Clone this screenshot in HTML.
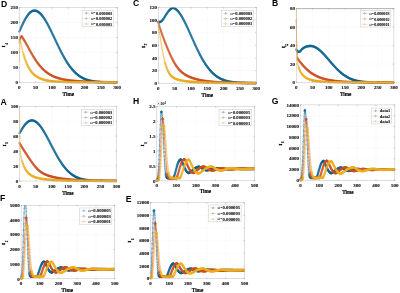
<!DOCTYPE html>
<html><head><meta charset="utf-8"><style>
html,body{margin:0;padding:0;background:#fff;width:400px;height:293px;overflow:hidden}
svg{display:block;filter:blur(0.55px)}
.tk text{font-family:"Liberation Serif",serif;font-weight:bold;font-size:5px;fill:#111;stroke:#111;stroke-width:0.12px}
.tm{font-family:"Liberation Serif",serif;font-weight:bold;font-size:5.2px;fill:#000;stroke:#000;stroke-width:0.15px}
.lt{font-family:"Liberation Sans",sans-serif;font-weight:bold;font-size:8.6px;fill:#000}
.yl{font-family:"Liberation Serif",serif;font-weight:bold;font-size:4.4px;fill:#000;stroke:#000;stroke-width:0.3px}
.sb{font-family:"Liberation Serif",serif;font-weight:bold;font-size:3.2px;fill:#000;stroke:#000;stroke-width:0.15px}
.sb2{font-family:"Liberation Serif",serif;font-weight:bold;font-size:4.6px;fill:#111}
.lg{font-family:"Liberation Serif",serif;font-weight:bold;font-size:4.9px;fill:#000;stroke:#000;stroke-width:0.06px}
.lw{font-family:"Liberation Serif",serif;font-weight:bold;font-size:4.6px;fill:#333}
</style></head><body>
<svg width="400" height="293" viewBox="0 0 400 293">
<defs><marker id="m0" markerUnits="userSpaceOnUse" markerWidth="2.56" markerHeight="2.56" refX="1.28" refY="1.28" overflow="visible"><circle cx="1.28" cy="1.28" r="0.8" fill="none" stroke="#0a6290" stroke-width="0.46"/></marker><marker id="n0" markerUnits="userSpaceOnUse" markerWidth="2.56" markerHeight="2.56" refX="1.28" refY="1.28" overflow="visible"><circle cx="1.28" cy="1.28" r="0.78" fill="none" stroke="#0a6290" stroke-width="0.45"/></marker><marker id="s0" markerUnits="userSpaceOnUse" markerWidth="2.56" markerHeight="2.56" refX="1.28" refY="1.28" overflow="visible"><circle cx="1.28" cy="1.28" r="0.7" fill="none" stroke="#0a6290" stroke-opacity="0.6" stroke-width="0.38"/></marker><marker id="m1" markerUnits="userSpaceOnUse" markerWidth="2.56" markerHeight="2.56" refX="1.28" refY="1.28" overflow="visible"><circle cx="1.28" cy="1.28" r="0.8" fill="none" stroke="#cc4f22" stroke-width="0.46"/></marker><marker id="n1" markerUnits="userSpaceOnUse" markerWidth="2.56" markerHeight="2.56" refX="1.28" refY="1.28" overflow="visible"><circle cx="1.28" cy="1.28" r="0.78" fill="none" stroke="#cc4f22" stroke-width="0.45"/></marker><marker id="s1" markerUnits="userSpaceOnUse" markerWidth="2.56" markerHeight="2.56" refX="1.28" refY="1.28" overflow="visible"><circle cx="1.28" cy="1.28" r="0.7" fill="none" stroke="#cc4f22" stroke-opacity="0.6" stroke-width="0.38"/></marker><marker id="m2" markerUnits="userSpaceOnUse" markerWidth="2.56" markerHeight="2.56" refX="1.28" refY="1.28" overflow="visible"><circle cx="1.28" cy="1.28" r="0.8" fill="none" stroke="#ebae20" stroke-width="0.46"/></marker><marker id="n2" markerUnits="userSpaceOnUse" markerWidth="2.56" markerHeight="2.56" refX="1.28" refY="1.28" overflow="visible"><circle cx="1.28" cy="1.28" r="0.78" fill="none" stroke="#ebae20" stroke-width="0.45"/></marker><marker id="s2" markerUnits="userSpaceOnUse" markerWidth="2.56" markerHeight="2.56" refX="1.28" refY="1.28" overflow="visible"><circle cx="1.28" cy="1.28" r="0.7" fill="none" stroke="#ebae20" stroke-opacity="0.6" stroke-width="0.38"/></marker><clipPath id="cD"><rect x="17.8" y="7.4" width="99.7" height="76.3"/></clipPath><clipPath id="cC"><rect x="156.8" y="7.3" width="99.8" height="77.1"/></clipPath><clipPath id="cB"><rect x="294.8" y="8.4" width="99.4" height="75.4"/></clipPath><clipPath id="cA"><rect x="18" y="106" width="98.9" height="76.2"/></clipPath><clipPath id="cH"><rect x="155.3" y="106.3" width="99.6" height="75.7"/></clipPath><clipPath id="cG"><rect x="298.9" y="104.7" width="96.2" height="76.8"/></clipPath><clipPath id="cF"><rect x="19.6" y="205.1" width="95.4" height="74.9"/></clipPath><clipPath id="cE"><rect x="149" y="202.5" width="95.7" height="77.3"/></clipPath></defs>
<rect width="400" height="293" fill="#fff"/>
<path d="M35.62 7.6V82.5M51.93 7.6V82.5M68.25 7.6V82.5M84.57 7.6V82.5M100.88 7.6V82.5M19.3 67.52H117.2M19.3 52.54H117.2M19.3 37.56H117.2M19.3 22.58H117.2" stroke="#f6f6f6" stroke-width="0.5" fill="none"/>
<g clip-path="url(#cD)">
<polyline points="19.3,31.7 19.6,31 20,30.2 20.3,29.4 20.6,28.7 20.9,28 21.3,27.2 21.6,26.5 21.9,25.8 22.2,25.1 22.6,24.4 22.9,23.7 23.2,23 23.5,22.4 23.9,21.7 24.2,21.1 24.5,20.5 24.8,19.9 25.2,19.3 25.5,18.7 25.8,18.2 26.2,17.6 26.5,17.1 26.8,16.6 27.1,16.1 27.5,15.6 27.8,15.2 28.1,14.7 28.4,14.3 28.8,13.9 29.1,13.6 29.4,13.2 29.7,12.9 30.1,12.6 30.4,12.3 30.7,12 31,11.8 31.4,11.5 31.7,11.3 32,11.2 32.4,11 32.7,10.9 33,10.8 33.3,10.7 33.7,10.6 34,10.6 34.3,10.6 34.6,10.6 35,10.6 35.3,10.7 35.6,10.7 35.9,10.8 36.3,10.9 36.6,11 36.9,11.2 37.2,11.3 37.6,11.5 37.9,11.7 38.2,11.9 38.6,12.1 38.9,12.4 39.2,12.6 39.5,12.9 39.9,13.2 40.2,13.5 40.5,13.8 40.8,14.1 41.2,14.5 41.5,14.9 41.8,15.2 42.1,15.6 42.5,16.1 42.8,16.5 43.1,16.9 43.4,17.4 43.8,17.8 44.1,18.3 44.4,18.8 44.8,19.3 45.1,19.8 45.4,20.4 45.7,20.9 46.1,21.4 46.4,22 46.7,22.6 47,23.2 47.4,23.7 47.7,24.3 48,25 48.3,25.6 48.7,26.2 49,26.8 49.3,27.5 49.6,28.1 50,28.7 50.3,29.4 50.6,30.1 51,30.7 51.3,31.4 51.6,32.1 51.9,32.7 52.3,33.4 52.6,34.1 52.9,34.8 53.2,35.5 53.6,36.2 53.9,36.9 54.2,37.5 54.5,38.2 54.9,38.9 55.2,39.6 55.5,40.3 55.8,41 56.2,41.7 56.5,42.4 56.8,43.1 57.2,43.8 57.5,44.4 57.8,45.1 58.1,45.8 58.5,46.5 58.8,47.2 59.1,47.8 59.4,48.5 59.8,49.1 60.1,49.8 60.4,50.4 60.7,51.1 61.1,51.7 61.4,52.4 61.7,53 62,53.6 62.4,54.2 62.7,54.8 63,55.5 63.4,56 63.7,56.6 64,57.2 64.3,57.8 64.7,58.4 65,58.9 65.3,59.5 65.6,60 66,60.6 66.3,61.1 66.6,61.6 66.9,62.2 67.3,62.7 67.6,63.2 67.9,63.7 68.2,64.1 68.6,64.6 68.9,65.1 69.2,65.6 69.6,66 69.9,66.5 70.2,66.9 70.5,67.3 70.9,67.7 71.2,68.2 71.5,68.6 71.8,69 72.2,69.3 72.5,69.7 72.8,70.1 73.1,70.5 73.5,70.8 73.8,71.2 74.1,71.5 74.5,71.9 74.8,72.2 75.1,72.5 75.4,72.8 75.8,73.1 76.1,73.4 76.4,73.7 76.7,74 77.1,74.3 77.4,74.5 77.7,74.8 78,75 78.4,75.3 78.7,75.5 79,75.8 79.3,76 79.7,76.2 80,76.4 80.3,76.7 80.7,76.9 81,77.1 81.3,77.3 81.6,77.4 82,77.6 82.3,77.8 82.6,78 82.9,78.1 83.3,78.3 83.6,78.5 83.9,78.6 84.2,78.8 84.6,78.9 84.9,79 85.2,79.2 85.5,79.3 85.9,79.4 86.2,79.5 86.5,79.7 86.9,79.8 87.2,79.9 87.5,80 87.8,80.1 88.2,80.2 88.5,80.3 88.8,80.4 89.1,80.5 89.5,80.5 89.8,80.6 90.1,80.7 90.4,80.8 90.8,80.9 91.1,80.9 91.4,81 91.7,81.1 92.1,81.1 92.4,81.2 92.7,81.2 93.1,81.3 93.4,81.4 93.7,81.4 94,81.5 94.4,81.5 94.7,81.5 95,81.6 95.3,81.6 95.7,81.7 96,81.7 96.3,81.7 96.6,81.8 97,81.8 97.3,81.8 97.6,81.9 97.9,81.9 98.3,81.9 98.6,82 98.9,82 99.3,82 99.6,82 99.9,82.1 100.2,82.1 100.6,82.1 100.9,82.1 101.2,82.1 101.5,82.2 101.9,82.2 102.2,82.2 102.5,82.2 102.8,82.2 103.2,82.2 103.5,82.3 103.8,82.3 104.1,82.3 104.5,82.3 104.8,82.3 105.1,82.3 105.5,82.3 105.8,82.3 106.1,82.3 106.4,82.3 106.8,82.4 107.1,82.4 107.4,82.4 107.7,82.4 108.1,82.4 108.4,82.4 108.7,82.4 109,82.4 109.4,82.4 109.7,82.4 110,82.4 110.3,82.4 110.7,82.4 111,82.4 111.3,82.4 111.7,82.4 112,82.4 112.3,82.4 112.6,82.5 113,82.5 113.3,82.5 113.6,82.5 113.9,82.5 114.3,82.5 114.6,82.5 114.9,82.5 115.2,82.5 115.6,82.5 115.9,82.5 116.2,82.5 116.5,82.5 116.9,82.5 117.2,82.5" fill="none" stroke="#0a6290" stroke-width="0.5" marker-start="url(#m0)" marker-mid="url(#m0)" marker-end="url(#m0)"/>
<polyline points="19.3,42.3 19.6,40.7 20,39.4" fill="none" stroke="#cc4f22" stroke-width="0.5" marker-start="url(#s1)" marker-mid="url(#s1)" marker-end="url(#s1)"/>
<polyline points="20,39.4 20.3,38.3 20.6,37.4 20.9,36.8 21.3,36.3 21.6,36.1 21.9,36.5 22.2,37.1 22.6,37.6 22.9,38.2 23.2,38.7 23.5,39.3 23.9,39.8 24.2,40.3 24.5,40.8 24.8,41.4 25.2,41.9 25.5,42.5 25.8,43 26.2,43.6 26.5,44.2 26.8,44.7 27.1,45.3 27.5,45.9 27.8,46.5 28.1,47.1 28.4,47.8 28.8,48.4 29.1,49 29.4,49.6 29.7,50.2 30.1,50.8 30.4,51.4 30.7,52 31,52.6 31.4,53.2 31.7,53.7 32,54.3 32.4,54.9 32.7,55.4 33,56 33.3,56.5 33.7,57.1 34,57.6 34.3,58.1 34.6,58.6 35,59.1 35.3,59.6 35.6,60.1 35.9,60.6 36.3,61.1 36.6,61.5 36.9,62 37.2,62.5 37.6,62.9 37.9,63.3 38.2,63.8 38.6,64.2 38.9,64.6 39.2,65 39.5,65.4 39.9,65.8 40.2,66.2 40.5,66.6 40.8,66.9 41.2,67.3 41.5,67.7 41.8,68 42.1,68.3 42.5,68.7 42.8,69 43.1,69.3 43.4,69.6 43.8,69.9 44.1,70.2 44.4,70.5 44.8,70.8 45.1,71.1 45.4,71.4 45.7,71.6 46.1,71.9 46.4,72.1 46.7,72.4 47,72.6 47.4,72.9 47.7,73.1 48,73.3 48.3,73.6 48.7,73.8 49,74 49.3,74.2 49.6,74.4 50,74.6 50.3,74.8 50.6,74.9 51,75.1 51.3,75.3 51.6,75.5 51.9,75.6 52.3,75.8 52.6,76 52.9,76.1 53.2,76.3 53.6,76.4 53.9,76.6 54.2,76.7 54.5,76.8 54.9,77 55.2,77.1 55.5,77.2 55.8,77.3 56.2,77.5 56.5,77.6 56.8,77.7 57.2,77.8 57.5,77.9 57.8,78 58.1,78.1 58.5,78.2 58.8,78.3 59.1,78.4 59.4,78.5 59.8,78.6 60.1,78.7 60.4,78.8 60.7,78.8 61.1,78.9 61.4,79 61.7,79.1 62,79.1 62.4,79.2 62.7,79.3 63,79.4 63.4,79.4 63.7,79.5 64,79.6 64.3,79.6 64.7,79.7 65,79.7 65.3,79.8 65.6,79.9 66,79.9 66.3,80 66.6,80 66.9,80.1 67.3,80.1 67.6,80.2 67.9,80.2 68.2,80.3 68.6,80.3 68.9,80.3 69.2,80.4 69.6,80.4 69.9,80.5 70.2,80.5 70.5,80.6 70.9,80.6 71.2,80.6 71.5,80.7 71.8,80.7 72.2,80.7 72.5,80.8 72.8,80.8 73.1,80.8 73.5,80.9 73.8,80.9 74.1,80.9 74.5,81 74.8,81 75.1,81 75.4,81 75.8,81.1 76.1,81.1 76.4,81.1 76.7,81.2 77.1,81.2 77.4,81.2 77.7,81.2 78,81.3 78.4,81.3 78.7,81.3 79,81.3 79.3,81.3 79.7,81.4 80,81.4 80.3,81.4 80.7,81.4 81,81.4 81.3,81.5 81.6,81.5 82,81.5 82.3,81.5 82.6,81.5 82.9,81.6 83.3,81.6 83.6,81.6 83.9,81.6 84.2,81.6 84.6,81.6 84.9,81.7 85.2,81.7 85.5,81.7 85.9,81.7 86.2,81.7 86.5,81.7 86.9,81.7 87.2,81.8 87.5,81.8 87.8,81.8 88.2,81.8 88.5,81.8 88.8,81.8 89.1,81.8 89.5,81.8 89.8,81.9 90.1,81.9 90.4,81.9 90.8,81.9 91.1,81.9 91.4,81.9 91.7,81.9 92.1,81.9 92.4,81.9 92.7,82 93.1,82 93.4,82 93.7,82 94,82 94.4,82 94.7,82 95,82 95.3,82 95.7,82 96,82 96.3,82.1 96.6,82.1 97,82.1 97.3,82.1 97.6,82.1 97.9,82.1 98.3,82.1 98.6,82.1 98.9,82.1 99.3,82.1 99.6,82.1 99.9,82.1 100.2,82.1 100.6,82.1 100.9,82.2 101.2,82.2 101.5,82.2 101.9,82.2 102.2,82.2 102.5,82.2 102.8,82.2 103.2,82.2 103.5,82.2 103.8,82.2 104.1,82.2 104.5,82.2 104.8,82.2 105.1,82.2 105.5,82.2 105.8,82.2 106.1,82.2 106.4,82.2 106.8,82.2 107.1,82.3 107.4,82.3 107.7,82.3 108.1,82.3 108.4,82.3 108.7,82.3 109,82.3 109.4,82.3 109.7,82.3 110,82.3 110.3,82.3 110.7,82.3 111,82.3 111.3,82.3 111.7,82.3 112,82.3 112.3,82.3 112.6,82.3 113,82.3 113.3,82.3 113.6,82.3 113.9,82.3 114.3,82.3 114.6,82.3 114.9,82.3 115.2,82.3 115.6,82.3 115.9,82.3 116.2,82.4 116.5,82.4 116.9,82.4 117.2,82.4" fill="none" stroke="#cc4f22" stroke-width="0.5" marker-start="url(#m1)" marker-mid="url(#m1)" marker-end="url(#m1)"/>
<polyline points="19.3,61.5 19.6,50.5 20,43.4 20.3,40.3 20.6,41.4 20.9,43.1 21.3,44.8 21.6,46.3 21.9,47.8 22.2,49.3 22.6,50.6 22.9,51.9 23.2,53.2 23.5,54.4" fill="none" stroke="#edb120" stroke-width="0.5" marker-start="url(#s2)" marker-mid="url(#s2)" marker-end="url(#s2)"/>
<polyline points="23.5,54.4 23.9,55.5 24.2,56.6 24.5,57.6 24.8,58.6 25.2,59.6 25.5,60.5 25.8,61.4 26.2,62.2 26.5,63 26.8,63.8 27.1,64.5 27.5,65.2 27.8,65.9 28.1,66.5 28.4,67.1 28.8,67.7 29.1,68.3 29.4,68.8 29.7,69.4 30.1,69.9 30.4,70.3 30.7,70.8 31,71.2 31.4,71.7 31.7,72.1 32,72.5 32.4,72.8 32.7,73.2 33,73.5 33.3,73.9 33.7,74.2 34,74.5 34.3,74.8 34.6,75.1 35,75.3 35.3,75.6 35.6,75.8 35.9,76.1 36.3,76.3 36.6,76.5 36.9,76.7 37.2,76.9 37.6,77.1 37.9,77.3 38.2,77.5 38.6,77.7 38.9,77.9 39.2,78 39.5,78.2 39.9,78.3 40.2,78.5 40.5,78.6 40.8,78.7 41.2,78.9 41.5,79 41.8,79.1 42.1,79.2 42.5,79.3 42.8,79.4 43.1,79.5 43.4,79.6 43.8,79.7 44.1,79.8 44.4,79.9 44.8,80 45.1,80.1 45.4,80.1 45.7,80.2 46.1,80.3 46.4,80.4 46.7,80.4 47,80.5 47.4,80.6 47.7,80.6 48,80.7 48.3,80.7 48.7,80.8 49,80.8 49.3,80.9 49.6,80.9 50,81 50.3,81 50.6,81.1 51,81.1 51.3,81.1 51.6,81.2 51.9,81.2 52.3,81.3 52.6,81.3 52.9,81.3 53.2,81.4 53.6,81.4 53.9,81.4 54.2,81.5 54.5,81.5 54.9,81.5 55.2,81.5 55.5,81.6 55.8,81.6 56.2,81.6 56.5,81.6 56.8,81.7 57.2,81.7 57.5,81.7 57.8,81.7 58.1,81.7 58.5,81.8 58.8,81.8 59.1,81.8 59.4,81.8 59.8,81.8 60.1,81.8 60.4,81.9 60.7,81.9 61.1,81.9 61.4,81.9 61.7,81.9 62,81.9 62.4,81.9 62.7,82 63,82 63.4,82 63.7,82 64,82 64.3,82 64.7,82 65,82 65.3,82 65.6,82.1 66,82.1 66.3,82.1 66.6,82.1 66.9,82.1 67.3,82.1 67.6,82.1 67.9,82.1 68.2,82.1 68.6,82.1 68.9,82.1 69.2,82.1 69.6,82.2 69.9,82.2 70.2,82.2 70.5,82.2 70.9,82.2 71.2,82.2 71.5,82.2 71.8,82.2 72.2,82.2 72.5,82.2 72.8,82.2 73.1,82.2 73.5,82.2 73.8,82.2 74.1,82.2 74.5,82.2 74.8,82.2 75.1,82.3 75.4,82.3 75.8,82.3 76.1,82.3 76.4,82.3 76.7,82.3 77.1,82.3 77.4,82.3 77.7,82.3 78,82.3 78.4,82.3 78.7,82.3 79,82.3 79.3,82.3 79.7,82.3 80,82.3 80.3,82.3 80.7,82.3 81,82.3 81.3,82.3 81.6,82.3 82,82.3 82.3,82.3 82.6,82.3 82.9,82.3 83.3,82.3 83.6,82.3 83.9,82.3 84.2,82.3 84.6,82.4 84.9,82.4 85.2,82.4 85.5,82.4 85.9,82.4 86.2,82.4 86.5,82.4 86.9,82.4 87.2,82.4 87.5,82.4 87.8,82.4 88.2,82.4 88.5,82.4 88.8,82.4 89.1,82.4 89.5,82.4 89.8,82.4 90.1,82.4 90.4,82.4 90.8,82.4 91.1,82.4 91.4,82.4 91.7,82.4 92.1,82.4 92.4,82.4 92.7,82.4 93.1,82.4 93.4,82.4 93.7,82.4 94,82.4 94.4,82.4 94.7,82.4 95,82.4 95.3,82.4 95.7,82.4 96,82.4 96.3,82.4 96.6,82.4 97,82.4 97.3,82.4 97.6,82.4 97.9,82.4 98.3,82.4 98.6,82.4 98.9,82.4 99.3,82.4 99.6,82.4 99.9,82.4 100.2,82.4 100.6,82.4 100.9,82.4 101.2,82.4 101.5,82.4 101.9,82.4 102.2,82.4 102.5,82.4 102.8,82.4 103.2,82.4 103.5,82.4 103.8,82.4 104.1,82.4 104.5,82.4 104.8,82.4 105.1,82.4 105.5,82.4 105.8,82.4 106.1,82.4 106.4,82.4 106.8,82.4 107.1,82.4 107.4,82.4 107.7,82.4 108.1,82.4 108.4,82.5 108.7,82.5 109,82.5 109.4,82.5 109.7,82.5 110,82.5 110.3,82.5 110.7,82.5 111,82.5 111.3,82.5 111.7,82.5 112,82.5 112.3,82.5 112.6,82.5 113,82.5 113.3,82.5 113.6,82.5 113.9,82.5 114.3,82.5 114.6,82.5 114.9,82.5 115.2,82.5 115.6,82.5 115.9,82.5 116.2,82.5 116.5,82.5 116.9,82.5 117.2,82.5" fill="none" stroke="#edb120" stroke-width="0.5" marker-start="url(#m2)" marker-mid="url(#m2)" marker-end="url(#m2)"/>
</g>
<rect x="19.3" y="7.6" width="97.9" height="74.9" fill="none" stroke="#bdbdbd" stroke-width="0.5"/>
<path d="M19.3 82.5v-1M19.3 7.6v1M35.62 82.5v-1M35.62 7.6v1M51.93 82.5v-1M51.93 7.6v1M68.25 82.5v-1M68.25 7.6v1M84.57 82.5v-1M84.57 7.6v1M100.88 82.5v-1M100.88 7.6v1M117.2 82.5v-1M117.2 7.6v1M19.3 82.5h1M117.2 82.5h-1M19.3 67.52h1M117.2 67.52h-1M19.3 52.54h1M117.2 52.54h-1M19.3 37.56h1M117.2 37.56h-1M19.3 22.58h1M117.2 22.58h-1M19.3 7.6h1M117.2 7.6h-1" stroke="#8a8a8a" stroke-width="0.45" fill="none"/>
<g class="tk"><text x="19.3" y="89" text-anchor="middle">0</text><text x="35.62" y="89" text-anchor="middle">50</text><text x="51.93" y="89" text-anchor="middle">100</text><text x="68.25" y="89" text-anchor="middle">150</text><text x="84.57" y="89" text-anchor="middle">200</text><text x="100.88" y="89" text-anchor="middle">250</text><text x="117.2" y="89" text-anchor="middle">300</text><text x="18" y="84.2" text-anchor="end">0</text><text x="18" y="69.22" text-anchor="end">50</text><text x="18" y="54.24" text-anchor="end">100</text><text x="18" y="39.26" text-anchor="end">150</text><text x="18" y="24.28" text-anchor="end">200</text><text x="18" y="9.3" text-anchor="end">250</text></g>
<text class="tm" x="68.3" y="96.4" text-anchor="middle">Time</text>
<text class="lt" x="0.9" y="6.6">D</text>
<text class="yl" transform="translate(5.45 46.4) rotate(-90)" text-anchor="middle">I</text>
<text class="sb" transform="translate(7.75 44) rotate(-90)" text-anchor="middle">4</text>
<rect x="82.1" y="10.4" width="31.1" height="16.1" fill="#fff" stroke="#c8c8c8" stroke-width="0.5"/>
<path d="M83.3 13.18H89.5" stroke="#8a9aa0" stroke-opacity="0.5" stroke-width="0.45"/>
<circle cx="86.4" cy="13.18" r="0.75" fill="none" stroke="#0a6290" stroke-opacity="0.75" stroke-width="0.45"/>
<text class="lw" x="91" y="14.48" textLength="4.6" lengthAdjust="spacingAndGlyphs">ω=</text>
<text class="lg" x="96" y="14.78" textLength="16.2" lengthAdjust="spacingAndGlyphs">0.000003</text>
<path d="M83.3 18.55H89.5" stroke="#8a9aa0" stroke-opacity="0.5" stroke-width="0.45"/>
<circle cx="86.4" cy="18.55" r="0.75" fill="none" stroke="#cc4f22" stroke-opacity="0.75" stroke-width="0.45"/>
<text class="lw" x="91" y="19.85" textLength="4.6" lengthAdjust="spacingAndGlyphs">ω=</text>
<text class="lg" x="96" y="20.15" textLength="16.2" lengthAdjust="spacingAndGlyphs">0.000002</text>
<path d="M83.3 23.92H89.5" stroke="#8a9aa0" stroke-opacity="0.5" stroke-width="0.45"/>
<circle cx="86.4" cy="23.92" r="0.75" fill="none" stroke="#ebae20" stroke-opacity="0.75" stroke-width="0.45"/>
<text class="lw" x="91" y="25.22" textLength="4.6" lengthAdjust="spacingAndGlyphs">ω=</text>
<text class="lg" x="96" y="25.52" textLength="16.2" lengthAdjust="spacingAndGlyphs">0.000001</text>
<path d="M174.63 7.5V83.2M190.97 7.5V83.2M207.3 7.5V83.2M223.63 7.5V83.2M239.97 7.5V83.2M158.3 70.58H256.3M158.3 57.97H256.3M158.3 45.35H256.3M158.3 32.73H256.3M158.3 20.12H256.3" stroke="#f6f6f6" stroke-width="0.5" fill="none"/>
<g clip-path="url(#cC)">
<polyline points="158.3,21.7 158.6,21.9 159,22 159.3,22.1 159.6,22.1 159.9,22.1 160.3,22 160.6,21.8 160.9,21.6 161.2,21.4 161.6,21.1 161.9,20.8 162.2,20.4 162.5,20 162.9,19.6 163.2,19.2 163.5,18.7 163.9,18.3 164.2,17.8 164.5,17.2 164.8,16.7 165.2,16.2 165.5,15.6 165.8,15.1 166.1,14.6 166.5,14.1 166.8,13.7 167.1,13.2 167.4,12.7 167.8,12.2 168.1,11.8 168.4,11.3 168.8,10.9 169.1,10.5 169.4,10.2 169.7,9.8 170.1,9.5 170.4,9.3 170.7,9 171,8.7 171.4,8.5 171.7,8.3 172,8.1 172.3,7.9 172.7,7.8 173,7.9 173.3,7.9 173.7,8 174,8.1 174.3,8.2 174.6,8.4 175,8.6 175.3,8.8 175.6,9 175.9,9.2 176.3,9.5 176.6,9.8 176.9,10.1 177.2,10.4 177.6,10.7 177.9,11.1 178.2,11.4 178.6,11.8 178.9,12.2 179.2,12.7 179.5,13.1 179.9,13.6 180.2,14.1 180.5,14.5 180.8,15 181.2,15.6 181.5,16.1 181.8,16.6 182.1,17.2 182.5,17.8 182.8,18.4 183.1,19 183.5,19.6 183.8,20.2 184.1,20.8 184.4,21.4 184.8,22.1 185.1,22.7 185.4,23.4 185.7,24.1 186.1,24.7 186.4,25.4 186.7,26.1 187,26.8 187.4,27.5 187.7,28.2 188,28.9 188.4,29.7 188.7,30.4 189,31.1 189.3,31.8 189.7,32.5 190,33.3 190.3,34 190.6,34.7 191,35.5 191.3,36.2 191.6,36.9 191.9,37.7 192.3,38.4 192.6,39.1 192.9,39.9 193.3,40.6 193.6,41.3 193.9,42.1 194.2,42.8 194.6,43.5 194.9,44.2 195.2,44.9 195.5,45.6 195.9,46.3 196.2,47 196.5,47.7 196.8,48.4 197.2,49.1 197.5,49.8 197.8,50.4 198.2,51.1 198.5,51.8 198.8,52.4 199.1,53.1 199.5,53.7 199.8,54.3 200.1,55 200.4,55.6 200.8,56.2 201.1,56.8 201.4,57.4 201.7,58 202.1,58.6 202.4,59.2 202.7,59.7 203.1,60.3 203.4,60.8 203.7,61.4 204,61.9 204.4,62.4 204.7,62.9 205,63.5 205.3,64 205.7,64.5 206,64.9 206.3,65.4 206.6,65.9 207,66.3 207.3,66.8 207.6,67.2 208,67.7 208.3,68.1 208.6,68.5 208.9,68.9 209.3,69.3 209.6,69.7 209.9,70.1 210.2,70.5 210.6,70.8 210.9,71.2 211.2,71.6 211.5,71.9 211.9,72.2 212.2,72.6 212.5,72.9 212.9,73.2 213.2,73.5 213.5,73.8 213.8,74.1 214.2,74.4 214.5,74.7 214.8,74.9 215.1,75.2 215.5,75.5 215.8,75.7 216.1,76 216.4,76.2 216.8,76.4 217.1,76.7 217.4,76.9 217.8,77.1 218.1,77.3 218.4,77.5 218.7,77.7 219.1,77.9 219.4,78.1 219.7,78.2 220,78.4 220.4,78.6 220.7,78.8 221,78.9 221.3,79.1 221.7,79.2 222,79.4 222.3,79.5 222.7,79.6 223,79.8 223.3,79.9 223.6,80 224,80.1 224.3,80.3 224.6,80.4 224.9,80.5 225.3,80.6 225.6,80.7 225.9,80.8 226.2,80.9 226.6,81 226.9,81.1 227.2,81.1 227.6,81.2 227.9,81.3 228.2,81.4 228.5,81.5 228.9,81.5 229.2,81.6 229.5,81.7 229.8,81.7 230.2,81.8 230.5,81.9 230.8,81.9 231.1,82 231.5,82 231.8,82.1 232.1,82.1 232.5,82.2 232.8,82.2 233.1,82.3 233.4,82.3 233.8,82.3 234.1,82.4 234.4,82.4 234.7,82.4 235.1,82.5 235.4,82.5 235.7,82.5 236,82.6 236.4,82.6 236.7,82.6 237,82.7 237.4,82.7 237.7,82.7 238,82.7 238.3,82.7 238.7,82.8 239,82.8 239.3,82.8 239.6,82.8 240,82.8 240.3,82.9 240.6,82.9 240.9,82.9 241.3,82.9 241.6,82.9 241.9,82.9 242.3,83 242.6,83 242.9,83 243.2,83 243.6,83 243.9,83 244.2,83 244.5,83 244.9,83 245.2,83 245.5,83.1 245.8,83.1 246.2,83.1 246.5,83.1 246.8,83.1 247.2,83.1 247.5,83.1 247.8,83.1 248.1,83.1 248.5,83.1 248.8,83.1 249.1,83.1 249.4,83.1 249.8,83.1 250.1,83.1 250.4,83.1 250.7,83.1 251.1,83.1 251.4,83.1 251.7,83.1 252.1,83.2 252.4,83.2 252.7,83.2 253,83.2 253.4,83.2 253.7,83.2 254,83.2 254.3,83.2 254.7,83.2 255,83.2 255.3,83.2 255.6,83.2 256,83.2 256.3,83.2" fill="none" stroke="#0a6290" stroke-width="0.5" marker-start="url(#m0)" marker-mid="url(#m0)" marker-end="url(#m0)"/>
<polyline points="158.3,22.7 158.6,23.8 159,24.9 159.3,25.9 159.6,27 159.9,28 160.3,29 160.6,30 160.9,30.9 161.2,31.9 161.6,32.8 161.9,33.8 162.2,34.7 162.5,35.6 162.9,36.5 163.2,37.4 163.5,38.3 163.9,39.1 164.2,40 164.5,40.8 164.8,41.7 165.2,42.5 165.5,43.4 165.8,44.2 166.1,45 166.5,45.8 166.8,46.6 167.1,47.4 167.4,48.2 167.8,49 168.1,49.8 168.4,50.5 168.8,51.3 169.1,52.1 169.4,52.8 169.7,53.5 170.1,54.3 170.4,55 170.7,55.7 171,56.4 171.4,57.1 171.7,57.7 172,58.4 172.3,59.1 172.7,59.7 173,60.3 173.3,60.9 173.7,61.5 174,62.1 174.3,62.7 174.6,63.3 175,63.8 175.3,64.3 175.6,64.9 175.9,65.4 176.3,65.9 176.6,66.3 176.9,66.8 177.2,67.2 177.6,67.7 177.9,68.1 178.2,68.5 178.6,68.9 178.9,69.3 179.2,69.7 179.5,70 179.9,70.4 180.2,70.7 180.5,71 180.8,71.3 181.2,71.6 181.5,71.9 181.8,72.2 182.1,72.5 182.5,72.7 182.8,73 183.1,73.2 183.5,73.5 183.8,73.7 184.1,73.9 184.4,74.2 184.8,74.4 185.1,74.6 185.4,74.8 185.7,75 186.1,75.2 186.4,75.3 186.7,75.5 187,75.7 187.4,75.9 187.7,76 188,76.2 188.4,76.3 188.7,76.5 189,76.6 189.3,76.8 189.7,76.9 190,77.1 190.3,77.2 190.6,77.3 191,77.5 191.3,77.6 191.6,77.7 191.9,77.8 192.3,77.9 192.6,78 192.9,78.2 193.3,78.3 193.6,78.4 193.9,78.5 194.2,78.6 194.6,78.7 194.9,78.8 195.2,78.9 195.5,79 195.9,79.1 196.2,79.1 196.5,79.2 196.8,79.3 197.2,79.4 197.5,79.5 197.8,79.6 198.2,79.6 198.5,79.7 198.8,79.8 199.1,79.9 199.5,79.9 199.8,80 200.1,80.1 200.4,80.1 200.8,80.2 201.1,80.3 201.4,80.3 201.7,80.4 202.1,80.5 202.4,80.5 202.7,80.6 203.1,80.6 203.4,80.7 203.7,80.7 204,80.8 204.4,80.8 204.7,80.9 205,80.9 205.3,81 205.7,81 206,81.1 206.3,81.1 206.6,81.2 207,81.2 207.3,81.3 207.6,81.3 208,81.3 208.3,81.4 208.6,81.4 208.9,81.5 209.3,81.5 209.6,81.5 209.9,81.6 210.2,81.6 210.6,81.6 210.9,81.7 211.2,81.7 211.5,81.7 211.9,81.8 212.2,81.8 212.5,81.8 212.9,81.9 213.2,81.9 213.5,81.9 213.8,81.9 214.2,82 214.5,82 214.8,82 215.1,82.1 215.5,82.1 215.8,82.1 216.1,82.1 216.4,82.1 216.8,82.2 217.1,82.2 217.4,82.2 217.8,82.2 218.1,82.3 218.4,82.3 218.7,82.3 219.1,82.3 219.4,82.3 219.7,82.4 220,82.4 220.4,82.4 220.7,82.4 221,82.4 221.3,82.4 221.7,82.5 222,82.5 222.3,82.5 222.7,82.5 223,82.5 223.3,82.5 223.6,82.5 224,82.6 224.3,82.6 224.6,82.6 224.9,82.6 225.3,82.6 225.6,82.6 225.9,82.6 226.2,82.7 226.6,82.7 226.9,82.7 227.2,82.7 227.6,82.7 227.9,82.7 228.2,82.7 228.5,82.7 228.9,82.7 229.2,82.8 229.5,82.8 229.8,82.8 230.2,82.8 230.5,82.8 230.8,82.8 231.1,82.8 231.5,82.8 231.8,82.8 232.1,82.8 232.5,82.8 232.8,82.8 233.1,82.9 233.4,82.9 233.8,82.9 234.1,82.9 234.4,82.9 234.7,82.9 235.1,82.9 235.4,82.9 235.7,82.9 236,82.9 236.4,82.9 236.7,82.9 237,82.9 237.4,82.9 237.7,82.9 238,83 238.3,83 238.7,83 239,83 239.3,83 239.6,83 240,83 240.3,83 240.6,83 240.9,83 241.3,83 241.6,83 241.9,83 242.3,83 242.6,83 242.9,83 243.2,83 243.6,83 243.9,83 244.2,83 244.5,83 244.9,83 245.2,83 245.5,83 245.8,83.1 246.2,83.1 246.5,83.1 246.8,83.1 247.2,83.1 247.5,83.1 247.8,83.1 248.1,83.1 248.5,83.1 248.8,83.1 249.1,83.1 249.4,83.1 249.8,83.1 250.1,83.1 250.4,83.1 250.7,83.1 251.1,83.1 251.4,83.1 251.7,83.1 252.1,83.1 252.4,83.1 252.7,83.1 253,83.1 253.4,83.1 253.7,83.1 254,83.1 254.3,83.1 254.7,83.1 255,83.1 255.3,83.1 255.6,83.1 256,83.1 256.3,83.1" fill="none" stroke="#cc4f22" stroke-width="0.5" marker-start="url(#m1)" marker-mid="url(#m1)" marker-end="url(#m1)"/>
<polyline points="158.3,26.2 158.6,27.5 159,29.2 159.3,31.1 159.6,33.2 159.9,35.3 160.3,37.4 160.6,39.5 160.9,41.6 161.2,43.7 161.6,45.7 161.9,47.6 162.2,49.5 162.5,51.4 162.9,53.1 163.2,54.8 163.5,56.4 163.9,57.9 164.2,59.3 164.5,60.7 164.8,62 165.2,63.2" fill="none" stroke="#edb120" stroke-width="0.5" marker-start="url(#s2)" marker-mid="url(#s2)" marker-end="url(#s2)"/>
<polyline points="165.2,63.2 165.5,64.3 165.8,65.4 166.1,66.4 166.5,67.3 166.8,68.2 167.1,69.1 167.4,69.8 167.8,70.6 168.1,71.3 168.4,71.9 168.8,72.5 169.1,73 169.4,73.6 169.7,74 170.1,74.5 170.4,74.9 170.7,75.3 171,75.7 171.4,76 171.7,76.3 172,76.6 172.3,76.9 172.7,77.1 173,77.4 173.3,77.6 173.7,77.8 174,78 174.3,78.2 174.6,78.4 175,78.5 175.3,78.7 175.6,78.8 175.9,79 176.3,79.1 176.6,79.2 176.9,79.3 177.2,79.4 177.6,79.5 177.9,79.6 178.2,79.7 178.6,79.8 178.9,79.9 179.2,80 179.5,80.1 179.9,80.2 180.2,80.2 180.5,80.3 180.8,80.4 181.2,80.4 181.5,80.5 181.8,80.5 182.1,80.6 182.5,80.7 182.8,80.7 183.1,80.8 183.5,80.8 183.8,80.9 184.1,80.9 184.4,81 184.8,81 185.1,81.1 185.4,81.1 185.7,81.1 186.1,81.2 186.4,81.2 186.7,81.3 187,81.3 187.4,81.3 187.7,81.4 188,81.4 188.4,81.5 188.7,81.5 189,81.5 189.3,81.6 189.7,81.6 190,81.6 190.3,81.7 190.6,81.7 191,81.7 191.3,81.7 191.6,81.8 191.9,81.8 192.3,81.8 192.6,81.9 192.9,81.9 193.3,81.9 193.6,81.9 193.9,82 194.2,82 194.6,82 194.9,82 195.2,82.1 195.5,82.1 195.9,82.1 196.2,82.1 196.5,82.1 196.8,82.2 197.2,82.2 197.5,82.2 197.8,82.2 198.2,82.2 198.5,82.3 198.8,82.3 199.1,82.3 199.5,82.3 199.8,82.3 200.1,82.3 200.4,82.4 200.8,82.4 201.1,82.4 201.4,82.4 201.7,82.4 202.1,82.4 202.4,82.5 202.7,82.5 203.1,82.5 203.4,82.5 203.7,82.5 204,82.5 204.4,82.5 204.7,82.6 205,82.6 205.3,82.6 205.7,82.6 206,82.6 206.3,82.6 206.6,82.6 207,82.6 207.3,82.6 207.6,82.7 208,82.7 208.3,82.7 208.6,82.7 208.9,82.7 209.3,82.7 209.6,82.7 209.9,82.7 210.2,82.7 210.6,82.7 210.9,82.8 211.2,82.8 211.5,82.8 211.9,82.8 212.2,82.8 212.5,82.8 212.9,82.8 213.2,82.8 213.5,82.8 213.8,82.8 214.2,82.8 214.5,82.8 214.8,82.8 215.1,82.9 215.5,82.9 215.8,82.9 216.1,82.9 216.4,82.9 216.8,82.9 217.1,82.9 217.4,82.9 217.8,82.9 218.1,82.9 218.4,82.9 218.7,82.9 219.1,82.9 219.4,82.9 219.7,82.9 220,82.9 220.4,82.9 220.7,83 221,83 221.3,83 221.7,83 222,83 222.3,83 222.7,83 223,83 223.3,83 223.6,83 224,83 224.3,83 224.6,83 224.9,83 225.3,83 225.6,83 225.9,83 226.2,83 226.6,83 226.9,83 227.2,83 227.6,83 227.9,83 228.2,83 228.5,83 228.9,83.1 229.2,83.1 229.5,83.1 229.8,83.1 230.2,83.1 230.5,83.1 230.8,83.1 231.1,83.1 231.5,83.1 231.8,83.1 232.1,83.1 232.5,83.1 232.8,83.1 233.1,83.1 233.4,83.1 233.8,83.1 234.1,83.1 234.4,83.1 234.7,83.1 235.1,83.1 235.4,83.1 235.7,83.1 236,83.1 236.4,83.1 236.7,83.1 237,83.1 237.4,83.1 237.7,83.1 238,83.1 238.3,83.1 238.7,83.1 239,83.1 239.3,83.1 239.6,83.1 240,83.1 240.3,83.1 240.6,83.1 240.9,83.1 241.3,83.1 241.6,83.1 241.9,83.1 242.3,83.1 242.6,83.1 242.9,83.1 243.2,83.1 243.6,83.1 243.9,83.1 244.2,83.1 244.5,83.1 244.9,83.1 245.2,83.1 245.5,83.1 245.8,83.1 246.2,83.1 246.5,83.1 246.8,83.1 247.2,83.2 247.5,83.2 247.8,83.2 248.1,83.2 248.5,83.2 248.8,83.2 249.1,83.2 249.4,83.2 249.8,83.2 250.1,83.2 250.4,83.2 250.7,83.2 251.1,83.2 251.4,83.2 251.7,83.2 252.1,83.2 252.4,83.2 252.7,83.2 253,83.2 253.4,83.2 253.7,83.2 254,83.2 254.3,83.2 254.7,83.2 255,83.2 255.3,83.2 255.6,83.2 256,83.2 256.3,83.2" fill="none" stroke="#edb120" stroke-width="0.5" marker-start="url(#m2)" marker-mid="url(#m2)" marker-end="url(#m2)"/>
</g>
<rect x="158.3" y="7.5" width="98" height="75.7" fill="none" stroke="#bdbdbd" stroke-width="0.5"/>
<path d="M158.3 83.2v-1M158.3 7.5v1M174.63 83.2v-1M174.63 7.5v1M190.97 83.2v-1M190.97 7.5v1M207.3 83.2v-1M207.3 7.5v1M223.63 83.2v-1M223.63 7.5v1M239.97 83.2v-1M239.97 7.5v1M256.3 83.2v-1M256.3 7.5v1M158.3 83.2h1M256.3 83.2h-1M158.3 70.58h1M256.3 70.58h-1M158.3 57.97h1M256.3 57.97h-1M158.3 45.35h1M256.3 45.35h-1M158.3 32.73h1M256.3 32.73h-1M158.3 20.12h1M256.3 20.12h-1M158.3 7.5h1M256.3 7.5h-1" stroke="#8a8a8a" stroke-width="0.45" fill="none"/>
<g class="tk"><text x="158.3" y="89.7" text-anchor="middle">0</text><text x="174.63" y="89.7" text-anchor="middle">50</text><text x="190.97" y="89.7" text-anchor="middle">100</text><text x="207.3" y="89.7" text-anchor="middle">150</text><text x="223.63" y="89.7" text-anchor="middle">200</text><text x="239.97" y="89.7" text-anchor="middle">250</text><text x="256.3" y="89.7" text-anchor="middle">300</text><text x="157" y="84.9" text-anchor="end">0</text><text x="157" y="72.28" text-anchor="end">20</text><text x="157" y="59.67" text-anchor="end">40</text><text x="157" y="47.05" text-anchor="end">60</text><text x="157" y="34.43" text-anchor="end">80</text><text x="157" y="21.82" text-anchor="end">100</text><text x="157" y="9.2" text-anchor="end">120</text></g>
<text class="tm" x="207.3" y="96.6" text-anchor="middle">Time</text>
<text class="lt" x="133" y="6.4">C</text>
<text class="yl" transform="translate(144.55 46.9) rotate(-90)" text-anchor="middle">I</text>
<text class="sb" transform="translate(146.85 44.5) rotate(-90)" text-anchor="middle">3</text>
<rect x="221.3" y="10.6" width="32.1" height="15.8" fill="#fff" stroke="#c8c8c8" stroke-width="0.5"/>
<path d="M222.5 13.33H228.7" stroke="#8a9aa0" stroke-opacity="0.5" stroke-width="0.45"/>
<circle cx="225.6" cy="13.33" r="0.75" fill="none" stroke="#0a6290" stroke-opacity="0.75" stroke-width="0.45"/>
<text class="lw" x="230.2" y="14.63" textLength="4.6" lengthAdjust="spacingAndGlyphs">ω=</text>
<text class="lg" x="235.2" y="14.93" textLength="17.2" lengthAdjust="spacingAndGlyphs">0.000003</text>
<path d="M222.5 18.6H228.7" stroke="#8a9aa0" stroke-opacity="0.5" stroke-width="0.45"/>
<circle cx="225.6" cy="18.6" r="0.75" fill="none" stroke="#cc4f22" stroke-opacity="0.75" stroke-width="0.45"/>
<text class="lw" x="230.2" y="19.9" textLength="4.6" lengthAdjust="spacingAndGlyphs">ω=</text>
<text class="lg" x="235.2" y="20.2" textLength="17.2" lengthAdjust="spacingAndGlyphs">0.000002</text>
<path d="M222.5 23.87H228.7" stroke="#8a9aa0" stroke-opacity="0.5" stroke-width="0.45"/>
<circle cx="225.6" cy="23.87" r="0.75" fill="none" stroke="#ebae20" stroke-opacity="0.75" stroke-width="0.45"/>
<text class="lw" x="230.2" y="25.17" textLength="4.6" lengthAdjust="spacingAndGlyphs">ω=</text>
<text class="lg" x="235.2" y="25.47" textLength="17.2" lengthAdjust="spacingAndGlyphs">0.000001</text>
<path d="M312.57 8.6V82.6M328.83 8.6V82.6M345.1 8.6V82.6M361.37 8.6V82.6M377.63 8.6V82.6M296.3 64.1H393.9M296.3 45.6H393.9M296.3 27.1H393.9" stroke="#f6f6f6" stroke-width="0.5" fill="none"/>
<g clip-path="url(#cB)">
<polyline points="296.3,49.3 296.6,50 297,50.7 297.3,51.1 297.6,51.4 297.9,51.6 298.3,51.7 298.6,51.8 298.9,51.9 299.2,51.9 299.6,51.8 299.9,51.6 300.2,51.3 300.5,50.9 300.9,50.5 301.2,50.1 301.5,49.7 301.8,49.3 302.2,49 302.5,48.7 302.8,48.5 303.1,48.3 303.5,48.1 303.8,47.8 304.1,47.6 304.4,47.4 304.8,47.3 305.1,47.1 305.4,46.9 305.7,46.8 306.1,46.7 306.4,46.6 306.7,46.5 307,46.5 307.4,46.4 307.7,46.3 308,46.2 308.3,46.2 308.7,46.1 309,46.1 309.3,46 309.6,46 310,46 310.3,46 310.6,46 310.9,46 311.3,46 311.6,46.1 311.9,46.1 312.2,46.2 312.6,46.2 312.9,46.3 313.2,46.4 313.5,46.5 313.9,46.6 314.2,46.8 314.5,46.9 314.8,47 315.2,47.2 315.5,47.4 315.8,47.5 316.1,47.7 316.5,47.9 316.8,48.1 317.1,48.3 317.4,48.5 317.8,48.8 318.1,49 318.4,49.2 318.7,49.5 319.1,49.7 319.4,50 319.7,50.3 320,50.6 320.4,50.9 320.7,51.1 321,51.4 321.4,51.8 321.7,52.1 322,52.4 322.3,52.7 322.7,53 323,53.4 323.3,53.7 323.6,54.1 324,54.4 324.3,54.8 324.6,55.1 324.9,55.5 325.3,55.8 325.6,56.2 325.9,56.6 326.2,56.9 326.6,57.3 326.9,57.7 327.2,58.1 327.5,58.4 327.9,58.8 328.2,59.2 328.5,59.6 328.8,60 329.2,60.3 329.5,60.7 329.8,61.1 330.1,61.5 330.5,61.9 330.8,62.2 331.1,62.6 331.4,63 331.8,63.4 332.1,63.7 332.4,64.1 332.7,64.5 333.1,64.8 333.4,65.2 333.7,65.6 334,65.9 334.4,66.3 334.7,66.6 335,67 335.3,67.3 335.7,67.7 336,68 336.3,68.4 336.6,68.7 337,69 337.3,69.4 337.6,69.7 337.9,70 338.3,70.3 338.6,70.6 338.9,70.9 339.2,71.2 339.6,71.5 339.9,71.8 340.2,72.1 340.5,72.4 340.9,72.7 341.2,72.9 341.5,73.2 341.8,73.5 342.2,73.7 342.5,74 342.8,74.2 343.1,74.5 343.5,74.7 343.8,74.9 344.1,75.2 344.4,75.4 344.8,75.6 345.1,75.8 345.4,76 345.8,76.2 346.1,76.4 346.4,76.6 346.7,76.8 347.1,77 347.4,77.2 347.7,77.4 348,77.6 348.4,77.7 348.7,77.9 349,78.1 349.3,78.2 349.7,78.4 350,78.5 350.3,78.7 350.6,78.8 351,78.9 351.3,79.1 351.6,79.2 351.9,79.3 352.3,79.4 352.6,79.6 352.9,79.7 353.2,79.8 353.6,79.9 353.9,80 354.2,80.1 354.5,80.2 354.9,80.3 355.2,80.4 355.5,80.5 355.8,80.6 356.2,80.6 356.5,80.7 356.8,80.8 357.1,80.9 357.5,80.9 357.8,81 358.1,81.1 358.4,81.1 358.8,81.2 359.1,81.3 359.4,81.3 359.7,81.4 360.1,81.4 360.4,81.5 360.7,81.5 361,81.6 361.4,81.6 361.7,81.7 362,81.7 362.3,81.8 362.7,81.8 363,81.8 363.3,81.9 363.6,81.9 364,81.9 364.3,82 364.6,82 364.9,82 365.3,82.1 365.6,82.1 365.9,82.1 366.2,82.1 366.6,82.2 366.9,82.2 367.2,82.2 367.5,82.2 367.9,82.2 368.2,82.3 368.5,82.3 368.8,82.3 369.2,82.3 369.5,82.3 369.8,82.3 370.2,82.3 370.5,82.4 370.8,82.4 371.1,82.4 371.5,82.4 371.8,82.4 372.1,82.4 372.4,82.4 372.8,82.4 373.1,82.4 373.4,82.5 373.7,82.5 374.1,82.5 374.4,82.5 374.7,82.5 375,82.5 375.4,82.5 375.7,82.5 376,82.5 376.3,82.5 376.7,82.5 377,82.5 377.3,82.5 377.6,82.5 378,82.5 378.3,82.5 378.6,82.5 378.9,82.5 379.3,82.6 379.6,82.6 379.9,82.6 380.2,82.6 380.6,82.6 380.9,82.6 381.2,82.6 381.5,82.6 381.9,82.6 382.2,82.6 382.5,82.6 382.8,82.6 383.2,82.6 383.5,82.6 383.8,82.6 384.1,82.6 384.5,82.6 384.8,82.6 385.1,82.6 385.4,82.6 385.8,82.6 386.1,82.6 386.4,82.6 386.7,82.6 387.1,82.6 387.4,82.6 387.7,82.6 388,82.6 388.4,82.6 388.7,82.6 389,82.6 389.3,82.6 389.7,82.6 390,82.6 390.3,82.6 390.6,82.6 391,82.6 391.3,82.6 391.6,82.6 391.9,82.6 392.3,82.6 392.6,82.6 392.9,82.6 393.2,82.6 393.6,82.6 393.9,82.6" fill="none" stroke="#0a6290" stroke-width="0.5" marker-start="url(#m0)" marker-mid="url(#m0)" marker-end="url(#m0)"/>
<polyline points="296.3,20.2 296.6,45.3 297,53.9 297.3,57 297.6,58.3" fill="none" stroke="#cc4f22" stroke-width="0.5" marker-start="url(#s1)" marker-mid="url(#s1)" marker-end="url(#s1)"/>
<polyline points="297.6,58.3 297.9,59 298.3,59.5 298.6,60 298.9,60.4 299.2,60.9 299.6,61.3 299.9,61.7 300.2,62.1 300.5,62.5 300.9,62.9 301.2,63.3 301.5,63.7 301.8,64.1 302.2,64.5 302.5,64.9 302.8,65.3 303.1,65.6 303.5,66 303.8,66.4 304.1,66.7 304.4,67 304.8,67.4 305.1,67.7 305.4,68 305.7,68.4 306.1,68.7 306.4,69 306.7,69.3 307,69.6 307.4,69.9 307.7,70.2 308,70.4 308.3,70.7 308.7,71 309,71.3 309.3,71.5 309.6,71.8 310,72 310.3,72.3 310.6,72.5 310.9,72.7 311.3,73 311.6,73.2 311.9,73.4 312.2,73.6 312.6,73.8 312.9,74 313.2,74.2 313.5,74.4 313.9,74.6 314.2,74.8 314.5,75 314.8,75.2 315.2,75.4 315.5,75.5 315.8,75.7 316.1,75.9 316.5,76 316.8,76.2 317.1,76.3 317.4,76.5 317.8,76.6 318.1,76.8 318.4,76.9 318.7,77 319.1,77.2 319.4,77.3 319.7,77.4 320,77.6 320.4,77.7 320.7,77.8 321,77.9 321.4,78 321.7,78.1 322,78.3 322.3,78.4 322.7,78.5 323,78.6 323.3,78.7 323.6,78.8 324,78.9 324.3,78.9 324.6,79 324.9,79.1 325.3,79.2 325.6,79.3 325.9,79.4 326.2,79.4 326.6,79.5 326.9,79.6 327.2,79.7 327.5,79.7 327.9,79.8 328.2,79.9 328.5,80 328.8,80 329.2,80.1 329.5,80.1 329.8,80.2 330.1,80.3 330.5,80.3 330.8,80.4 331.1,80.4 331.4,80.5 331.8,80.5 332.1,80.6 332.4,80.6 332.7,80.7 333.1,80.7 333.4,80.8 333.7,80.8 334,80.9 334.4,80.9 334.7,81 335,81 335.3,81 335.7,81.1 336,81.1 336.3,81.1 336.6,81.2 337,81.2 337.3,81.2 337.6,81.3 337.9,81.3 338.3,81.3 338.6,81.4 338.9,81.4 339.2,81.4 339.6,81.5 339.9,81.5 340.2,81.5 340.5,81.5 340.9,81.6 341.2,81.6 341.5,81.6 341.8,81.6 342.2,81.7 342.5,81.7 342.8,81.7 343.1,81.7 343.5,81.8 343.8,81.8 344.1,81.8 344.4,81.8 344.8,81.8 345.1,81.9 345.4,81.9 345.8,81.9 346.1,81.9 346.4,81.9 346.7,81.9 347.1,82 347.4,82 347.7,82 348,82 348.4,82 348.7,82 349,82 349.3,82.1 349.7,82.1 350,82.1 350.3,82.1 350.6,82.1 351,82.1 351.3,82.1 351.6,82.1 351.9,82.1 352.3,82.2 352.6,82.2 352.9,82.2 353.2,82.2 353.6,82.2 353.9,82.2 354.2,82.2 354.5,82.2 354.9,82.2 355.2,82.2 355.5,82.2 355.8,82.3 356.2,82.3 356.5,82.3 356.8,82.3 357.1,82.3 357.5,82.3 357.8,82.3 358.1,82.3 358.4,82.3 358.8,82.3 359.1,82.3 359.4,82.3 359.7,82.3 360.1,82.3 360.4,82.3 360.7,82.4 361,82.4 361.4,82.4 361.7,82.4 362,82.4 362.3,82.4 362.7,82.4 363,82.4 363.3,82.4 363.6,82.4 364,82.4 364.3,82.4 364.6,82.4 364.9,82.4 365.3,82.4 365.6,82.4 365.9,82.4 366.2,82.4 366.6,82.4 366.9,82.4 367.2,82.4 367.5,82.4 367.9,82.4 368.2,82.4 368.5,82.4 368.8,82.5 369.2,82.5 369.5,82.5 369.8,82.5 370.2,82.5 370.5,82.5 370.8,82.5 371.1,82.5 371.5,82.5 371.8,82.5 372.1,82.5 372.4,82.5 372.8,82.5 373.1,82.5 373.4,82.5 373.7,82.5 374.1,82.5 374.4,82.5 374.7,82.5 375,82.5 375.4,82.5 375.7,82.5 376,82.5 376.3,82.5 376.7,82.5 377,82.5 377.3,82.5 377.6,82.5 378,82.5 378.3,82.5 378.6,82.5 378.9,82.5 379.3,82.5 379.6,82.5 379.9,82.5 380.2,82.5 380.6,82.5 380.9,82.5 381.2,82.5 381.5,82.5 381.9,82.5 382.2,82.5 382.5,82.5 382.8,82.5 383.2,82.5 383.5,82.5 383.8,82.5 384.1,82.5 384.5,82.5 384.8,82.5 385.1,82.5 385.4,82.5 385.8,82.5 386.1,82.5 386.4,82.5 386.7,82.5 387.1,82.5 387.4,82.5 387.7,82.5 388,82.5 388.4,82.5 388.7,82.5 389,82.5 389.3,82.5 389.7,82.5 390,82.5 390.3,82.5 390.6,82.5 391,82.5 391.3,82.5 391.6,82.6 391.9,82.6 392.3,82.6 392.6,82.6 392.9,82.6 393.2,82.6 393.6,82.6 393.9,82.6" fill="none" stroke="#cc4f22" stroke-width="0.5" marker-start="url(#m1)" marker-mid="url(#m1)" marker-end="url(#m1)"/>
<polyline points="296.3,7.1 296.6,41.9 297,54.5 297.3,59.9 297.6,62.7 297.9,64.6 298.3,66 298.6,67.2" fill="none" stroke="#edb120" stroke-width="0.5" marker-start="url(#s2)" marker-mid="url(#s2)" marker-end="url(#s2)"/>
<polyline points="298.6,67.2 298.9,68.2 299.2,69.1 299.6,69.9 299.9,70.6 300.2,71.3 300.5,71.9 300.9,72.5 301.2,73 301.5,73.5 301.8,74 302.2,74.4 302.5,74.8 302.8,75.2 303.1,75.5 303.5,75.8 303.8,76.1 304.1,76.4 304.4,76.7 304.8,77 305.1,77.2 305.4,77.4 305.7,77.6 306.1,77.8 306.4,78 306.7,78.2 307,78.4 307.4,78.5 307.7,78.7 308,78.9 308.3,79 308.7,79.1 309,79.3 309.3,79.4 309.6,79.5 310,79.6 310.3,79.7 310.6,79.8 310.9,79.9 311.3,80 311.6,80.1 311.9,80.2 312.2,80.3 312.6,80.3 312.9,80.4 313.2,80.5 313.5,80.6 313.9,80.6 314.2,80.7 314.5,80.7 314.8,80.8 315.2,80.9 315.5,80.9 315.8,81 316.1,81 316.5,81.1 316.8,81.1 317.1,81.2 317.4,81.2 317.8,81.2 318.1,81.3 318.4,81.3 318.7,81.4 319.1,81.4 319.4,81.4 319.7,81.5 320,81.5 320.4,81.5 320.7,81.5 321,81.6 321.4,81.6 321.7,81.6 322,81.7 322.3,81.7 322.7,81.7 323,81.7 323.3,81.8 323.6,81.8 324,81.8 324.3,81.8 324.6,81.8 324.9,81.9 325.3,81.9 325.6,81.9 325.9,81.9 326.2,81.9 326.6,81.9 326.9,82 327.2,82 327.5,82 327.9,82 328.2,82 328.5,82 328.8,82 329.2,82.1 329.5,82.1 329.8,82.1 330.1,82.1 330.5,82.1 330.8,82.1 331.1,82.1 331.4,82.1 331.8,82.1 332.1,82.2 332.4,82.2 332.7,82.2 333.1,82.2 333.4,82.2 333.7,82.2 334,82.2 334.4,82.2 334.7,82.2 335,82.2 335.3,82.2 335.7,82.3 336,82.3 336.3,82.3 336.6,82.3 337,82.3 337.3,82.3 337.6,82.3 337.9,82.3 338.3,82.3 338.6,82.3 338.9,82.3 339.2,82.3 339.6,82.3 339.9,82.3 340.2,82.3 340.5,82.3 340.9,82.3 341.2,82.4 341.5,82.4 341.8,82.4 342.2,82.4 342.5,82.4 342.8,82.4 343.1,82.4 343.5,82.4 343.8,82.4 344.1,82.4 344.4,82.4 344.8,82.4 345.1,82.4 345.4,82.4 345.8,82.4 346.1,82.4 346.4,82.4 346.7,82.4 347.1,82.4 347.4,82.4 347.7,82.4 348,82.4 348.4,82.4 348.7,82.4 349,82.4 349.3,82.4 349.7,82.4 350,82.4 350.3,82.4 350.6,82.4 351,82.5 351.3,82.5 351.6,82.5 351.9,82.5 352.3,82.5 352.6,82.5 352.9,82.5 353.2,82.5 353.6,82.5 353.9,82.5 354.2,82.5 354.5,82.5 354.9,82.5 355.2,82.5 355.5,82.5 355.8,82.5 356.2,82.5 356.5,82.5 356.8,82.5 357.1,82.5 357.5,82.5 357.8,82.5 358.1,82.5 358.4,82.5 358.8,82.5 359.1,82.5 359.4,82.5 359.7,82.5 360.1,82.5 360.4,82.5 360.7,82.5 361,82.5 361.4,82.5 361.7,82.5 362,82.5 362.3,82.5 362.7,82.5 363,82.5 363.3,82.5 363.6,82.5 364,82.5 364.3,82.5 364.6,82.5 364.9,82.5 365.3,82.5 365.6,82.5 365.9,82.5 366.2,82.5 366.6,82.5 366.9,82.5 367.2,82.5 367.5,82.5 367.9,82.5 368.2,82.5 368.5,82.5 368.8,82.5 369.2,82.5 369.5,82.5 369.8,82.5 370.2,82.5 370.5,82.5 370.8,82.5 371.1,82.5 371.5,82.5 371.8,82.5 372.1,82.5 372.4,82.5 372.8,82.5 373.1,82.5 373.4,82.5 373.7,82.5 374.1,82.5 374.4,82.5 374.7,82.5 375,82.5 375.4,82.5 375.7,82.5 376,82.5 376.3,82.5 376.7,82.5 377,82.5 377.3,82.6 377.6,82.6 378,82.6 378.3,82.6 378.6,82.6 378.9,82.6 379.3,82.6 379.6,82.6 379.9,82.6 380.2,82.6 380.6,82.6 380.9,82.6 381.2,82.6 381.5,82.6 381.9,82.6 382.2,82.6 382.5,82.6 382.8,82.6 383.2,82.6 383.5,82.6 383.8,82.6 384.1,82.6 384.5,82.6 384.8,82.6 385.1,82.6 385.4,82.6 385.8,82.6 386.1,82.6 386.4,82.6 386.7,82.6 387.1,82.6 387.4,82.6 387.7,82.6 388,82.6 388.4,82.6 388.7,82.6 389,82.6 389.3,82.6 389.7,82.6 390,82.6 390.3,82.6 390.6,82.6 391,82.6 391.3,82.6 391.6,82.6 391.9,82.6 392.3,82.6 392.6,82.6 392.9,82.6 393.2,82.6 393.6,82.6 393.9,82.6" fill="none" stroke="#edb120" stroke-width="0.5" marker-start="url(#m2)" marker-mid="url(#m2)" marker-end="url(#m2)"/>
</g>
<rect x="296.3" y="8.6" width="97.6" height="74" fill="none" stroke="#bdbdbd" stroke-width="0.5"/>
<path d="M296.3 82.6v-1M296.3 8.6v1M312.57 82.6v-1M312.57 8.6v1M328.83 82.6v-1M328.83 8.6v1M345.1 82.6v-1M345.1 8.6v1M361.37 82.6v-1M361.37 8.6v1M377.63 82.6v-1M377.63 8.6v1M393.9 82.6v-1M393.9 8.6v1M296.3 82.6h1M393.9 82.6h-1M296.3 64.1h1M393.9 64.1h-1M296.3 45.6h1M393.9 45.6h-1M296.3 27.1h1M393.9 27.1h-1M296.3 8.6h1M393.9 8.6h-1" stroke="#8a8a8a" stroke-width="0.45" fill="none"/>
<g class="tk"><text x="296.3" y="89.1" text-anchor="middle">0</text><text x="312.57" y="89.1" text-anchor="middle">50</text><text x="328.83" y="89.1" text-anchor="middle">100</text><text x="345.1" y="89.1" text-anchor="middle">150</text><text x="361.37" y="89.1" text-anchor="middle">200</text><text x="377.63" y="89.1" text-anchor="middle">250</text><text x="393.9" y="89.1" text-anchor="middle">300</text><text x="295" y="84.3" text-anchor="end">0</text><text x="295" y="65.8" text-anchor="end">20</text><text x="295" y="47.3" text-anchor="end">40</text><text x="295" y="28.8" text-anchor="end">60</text><text x="295" y="10.3" text-anchor="end">80</text></g>
<text class="tm" x="345.6" y="96.2" text-anchor="middle">Time</text>
<text class="lt" x="272" y="6.3">B</text>
<text class="yl" transform="translate(284.55 47.1) rotate(-90)" text-anchor="middle">I</text>
<text class="sb" x="285.05" y="46.9">1*</text>
<path d="M296.3 8.6H393.9" stroke="#9a9a9a" stroke-width="0.6"/>
<rect x="360.3" y="10.6" width="30.2" height="16.4" fill="#fff" stroke="#c8c8c8" stroke-width="0.5"/>
<path d="M361.5 13.43H367.7" stroke="#8a9aa0" stroke-opacity="0.5" stroke-width="0.45"/>
<circle cx="364.6" cy="13.43" r="0.75" fill="none" stroke="#0a6290" stroke-opacity="0.75" stroke-width="0.45"/>
<text class="lw" x="369.2" y="14.73" textLength="4.6" lengthAdjust="spacingAndGlyphs">ω=</text>
<text class="lg" x="374.2" y="15.03" textLength="15.3" lengthAdjust="spacingAndGlyphs">0.000003</text>
<path d="M361.5 18.9H367.7" stroke="#8a9aa0" stroke-opacity="0.5" stroke-width="0.45"/>
<circle cx="364.6" cy="18.9" r="0.75" fill="none" stroke="#cc4f22" stroke-opacity="0.75" stroke-width="0.45"/>
<text class="lw" x="369.2" y="20.2" textLength="4.6" lengthAdjust="spacingAndGlyphs">ω=</text>
<text class="lg" x="374.2" y="20.5" textLength="15.3" lengthAdjust="spacingAndGlyphs">0.000002</text>
<path d="M361.5 24.37H367.7" stroke="#8a9aa0" stroke-opacity="0.5" stroke-width="0.45"/>
<circle cx="364.6" cy="24.37" r="0.75" fill="none" stroke="#ebae20" stroke-opacity="0.75" stroke-width="0.45"/>
<text class="lw" x="369.2" y="25.67" textLength="4.6" lengthAdjust="spacingAndGlyphs">ω=</text>
<text class="lg" x="374.2" y="25.97" textLength="15.3" lengthAdjust="spacingAndGlyphs">0.000001</text>
<path d="M35.68 106.2V181M51.87 106.2V181M68.05 106.2V181M84.23 106.2V181M100.42 106.2V181M19.5 166.04H116.6M19.5 151.08H116.6M19.5 136.12H116.6M19.5 121.16H116.6" stroke="#f6f6f6" stroke-width="0.5" fill="none"/>
<g clip-path="url(#cA)">
<polyline points="19.5,133.4 19.8,132.8 20.1,132.2 20.5,131.6 20.8,131 21.1,130.5 21.4,129.9 21.8,129.4 22.1,128.8 22.4,128.3 22.7,127.8 23.1,127.3 23.4,126.9 23.7,126.4 24,126 24.4,125.5 24.7,125.1 25,124.7 25.3,124.3 25.6,123.9 26,123.6 26.3,123.3 26.6,122.9 26.9,122.6 27.3,122.4 27.6,122.1 27.9,121.8 28.2,121.6 28.6,121.4 28.9,121.2 29.2,121.1 29.5,120.9 29.9,120.8 30.2,120.7 30.5,120.6 30.8,120.5 31.2,120.5 31.5,120.4 31.8,120.4 32.1,120.4 32.4,120.4 32.8,120.5 33.1,120.6 33.4,120.6 33.7,120.7 34.1,120.8 34.4,121 34.7,121.1 35,121.3 35.4,121.5 35.7,121.7 36,121.9 36.3,122.1 36.7,122.4 37,122.6 37.3,122.9 37.6,123.2 37.9,123.5 38.3,123.8 38.6,124.2 38.9,124.5 39.2,124.9 39.6,125.3 39.9,125.7 40.2,126.1 40.5,126.5 40.9,126.9 41.2,127.4 41.5,127.8 41.8,128.3 42.2,128.8 42.5,129.3 42.8,129.8 43.1,130.3 43.5,130.8 43.8,131.3 44.1,131.9 44.4,132.4 44.7,133 45.1,133.5 45.4,134.1 45.7,134.7 46,135.3 46.4,135.8 46.7,136.4 47,137 47.3,137.6 47.7,138.2 48,138.9 48.3,139.5 48.6,140.1 49,140.7 49.3,141.3 49.6,141.9 49.9,142.6 50.2,143.2 50.6,143.8 50.9,144.4 51.2,145.1 51.5,145.7 51.9,146.3 52.2,146.9 52.5,147.6 52.8,148.2 53.2,148.8 53.5,149.4 53.8,150 54.1,150.6 54.5,151.3 54.8,151.9 55.1,152.5 55.4,153 55.8,153.6 56.1,154.2 56.4,154.8 56.7,155.4 57,155.9 57.4,156.5 57.7,157.1 58,157.6 58.3,158.2 58.7,158.7 59,159.2 59.3,159.8 59.6,160.3 60,160.8 60.3,161.3 60.6,161.8 60.9,162.3 61.3,162.8 61.6,163.3 61.9,163.7 62.2,164.2 62.5,164.7 62.9,165.1 63.2,165.5 63.5,166 63.8,166.4 64.2,166.8 64.5,167.2 64.8,167.6 65.1,168 65.5,168.4 65.8,168.8 66.1,169.1 66.4,169.5 66.8,169.9 67.1,170.2 67.4,170.5 67.7,170.9 68,171.2 68.4,171.5 68.7,171.8 69,172.1 69.3,172.4 69.7,172.7 70,173 70.3,173.2 70.6,173.5 71,173.8 71.3,174 71.6,174.3 71.9,174.5 72.3,174.7 72.6,175 72.9,175.2 73.2,175.4 73.6,175.6 73.9,175.8 74.2,176 74.5,176.2 74.8,176.4 75.2,176.5 75.5,176.7 75.8,176.9 76.1,177 76.5,177.2 76.8,177.3 77.1,177.5 77.4,177.6 77.8,177.8 78.1,177.9 78.4,178 78.7,178.1 79.1,178.3 79.4,178.4 79.7,178.5 80,178.6 80.3,178.7 80.7,178.8 81,178.9 81.3,179 81.6,179.1 82,179.1 82.3,179.2 82.6,179.3 82.9,179.4 83.3,179.5 83.6,179.5 83.9,179.6 84.2,179.7 84.6,179.7 84.9,179.8 85.2,179.8 85.5,179.9 85.9,179.9 86.2,180 86.5,180 86.8,180.1 87.1,180.1 87.5,180.2 87.8,180.2 88.1,180.3 88.4,180.3 88.8,180.3 89.1,180.4 89.4,180.4 89.7,180.4 90.1,180.5 90.4,180.5 90.7,180.5 91,180.5 91.4,180.6 91.7,180.6 92,180.6 92.3,180.6 92.6,180.6 93,180.7 93.3,180.7 93.6,180.7 93.9,180.7 94.3,180.7 94.6,180.7 94.9,180.8 95.2,180.8 95.6,180.8 95.9,180.8 96.2,180.8 96.5,180.8 96.9,180.8 97.2,180.8 97.5,180.8 97.8,180.9 98.2,180.9 98.5,180.9 98.8,180.9 99.1,180.9 99.4,180.9 99.8,180.9 100.1,180.9 100.4,180.9 100.7,180.9 101.1,180.9 101.4,180.9 101.7,180.9 102,180.9 102.4,180.9 102.7,180.9 103,180.9 103.3,180.9 103.7,181 104,181 104.3,181 104.6,181 104.9,181 105.3,181 105.6,181 105.9,181 106.2,181 106.6,181 106.9,181 107.2,181 107.5,181 107.9,181 108.2,181 108.5,181 108.8,181 109.2,181 109.5,181 109.8,181 110.1,181 110.5,181 110.8,181 111.1,181 111.4,181 111.7,181 112.1,181 112.4,181 112.7,181 113,181 113.4,181 113.7,181 114,181 114.3,181 114.7,181 115,181 115.3,181 115.6,181 116,181 116.3,181 116.6,181" fill="none" stroke="#0a6290" stroke-width="0.5" marker-start="url(#m0)" marker-mid="url(#m0)" marker-end="url(#m0)"/>
<polyline points="19.5,142.8 19.8,143.4 20.1,144 20.5,144.6 20.8,145.2 21.1,145.7 21.4,146.3 21.8,146.8 22.1,147.4 22.4,147.9 22.7,148.5 23.1,149 23.4,149.5 23.7,150 24,150.5 24.4,151 24.7,151.5 25,152 25.3,152.5 25.6,153 26,153.5 26.3,154 26.6,154.5 26.9,155 27.3,155.5 27.6,156 27.9,156.5 28.2,157 28.6,157.4 28.9,157.9 29.2,158.4 29.5,158.9 29.9,159.4 30.2,159.8 30.5,160.3 30.8,160.8 31.2,161.2 31.5,161.7 31.8,162.2 32.1,162.6 32.4,163.1 32.8,163.5 33.1,163.9 33.4,164.4 33.7,164.8 34.1,165.2 34.4,165.6 34.7,166 35,166.4 35.4,166.8 35.7,167.2 36,167.6 36.3,167.9 36.7,168.3 37,168.6 37.3,169 37.6,169.3 37.9,169.6 38.3,169.9 38.6,170.2 38.9,170.5 39.2,170.8 39.6,171 39.9,171.3 40.2,171.5 40.5,171.8 40.9,172 41.2,172.2 41.5,172.4 41.8,172.6 42.2,172.8 42.5,173 42.8,173.2 43.1,173.4 43.5,173.6 43.8,173.7 44.1,173.9 44.4,174.1 44.7,174.2 45.1,174.4 45.4,174.5 45.7,174.6 46,174.8 46.4,174.9 46.7,175 47,175.1 47.3,175.3 47.7,175.4 48,175.5 48.3,175.6 48.6,175.7 49,175.8 49.3,175.9 49.6,176 49.9,176.1 50.2,176.2 50.6,176.3 50.9,176.4 51.2,176.5 51.5,176.6 51.9,176.7 52.2,176.7 52.5,176.8 52.8,176.9 53.2,177 53.5,177.1 53.8,177.1 54.1,177.2 54.5,177.3 54.8,177.4 55.1,177.4 55.4,177.5 55.8,177.6 56.1,177.6 56.4,177.7 56.7,177.8 57,177.8 57.4,177.9 57.7,178 58,178 58.3,178.1 58.7,178.1 59,178.2 59.3,178.2 59.6,178.3 60,178.4 60.3,178.4 60.6,178.5 60.9,178.5 61.3,178.6 61.6,178.6 61.9,178.6 62.2,178.7 62.5,178.7 62.9,178.8 63.2,178.8 63.5,178.9 63.8,178.9 64.2,179 64.5,179 64.8,179 65.1,179.1 65.5,179.1 65.8,179.1 66.1,179.2 66.4,179.2 66.8,179.3 67.1,179.3 67.4,179.3 67.7,179.4 68,179.4 68.4,179.4 68.7,179.4 69,179.5 69.3,179.5 69.7,179.5 70,179.6 70.3,179.6 70.6,179.6 71,179.6 71.3,179.7 71.6,179.7 71.9,179.7 72.3,179.8 72.6,179.8 72.9,179.8 73.2,179.8 73.6,179.8 73.9,179.9 74.2,179.9 74.5,179.9 74.8,179.9 75.2,180 75.5,180 75.8,180 76.1,180 76.5,180 76.8,180.1 77.1,180.1 77.4,180.1 77.8,180.1 78.1,180.1 78.4,180.1 78.7,180.2 79.1,180.2 79.4,180.2 79.7,180.2 80,180.2 80.3,180.2 80.7,180.3 81,180.3 81.3,180.3 81.6,180.3 82,180.3 82.3,180.3 82.6,180.3 82.9,180.3 83.3,180.4 83.6,180.4 83.9,180.4 84.2,180.4 84.6,180.4 84.9,180.4 85.2,180.4 85.5,180.4 85.9,180.5 86.2,180.5 86.5,180.5 86.8,180.5 87.1,180.5 87.5,180.5 87.8,180.5 88.1,180.5 88.4,180.5 88.8,180.5 89.1,180.6 89.4,180.6 89.7,180.6 90.1,180.6 90.4,180.6 90.7,180.6 91,180.6 91.4,180.6 91.7,180.6 92,180.6 92.3,180.6 92.6,180.6 93,180.6 93.3,180.7 93.6,180.7 93.9,180.7 94.3,180.7 94.6,180.7 94.9,180.7 95.2,180.7 95.6,180.7 95.9,180.7 96.2,180.7 96.5,180.7 96.9,180.7 97.2,180.7 97.5,180.7 97.8,180.7 98.2,180.7 98.5,180.7 98.8,180.8 99.1,180.8 99.4,180.8 99.8,180.8 100.1,180.8 100.4,180.8 100.7,180.8 101.1,180.8 101.4,180.8 101.7,180.8 102,180.8 102.4,180.8 102.7,180.8 103,180.8 103.3,180.8 103.7,180.8 104,180.8 104.3,180.8 104.6,180.8 104.9,180.8 105.3,180.8 105.6,180.8 105.9,180.8 106.2,180.8 106.6,180.8 106.9,180.8 107.2,180.9 107.5,180.9 107.9,180.9 108.2,180.9 108.5,180.9 108.8,180.9 109.2,180.9 109.5,180.9 109.8,180.9 110.1,180.9 110.5,180.9 110.8,180.9 111.1,180.9 111.4,180.9 111.7,180.9 112.1,180.9 112.4,180.9 112.7,180.9 113,180.9 113.4,180.9 113.7,180.9 114,180.9 114.3,180.9 114.7,180.9 115,180.9 115.3,180.9 115.6,180.9 116,180.9 116.3,180.9 116.6,180.9" fill="none" stroke="#cc4f22" stroke-width="0.5" marker-start="url(#m1)" marker-mid="url(#m1)" marker-end="url(#m1)"/>
<polyline points="19.5,104.7 19.8,137.4 20.1,148.8 20.5,153.3 20.8,155.6 21.1,157.3 21.4,158.7 21.8,160 22.1,161.1" fill="none" stroke="#edb120" stroke-width="0.5" marker-start="url(#s2)" marker-mid="url(#s2)" marker-end="url(#s2)"/>
<polyline points="22.1,161.1 22.4,162.2 22.7,163.2 23.1,164.1 23.4,165 23.7,165.8 24,166.6 24.4,167.3 24.7,167.9 25,168.5 25.3,169.1 25.6,169.7 26,170.2 26.3,170.7 26.6,171.1 26.9,171.5 27.3,171.9 27.6,172.3 27.9,172.7 28.2,173 28.6,173.3 28.9,173.6 29.2,173.9 29.5,174.2 29.9,174.4 30.2,174.7 30.5,174.9 30.8,175.1 31.2,175.3 31.5,175.5 31.8,175.7 32.1,175.9 32.4,176.1 32.8,176.2 33.1,176.4 33.4,176.5 33.7,176.7 34.1,176.8 34.4,176.9 34.7,177.1 35,177.2 35.4,177.3 35.7,177.4 36,177.5 36.3,177.6 36.7,177.7 37,177.8 37.3,177.9 37.6,178 37.9,178 38.3,178.1 38.6,178.2 38.9,178.3 39.2,178.3 39.6,178.4 39.9,178.5 40.2,178.5 40.5,178.6 40.9,178.7 41.2,178.7 41.5,178.8 41.8,178.8 42.2,178.9 42.5,178.9 42.8,179 43.1,179 43.5,179.1 43.8,179.1 44.1,179.2 44.4,179.2 44.7,179.2 45.1,179.3 45.4,179.3 45.7,179.4 46,179.4 46.4,179.4 46.7,179.5 47,179.5 47.3,179.5 47.7,179.6 48,179.6 48.3,179.6 48.6,179.7 49,179.7 49.3,179.7 49.6,179.8 49.9,179.8 50.2,179.8 50.6,179.8 50.9,179.9 51.2,179.9 51.5,179.9 51.9,179.9 52.2,180 52.5,180 52.8,180 53.2,180 53.5,180 53.8,180.1 54.1,180.1 54.5,180.1 54.8,180.1 55.1,180.1 55.4,180.2 55.8,180.2 56.1,180.2 56.4,180.2 56.7,180.2 57,180.2 57.4,180.3 57.7,180.3 58,180.3 58.3,180.3 58.7,180.3 59,180.3 59.3,180.3 59.6,180.4 60,180.4 60.3,180.4 60.6,180.4 60.9,180.4 61.3,180.4 61.6,180.4 61.9,180.4 62.2,180.5 62.5,180.5 62.9,180.5 63.2,180.5 63.5,180.5 63.8,180.5 64.2,180.5 64.5,180.5 64.8,180.5 65.1,180.6 65.5,180.6 65.8,180.6 66.1,180.6 66.4,180.6 66.8,180.6 67.1,180.6 67.4,180.6 67.7,180.6 68,180.6 68.4,180.6 68.7,180.6 69,180.6 69.3,180.7 69.7,180.7 70,180.7 70.3,180.7 70.6,180.7 71,180.7 71.3,180.7 71.6,180.7 71.9,180.7 72.3,180.7 72.6,180.7 72.9,180.7 73.2,180.7 73.6,180.7 73.9,180.7 74.2,180.7 74.5,180.8 74.8,180.8 75.2,180.8 75.5,180.8 75.8,180.8 76.1,180.8 76.5,180.8 76.8,180.8 77.1,180.8 77.4,180.8 77.8,180.8 78.1,180.8 78.4,180.8 78.7,180.8 79.1,180.8 79.4,180.8 79.7,180.8 80,180.8 80.3,180.8 80.7,180.8 81,180.8 81.3,180.8 81.6,180.8 82,180.8 82.3,180.9 82.6,180.9 82.9,180.9 83.3,180.9 83.6,180.9 83.9,180.9 84.2,180.9 84.6,180.9 84.9,180.9 85.2,180.9 85.5,180.9 85.9,180.9 86.2,180.9 86.5,180.9 86.8,180.9 87.1,180.9 87.5,180.9 87.8,180.9 88.1,180.9 88.4,180.9 88.8,180.9 89.1,180.9 89.4,180.9 89.7,180.9 90.1,180.9 90.4,180.9 90.7,180.9 91,180.9 91.4,180.9 91.7,180.9 92,180.9 92.3,180.9 92.6,180.9 93,180.9 93.3,180.9 93.6,180.9 93.9,180.9 94.3,180.9 94.6,180.9 94.9,180.9 95.2,180.9 95.6,180.9 95.9,180.9 96.2,180.9 96.5,180.9 96.9,180.9 97.2,180.9 97.5,180.9 97.8,180.9 98.2,180.9 98.5,180.9 98.8,180.9 99.1,180.9 99.4,181 99.8,181 100.1,181 100.4,181 100.7,181 101.1,181 101.4,181 101.7,181 102,181 102.4,181 102.7,181 103,181 103.3,181 103.7,181 104,181 104.3,181 104.6,181 104.9,181 105.3,181 105.6,181 105.9,181 106.2,181 106.6,181 106.9,181 107.2,181 107.5,181 107.9,181 108.2,181 108.5,181 108.8,181 109.2,181 109.5,181 109.8,181 110.1,181 110.5,181 110.8,181 111.1,181 111.4,181 111.7,181 112.1,181 112.4,181 112.7,181 113,181 113.4,181 113.7,181 114,181 114.3,181 114.7,181 115,181 115.3,181 115.6,181 116,181 116.3,181 116.6,181" fill="none" stroke="#edb120" stroke-width="0.5" marker-start="url(#m2)" marker-mid="url(#m2)" marker-end="url(#m2)"/>
</g>
<rect x="19.5" y="106.2" width="97.1" height="74.8" fill="none" stroke="#bdbdbd" stroke-width="0.5"/>
<path d="M19.5 181v-1M19.5 106.2v1M35.68 181v-1M35.68 106.2v1M51.87 181v-1M51.87 106.2v1M68.05 181v-1M68.05 106.2v1M84.23 181v-1M84.23 106.2v1M100.42 181v-1M100.42 106.2v1M116.6 181v-1M116.6 106.2v1M19.5 181h1M116.6 181h-1M19.5 166.04h1M116.6 166.04h-1M19.5 151.08h1M116.6 151.08h-1M19.5 136.12h1M116.6 136.12h-1M19.5 121.16h1M116.6 121.16h-1M19.5 106.2h1M116.6 106.2h-1" stroke="#8a8a8a" stroke-width="0.45" fill="none"/>
<g class="tk"><text x="19.5" y="187.5" text-anchor="middle">0</text><text x="35.68" y="187.5" text-anchor="middle">50</text><text x="51.87" y="187.5" text-anchor="middle">100</text><text x="68.05" y="187.5" text-anchor="middle">150</text><text x="84.23" y="187.5" text-anchor="middle">200</text><text x="100.42" y="187.5" text-anchor="middle">250</text><text x="116.6" y="187.5" text-anchor="middle">300</text><text x="18.2" y="182.7" text-anchor="end">0</text><text x="18.2" y="167.74" text-anchor="end">20</text><text x="18.2" y="152.78" text-anchor="end">40</text><text x="18.2" y="137.82" text-anchor="end">60</text><text x="18.2" y="122.86" text-anchor="end">80</text><text x="18.2" y="107.9" text-anchor="end">100</text></g>
<text class="tm" x="67.9" y="194.6" text-anchor="middle">Time</text>
<text class="lt" x="0.5" y="104.6">A</text>
<text class="yl" transform="translate(5.7 145.3) rotate(-90)" text-anchor="middle">I</text>
<text class="sb" transform="translate(8 142.9) rotate(-90)" text-anchor="middle">1</text>
<rect x="81.4" y="109.5" width="31.8" height="15.8" fill="#fff" stroke="#c8c8c8" stroke-width="0.5"/>
<path d="M82.6 112.23H88.8" stroke="#8a9aa0" stroke-opacity="0.5" stroke-width="0.45"/>
<circle cx="85.7" cy="112.23" r="0.75" fill="none" stroke="#0a6290" stroke-opacity="0.75" stroke-width="0.45"/>
<text class="lw" x="90.3" y="113.53" textLength="4.6" lengthAdjust="spacingAndGlyphs">ω=</text>
<text class="lg" x="95.3" y="113.83" textLength="16.9" lengthAdjust="spacingAndGlyphs">0.000003</text>
<path d="M82.6 117.5H88.8" stroke="#8a9aa0" stroke-opacity="0.5" stroke-width="0.45"/>
<circle cx="85.7" cy="117.5" r="0.75" fill="none" stroke="#cc4f22" stroke-opacity="0.75" stroke-width="0.45"/>
<text class="lw" x="90.3" y="118.8" textLength="4.6" lengthAdjust="spacingAndGlyphs">ω=</text>
<text class="lg" x="95.3" y="119.1" textLength="16.9" lengthAdjust="spacingAndGlyphs">0.000002</text>
<path d="M82.6 122.77H88.8" stroke="#8a9aa0" stroke-opacity="0.5" stroke-width="0.45"/>
<circle cx="85.7" cy="122.77" r="0.75" fill="none" stroke="#ebae20" stroke-opacity="0.75" stroke-width="0.45"/>
<text class="lw" x="90.3" y="124.07" textLength="4.6" lengthAdjust="spacingAndGlyphs">ω=</text>
<text class="lg" x="95.3" y="124.37" textLength="16.9" lengthAdjust="spacingAndGlyphs">0.000001</text>
<path d="M176.36 106.5V180.8M195.92 106.5V180.8M215.48 106.5V180.8M235.04 106.5V180.8M156.8 165.94H254.6M156.8 151.08H254.6M156.8 136.22H254.6M156.8 121.36H254.6" stroke="#f6f6f6" stroke-width="0.5" fill="none"/>
<g clip-path="url(#cH)">
<polyline points="156.8,179.9 157,179.5 157.2,179 157.4,178.3" fill="none" stroke="#0a6290" stroke-width="0.5" marker-start="url(#n0)" marker-mid="url(#n0)" marker-end="url(#n0)"/>
<polyline points="157.6,177.3 157.8,176 158,174.4 158.2,172.5 158.4,170 158.6,167.1 158.8,163.7 159,159.7 159.1,155.3 159.3,150.5 159.5,145.3 159.7,140 159.9,134.6 160.1,129.4 160.3,124.5 160.5,120.1 160.7,116.5 160.9,113.8 161.1,112.1" fill="none" stroke="#0a6290" stroke-width="0.5" marker-start="url(#s0)" marker-mid="url(#s0)" marker-end="url(#s0)"/>
<polyline points="161.1,112.1 161.3,111.6 161.5,111.7 161.7,112.2" fill="none" stroke="#0a6290" stroke-width="0.5" marker-start="url(#n0)" marker-mid="url(#n0)" marker-end="url(#n0)"/>
<polyline points="161.9,113.1 162.1,114.7 162.3,116.7 162.5,119.4 162.7,122.5 162.9,126.1 163.1,130.1 163.3,134.4 163.5,138.9 163.6,143.4 163.8,147.9 164,152.2 164.2,156.3 164.4,160 164.6,163.4 164.8,166.3 165,168.8 165.2,171 165.4,172.7 165.6,174.1" fill="none" stroke="#0a6290" stroke-width="0.5" marker-start="url(#s0)" marker-mid="url(#s0)" marker-end="url(#s0)"/>
<polyline points="165.6,174.1 165.8,175.2 166,176 166.2,176.7 166.4,177.1 166.6,177.4 166.8,177.7 167,177.9 167.2,178 167.4,178.1 167.6,178.1 167.8,178.1 167.9,178.2 168.1,178.2 168.3,178.2 168.5,178.2 168.7,178.2 168.9,178.2 169.1,178.2 169.3,178.2 169.5,178.2 169.7,178.2 169.9,178.2 170.1,178.2 170.3,178.2 170.5,178.2 170.7,178.2 170.9,178.2 171.1,178.2 171.3,178.2 171.5,178.2 171.7,178.2 171.9,178.2 172.1,178.2 172.3,178.2 172.4,178.2 172.6,178.2 172.8,178.2 173,178.2 173.2,178.2 173.4,178 173.6,177.7 173.8,177.2 174,176.7 174.2,176.1 174.4,175.5 174.6,174.9 174.8,174.2 175,173.5 175.2,172.8 175.4,172.1 175.6,171.3 175.8,170.6 176,169.9 176.2,169.1 176.4,168.4 176.6,167.7 176.8,167 176.9,166.4 177.1,165.7 177.3,165.1 177.5,164.5 177.7,163.9 177.9,163.4 178.1,162.9 178.3,162.4 178.5,162 178.7,161.6 178.9,161.2 179.1,160.8 179.3,160.5 179.5,160.3 179.7,160 179.9,159.8 180.1,159.7 180.3,159.6 180.5,159.5 180.7,159.4 180.9,159.4 181.1,159.6 181.2,159.8 181.4,160.2 181.6,160.5 181.8,161 182,161.4 182.2,161.9 182.4,162.3 182.6,162.8 182.8,163.3 183,163.8 183.2,164.3 183.4,164.9 183.6,165.4 183.8,165.9 184,166.3 184.2,166.8 184.4,167.3 184.6,167.8 184.8,168.2 185,168.6 185.2,169 185.4,169.4 185.6,169.8 185.7,170.2 185.9,170.5 186.1,170.8 186.3,171.1 186.5,171.4 186.7,171.6 186.9,171.9 187.1,172.1 187.3,172.3 187.5,172.4 187.7,172.6 187.9,172.7 188.1,172.8 188.3,172.9 188.5,172.9 188.7,172.9 188.9,173 189.1,172.9 189.3,172.8 189.5,172.8 189.7,172.6 189.9,172.5 190.1,172.4 190.2,172.3 190.4,172.1 190.6,171.9 190.8,171.8 191,171.6 191.2,171.5 191.4,171.3 191.6,171.1 191.8,170.9 192,170.8 192.2,170.6 192.4,170.4 192.6,170.2 192.8,170 193,169.9 193.2,169.7 193.4,169.5 193.6,169.4 193.8,169.2 194,169 194.2,168.9 194.4,168.7 194.6,168.6 194.7,168.4 194.9,168.3 195.1,168.2 195.3,168 195.5,167.9 195.7,167.8 195.9,167.7 196.1,167.6 196.3,167.5 196.5,167.4 196.7,167.3 196.9,167.2 197.1,167.2 197.3,167.1 197.5,167 197.7,167 197.9,166.9 198.1,166.9 198.3,166.9 198.5,166.8 198.7,166.8 198.9,166.8 199,166.8 199.2,166.8 199.4,166.8 199.6,166.9 199.8,167 200,167.1 200.2,167.2 200.4,167.3 200.6,167.4 200.8,167.6 201,167.7 201.2,167.8 201.4,168 201.6,168.1 201.8,168.2 202,168.4 202.2,168.5 202.4,168.7 202.6,168.8 202.8,168.9 203,169 203.2,169.1 203.4,169.3 203.5,169.4 203.7,169.5 203.9,169.6 204.1,169.7 204.3,169.7 204.5,169.8 204.7,169.9 204.9,170 205.1,170 205.3,170.1 205.5,170.1 205.7,170.2 205.9,170.2 206.1,170.3 206.3,170.3 206.5,170.3 206.7,170.3 206.9,170.3 207.1,170.3 207.3,170.3 207.5,170.3 207.7,170.3 207.9,170.2 208,170.2 208.2,170.1 208.4,170.1 208.6,170 208.8,170 209,169.9 209.2,169.8 209.4,169.8 209.6,169.7 209.8,169.6 210,169.6 210.2,169.5 210.4,169.5 210.6,169.4 210.8,169.3 211,169.3 211.2,169.2 211.4,169.1 211.6,169.1 211.8,169 212,169 212.2,168.9 212.4,168.9 212.5,168.8 212.7,168.8 212.9,168.7 213.1,168.7 213.3,168.6 213.5,168.6 213.7,168.6 213.9,168.5 214.1,168.5 214.3,168.5 214.5,168.4 214.7,168.4 214.9,168.4 215.1,168.4 215.3,168.4 215.5,168.3 215.7,168.3 215.9,168.3 216.1,168.3 216.3,168.3 216.5,168.3 216.7,168.3 216.8,168.3 217,168.4 217.2,168.4 217.4,168.4 217.6,168.4 217.8,168.5 218,168.5 218.2,168.5 218.4,168.6 218.6,168.6 218.8,168.6 219,168.7 219.2,168.7 219.4,168.7 219.6,168.8 219.8,168.8 220,168.8 220.2,168.8 220.4,168.9 220.6,168.9 220.8,168.9 221,169 221.2,169 221.3,169 221.5,169 221.7,169.1 221.9,169.1 222.1,169.1 222.3,169.1 222.5,169.1 222.7,169.2 222.9,169.2 223.1,169.2 223.3,169.2 223.5,169.2 223.7,169.2 223.9,169.2 224.1,169.2 224.3,169.3 224.5,169.3 224.7,169.3 224.9,169.3 225.1,169.3 225.3,169.3 225.5,169.3 225.7,169.3 225.8,169.2 226,169.2 226.2,169.2 226.4,169.2 226.6,169.2 226.8,169.2 227,169.2 227.2,169.1 227.4,169.1 227.6,169.1 227.8,169.1 228,169.1 228.2,169 228.4,169 228.6,169 228.8,169 229,169 229.2,169 229.4,168.9 229.6,168.9 229.8,168.9 230,168.9 230.1,168.9 230.3,168.9 230.5,168.8 230.7,168.8 230.9,168.8 231.1,168.8 231.3,168.8 231.5,168.8 231.7,168.8 231.9,168.7 232.1,168.7 232.3,168.7 232.5,168.7 232.7,168.7 232.9,168.7 233.1,168.7 233.3,168.7 233.5,168.7 233.7,168.7 233.9,168.7 234.1,168.7 234.3,168.7 234.5,168.7 234.6,168.7 234.8,168.7 235,168.7 235.2,168.7 235.4,168.7 235.6,168.7 235.8,168.7 236,168.7 236.2,168.7 236.4,168.7 236.6,168.8 236.8,168.8 237,168.8 237.2,168.8 237.4,168.8 237.6,168.8 237.8,168.8 238,168.8 238.2,168.8 238.4,168.8 238.6,168.9 238.8,168.9 239,168.9 239.1,168.9 239.3,168.9 239.5,168.9 239.7,168.9 239.9,168.9 240.1,168.9 240.3,168.9 240.5,168.9 240.7,169 240.9,169 241.1,169 241.3,169 241.5,169 241.7,169 241.9,169 242.1,169 242.3,169 242.5,169 242.7,169 242.9,169 243.1,169 243.3,169 243.5,169 243.6,169 243.8,169 244,169 244.2,169 244.4,169 244.6,169 244.8,169 245,169 245.2,169 245.4,169 245.6,169 245.8,169 246,169 246.2,169 246.4,169 246.6,169 246.8,169 247,169 247.2,169 247.4,169 247.6,169 247.8,169 247.9,169 248.1,169 248.3,169 248.5,169 248.7,169 248.9,169 249.1,169 249.3,169 249.5,169 249.7,169 249.9,169 250.1,168.9 250.3,168.9 250.5,168.9 250.7,168.9 250.9,168.9 251.1,168.9 251.3,168.9 251.5,168.9 251.7,168.9 251.9,168.9 252.1,168.9 252.3,168.9 252.4,168.9 252.6,168.9 252.8,168.9 253,168.9 253.2,168.9 253.4,168.9 253.6,168.9 253.8,168.9 254,168.9 254.2,168.9 254.4,168.9 254.6,168.9" fill="none" stroke="#0a6290" stroke-width="0.5" marker-start="url(#n0)" marker-mid="url(#n0)" marker-end="url(#n0)"/>
<polyline points="156.8,180.7 157,180.6 157.2,180.5 157.4,180.4 157.6,180.2 157.8,180 158,179.7 158.2,179.2 158.4,178.6 158.6,177.8" fill="none" stroke="#cc4f22" stroke-width="0.5" marker-start="url(#n1)" marker-mid="url(#n1)" marker-end="url(#n1)"/>
<polyline points="158.8,176.7 159,175.4 159.1,173.8 159.3,171.8 159.5,169.4 159.7,166.6 159.9,163.4 160.1,159.8 160.3,155.8 160.5,151.5 160.7,147 160.9,142.3 161.1,137.7 161.3,133.3 161.5,129.1 161.7,125.5 161.9,122.5 162.1,120.2 162.3,118.9" fill="none" stroke="#cc4f22" stroke-width="0.5" marker-start="url(#s1)" marker-mid="url(#s1)" marker-end="url(#s1)"/>
<polyline points="162.3,118.9 162.5,118.4 162.7,118.5 162.9,118.8 163.1,119.5" fill="none" stroke="#cc4f22" stroke-width="0.5" marker-start="url(#n1)" marker-mid="url(#n1)" marker-end="url(#n1)"/>
<polyline points="163.3,120.5 163.5,121.9 163.6,123.7 163.8,125.9 164,128.4 164.2,131.3 164.4,134.5 164.6,137.9 164.8,141.4 165,145 165.2,148.6 165.4,152.1 165.6,155.5 165.8,158.7 166,161.7 166.2,164.4 166.4,166.8 166.6,169 166.8,170.8 167,172.3 167.2,173.6" fill="none" stroke="#cc4f22" stroke-width="0.5" marker-start="url(#s1)" marker-mid="url(#s1)" marker-end="url(#s1)"/>
<polyline points="167.2,173.6 167.4,174.7 167.6,175.5 167.8,176.2 167.9,176.7 168.1,177.1 168.3,177.4 168.5,177.6 168.7,177.8 168.9,177.9 169.1,178 169.3,178.1 169.5,178.1 169.7,178.1 169.9,178.2 170.1,178.2 170.3,178.2 170.5,178.2 170.7,178.2 170.9,178.2 171.1,178.2 171.3,178.2 171.5,178.2 171.7,178.2 171.9,178.2 172.1,178.2 172.3,178.2 172.4,178.2 172.6,178.2 172.8,178.2 173,178.2 173.2,178.2 173.4,178.2 173.6,178.2 173.8,178.2 174,178.2 174.2,178.2 174.4,178.2 174.6,178.2 174.8,178.2 175,178.2 175.2,178.2 175.4,178.2 175.6,178.2 175.8,178.2 176,178.2 176.2,178.2 176.4,178.2 176.6,178 176.8,177.7 176.9,177.3 177.1,176.8 177.3,176.3 177.5,175.7 177.7,175.1 177.9,174.4 178.1,173.8 178.3,173.1 178.5,172.4 178.7,171.7 178.9,171 179.1,170.3 179.3,169.6 179.5,168.9 179.7,168.2 179.9,167.5 180.1,166.8 180.3,166.2 180.5,165.6 180.7,165 180.9,164.4 181.1,163.9 181.2,163.3 181.4,162.8 181.6,162.4 181.8,161.9 182,161.5 182.2,161.1 182.4,160.8 182.6,160.5 182.8,160.2 183,160 183.2,159.7 183.4,159.6 183.6,159.4 183.8,159.3 184,159.2 184.2,159.2 184.4,159.2 184.6,159.3 184.8,159.5 185,159.8 185.2,160.1 185.4,160.5 185.6,160.9 185.7,161.3 185.9,161.7 186.1,162.2 186.3,162.6 186.5,163.1 186.7,163.5 186.9,164 187.1,164.4 187.3,164.9 187.5,165.4 187.7,165.8 187.9,166.3 188.1,166.7 188.3,167.1 188.5,167.5 188.7,167.9 188.9,168.3 189.1,168.7 189.3,169.1 189.5,169.4 189.7,169.8 189.9,170.1 190.1,170.4 190.2,170.7 190.4,171 190.6,171.2 190.8,171.5 191,171.7 191.2,171.9 191.4,172.1 191.6,172.2 191.8,172.4 192,172.5 192.2,172.6 192.4,172.7 192.6,172.8 192.8,172.9 193,172.9 193.2,172.9 193.4,173 193.6,172.9 193.8,172.8 194,172.7 194.2,172.6 194.4,172.5 194.6,172.4 194.7,172.2 194.9,172.1 195.1,171.9 195.3,171.8 195.5,171.6 195.7,171.4 195.9,171.3 196.1,171.1 196.3,170.9 196.5,170.7 196.7,170.5 196.9,170.4 197.1,170.2 197.3,170 197.5,169.8 197.7,169.6 197.9,169.5 198.1,169.3 198.3,169.1 198.5,169 198.7,168.8 198.9,168.6 199,168.5 199.2,168.3 199.4,168.2 199.6,168.1 199.8,167.9 200,167.8 200.2,167.7 200.4,167.6 200.6,167.5 200.8,167.3 201,167.2 201.2,167.2 201.4,167.1 201.6,167 201.8,166.9 202,166.9 202.2,166.8 202.4,166.7 202.6,166.7 202.8,166.6 203,166.6 203.2,166.6 203.4,166.6 203.5,166.5 203.7,166.5 203.9,166.5 204.1,166.6 204.3,166.6 204.5,166.7 204.7,166.8 204.9,166.9 205.1,167.1 205.3,167.2 205.5,167.3 205.7,167.4 205.9,167.6 206.1,167.7 206.3,167.8 206.5,168 206.7,168.1 206.9,168.3 207.1,168.4 207.3,168.5 207.5,168.7 207.7,168.8 207.9,168.9 208,169 208.2,169.2 208.4,169.3 208.6,169.4 208.8,169.5 209,169.6 209.2,169.7 209.4,169.8 209.6,169.9 209.8,170 210,170 210.2,170.1 210.4,170.2 210.6,170.3 210.8,170.3 211,170.4 211.2,170.4 211.4,170.4 211.6,170.5 211.8,170.5 212,170.5 212.2,170.6 212.4,170.6 212.5,170.6 212.7,170.6 212.9,170.6 213.1,170.5 213.3,170.5 213.5,170.4 213.7,170.4 213.9,170.3 214.1,170.3 214.3,170.2 214.5,170.2 214.7,170.1 214.9,170 215.1,170 215.3,169.9 215.5,169.8 215.7,169.8 215.9,169.7 216.1,169.6 216.3,169.5 216.5,169.5 216.7,169.4 216.8,169.3 217,169.3 217.2,169.2 217.4,169.1 217.6,169.1 217.8,169 218,169 218.2,168.9 218.4,168.9 218.6,168.8 218.8,168.8 219,168.7 219.2,168.7 219.4,168.6 219.6,168.6 219.8,168.5 220,168.5 220.2,168.5 220.4,168.5 220.6,168.4 220.8,168.4 221,168.4 221.2,168.4 221.3,168.4 221.5,168.3 221.7,168.3 221.9,168.3 222.1,168.3 222.3,168.3 222.5,168.3 222.7,168.3 222.9,168.4 223.1,168.4 223.3,168.4 223.5,168.4 223.7,168.5 223.9,168.5 224.1,168.5 224.3,168.6 224.5,168.6 224.7,168.6 224.9,168.7 225.1,168.7 225.3,168.8 225.5,168.8 225.7,168.8 225.8,168.9 226,168.9 226.2,168.9 226.4,169 226.6,169 226.8,169 227,169 227.2,169.1 227.4,169.1 227.6,169.1 227.8,169.2 228,169.2 228.2,169.2 228.4,169.2 228.6,169.2 228.8,169.3 229,169.3 229.2,169.3 229.4,169.3 229.6,169.3 229.8,169.3 230,169.3 230.1,169.4 230.3,169.4 230.5,169.4 230.7,169.4 230.9,169.4 231.1,169.4 231.3,169.4 231.5,169.4 231.7,169.4 231.9,169.4 232.1,169.4 232.3,169.3 232.5,169.3 232.7,169.3 232.9,169.3 233.1,169.3 233.3,169.3 233.5,169.2 233.7,169.2 233.9,169.2 234.1,169.2 234.3,169.1 234.5,169.1 234.6,169.1 234.8,169.1 235,169.1 235.2,169 235.4,169 235.6,169 235.8,169 236,168.9 236.2,168.9 236.4,168.9 236.6,168.9 236.8,168.9 237,168.9 237.2,168.8 237.4,168.8 237.6,168.8 237.8,168.8 238,168.8 238.2,168.8 238.4,168.7 238.6,168.7 238.8,168.7 239,168.7 239.1,168.7 239.3,168.7 239.5,168.7 239.7,168.7 239.9,168.7 240.1,168.7 240.3,168.7 240.5,168.7 240.7,168.7 240.9,168.7 241.1,168.7 241.3,168.7 241.5,168.7 241.7,168.7 241.9,168.7 242.1,168.7 242.3,168.7 242.5,168.7 242.7,168.7 242.9,168.7 243.1,168.7 243.3,168.7 243.5,168.7 243.6,168.7 243.8,168.7 244,168.7 244.2,168.7 244.4,168.7 244.6,168.8 244.8,168.8 245,168.8 245.2,168.8 245.4,168.8 245.6,168.8 245.8,168.8 246,168.8 246.2,168.8 246.4,168.8 246.6,168.8 246.8,168.8 247,168.8 247.2,168.8 247.4,168.8 247.6,168.8 247.8,168.8 247.9,168.8 248.1,168.8 248.3,168.8 248.5,168.8 248.7,168.9 248.9,168.9 249.1,168.9 249.3,168.9 249.5,168.9 249.7,168.9 249.9,168.9 250.1,168.9 250.3,168.9 250.5,168.9 250.7,168.9 250.9,168.9 251.1,168.9 251.3,168.9 251.5,168.9 251.7,168.9 251.9,168.9 252.1,168.9 252.3,168.9 252.4,168.9 252.6,168.9 252.8,168.9 253,168.9 253.2,168.9 253.4,168.9 253.6,168.9 253.8,168.9 254,168.9 254.2,168.9 254.4,168.9 254.6,168.9" fill="none" stroke="#cc4f22" stroke-width="0.5" marker-start="url(#n1)" marker-mid="url(#n1)" marker-end="url(#n1)"/>
<polyline points="156.8,180.8 157,180.8 157.2,180.8 157.4,180.7 157.6,180.7 157.8,180.6 158,180.6 158.2,180.4 158.4,180.3 158.6,180.1 158.8,179.8 159,179.4 159.1,178.9 159.3,178.2 159.5,177.3" fill="none" stroke="#edb120" stroke-width="0.5" marker-start="url(#n2)" marker-mid="url(#n2)" marker-end="url(#n2)"/>
<polyline points="159.7,176.3 159.9,174.9 160.1,173.3 160.3,171.4 160.5,169.2 160.7,166.6 160.9,163.6 161.1,160.4 161.3,156.8 161.5,153 161.7,149.1 161.9,145.2 162.1,141.3 162.3,137.5 162.5,134.1 162.7,131.1 162.9,128.6 163.1,126.7" fill="none" stroke="#edb120" stroke-width="0.5" marker-start="url(#s2)" marker-mid="url(#s2)" marker-end="url(#s2)"/>
<polyline points="163.1,126.7 163.3,125.6 163.5,125.2 163.6,125.3 163.8,125.5 164,125.9 164.2,126.6 164.4,127.5" fill="none" stroke="#edb120" stroke-width="0.5" marker-start="url(#n2)" marker-mid="url(#n2)" marker-end="url(#n2)"/>
<polyline points="164.6,128.7 164.8,130.1 165,131.8 165.2,133.8 165.4,136 165.6,138.3 165.8,140.9 166,143.6 166.2,146.3 166.4,149.1 166.6,151.9 166.8,154.6 167,157.3 167.2,159.8 167.4,162.2 167.6,164.4 167.8,166.5 167.9,168.3 168.1,169.9 168.3,171.4 168.5,172.6" fill="none" stroke="#edb120" stroke-width="0.5" marker-start="url(#s2)" marker-mid="url(#s2)" marker-end="url(#s2)"/>
<polyline points="168.5,172.6 168.7,173.7 168.9,174.6 169.1,175.3 169.3,175.9 169.5,176.4 169.7,176.8 169.9,177.2 170.1,177.4 170.3,177.6 170.5,177.8 170.7,177.9 170.9,178 171.1,178 171.3,178.1 171.5,178.1 171.7,178.1 171.9,178.1 172.1,178.1 172.3,178.1 172.4,178.2 172.6,178.1 172.8,178.1 173,178.1 173.2,178.1 173.4,178.1 173.6,178.1 173.8,178.1 174,178.1 174.2,178.1 174.4,178.1 174.6,178.1 174.8,178.1 175,178.1 175.2,178.1 175.4,178.1 175.6,178.1 175.8,178.1 176,178.1 176.2,178.1 176.4,178.1 176.6,178.1 176.8,178.1 176.9,178.1 177.1,178.1 177.3,178.1 177.5,178.1 177.7,178.1 177.9,178.1 178.1,178.1 178.3,178.1 178.5,178.1 178.7,178.1 178.9,178.1 179.1,178.1 179.3,178.1 179.5,178.1 179.7,178.1 179.9,178.1 180.1,177.9 180.3,177.6 180.5,177.3 180.7,176.9 180.9,176.4 181.1,175.9 181.2,175.4 181.4,174.9 181.6,174.3 181.8,173.7 182,173.1 182.2,172.5 182.4,171.9 182.6,171.2 182.8,170.6 183,170 183.2,169.4 183.4,168.8 183.6,168.2 183.8,167.6 184,167 184.2,166.4 184.4,165.9 184.6,165.4 184.8,164.8 185,164.3 185.2,163.9 185.4,163.4 185.6,163 185.7,162.6 185.9,162.2 186.1,161.9 186.3,161.5 186.5,161.2 186.7,160.9 186.9,160.7 187.1,160.5 187.3,160.3 187.5,160.1 187.7,160 187.9,159.8 188.1,159.8 188.3,159.7 188.5,159.7 188.7,159.6 188.9,159.8 189.1,160 189.3,160.2 189.5,160.5 189.7,160.8 189.9,161.2 190.1,161.5 190.2,161.9 190.4,162.3 190.6,162.7 190.8,163.1 191,163.6 191.2,164 191.4,164.4 191.6,164.8 191.8,165.2 192,165.7 192.2,166.1 192.4,166.5 192.6,166.9 192.8,167.3 193,167.7 193.2,168.1 193.4,168.4 193.6,168.8 193.8,169.2 194,169.5 194.2,169.8 194.4,170.1 194.6,170.5 194.7,170.7 194.9,171 195.1,171.3 195.3,171.5 195.5,171.8 195.7,172 195.9,172.2 196.1,172.4 196.3,172.5 196.5,172.7 196.7,172.8 196.9,173 197.1,173.1 197.3,173.2 197.5,173.2 197.7,173.3 197.9,173.4 198.1,173.4 198.3,173.4 198.5,173.4 198.7,173.4 198.9,173.3 199,173.3 199.2,173.2 199.4,173.1 199.6,173 199.8,172.9 200,172.8 200.2,172.6 200.4,172.5 200.6,172.4 200.8,172.2 201,172.1 201.2,172 201.4,171.8 201.6,171.7 201.8,171.5 202,171.4 202.2,171.2 202.4,171.1 202.6,170.9 202.8,170.7 203,170.6 203.2,170.4 203.4,170.3 203.5,170.1 203.7,170 203.9,169.8 204.1,169.7 204.3,169.5 204.5,169.4 204.7,169.2 204.9,169.1 205.1,169 205.3,168.8 205.5,168.7 205.7,168.6 205.9,168.5 206.1,168.3 206.3,168.2 206.5,168.1 206.7,168 206.9,167.9 207.1,167.8 207.3,167.7 207.5,167.6 207.7,167.5 207.9,167.4 208,167.3 208.2,167.2 208.4,167.2 208.6,167.1 208.8,167 209,167 209.2,166.9 209.4,166.8 209.6,166.8 209.8,166.7 210,166.7 210.2,166.7 210.4,166.6 210.6,166.6 210.8,166.6 211,166.6 211.2,166.6 211.4,166.5 211.6,166.5 211.8,166.5 212,166.6 212.2,166.6 212.4,166.7 212.5,166.8 212.7,166.9 212.9,167 213.1,167.1 213.3,167.2 213.5,167.4 213.7,167.5 213.9,167.6 214.1,167.7 214.3,167.9 214.5,168 214.7,168.1 214.9,168.3 215.1,168.4 215.3,168.5 215.5,168.7 215.7,168.8 215.9,168.9 216.1,169 216.3,169.1 216.5,169.2 216.7,169.4 216.8,169.5 217,169.6 217.2,169.7 217.4,169.8 217.6,169.9 217.8,169.9 218,170 218.2,170.1 218.4,170.2 218.6,170.2 218.8,170.3 219,170.4 219.2,170.4 219.4,170.5 219.6,170.5 219.8,170.5 220,170.6 220.2,170.6 220.4,170.6 220.6,170.7 220.8,170.7 221,170.7 221.2,170.7 221.3,170.7 221.5,170.7 221.7,170.7 221.9,170.6 222.1,170.6 222.3,170.5 222.5,170.5 222.7,170.4 222.9,170.4 223.1,170.3 223.3,170.2 223.5,170.2 223.7,170.1 223.9,170.1 224.1,170 224.3,169.9 224.5,169.8 224.7,169.8 224.9,169.7 225.1,169.6 225.3,169.6 225.5,169.5 225.7,169.4 225.8,169.4 226,169.3 226.2,169.2 226.4,169.2 226.6,169.1 226.8,169.1 227,169 227.2,168.9 227.4,168.9 227.6,168.8 227.8,168.8 228,168.7 228.2,168.7 228.4,168.6 228.6,168.6 228.8,168.5 229,168.5 229.2,168.5 229.4,168.4 229.6,168.4 229.8,168.4 230,168.3 230.1,168.3 230.3,168.3 230.5,168.3 230.7,168.3 230.9,168.2 231.1,168.2 231.3,168.2 231.5,168.2 231.7,168.2 231.9,168.2 232.1,168.2 232.3,168.2 232.5,168.2 232.7,168.2 232.9,168.3 233.1,168.3 233.3,168.3 233.5,168.3 233.7,168.4 233.9,168.4 234.1,168.4 234.3,168.4 234.5,168.5 234.6,168.5 234.8,168.5 235,168.6 235.2,168.6 235.4,168.6 235.6,168.6 235.8,168.7 236,168.7 236.2,168.7 236.4,168.8 236.6,168.8 236.8,168.8 237,168.8 237.2,168.9 237.4,168.9 237.6,168.9 237.8,168.9 238,169 238.2,169 238.4,169 238.6,169 238.8,169.1 239,169.1 239.1,169.1 239.3,169.1 239.5,169.1 239.7,169.1 239.9,169.2 240.1,169.2 240.3,169.2 240.5,169.2 240.7,169.2 240.9,169.2 241.1,169.2 241.3,169.2 241.5,169.2 241.7,169.3 241.9,169.3 242.1,169.3 242.3,169.3 242.5,169.3 242.7,169.3 242.9,169.3 243.1,169.3 243.3,169.3 243.5,169.3 243.6,169.2 243.8,169.2 244,169.2 244.2,169.2 244.4,169.2 244.6,169.2 244.8,169.2 245,169.2 245.2,169.2 245.4,169.2 245.6,169.1 245.8,169.1 246,169.1 246.2,169.1 246.4,169.1 246.6,169.1 246.8,169.1 247,169.1 247.2,169.1 247.4,169 247.6,169 247.8,169 247.9,169 248.1,169 248.3,169 248.5,169 248.7,169 248.9,169 249.1,168.9 249.3,168.9 249.5,168.9 249.7,168.9 249.9,168.9 250.1,168.9 250.3,168.9 250.5,168.9 250.7,168.9 250.9,168.9 251.1,168.9 251.3,168.8 251.5,168.8 251.7,168.8 251.9,168.8 252.1,168.8 252.3,168.8 252.4,168.8 252.6,168.8 252.8,168.8 253,168.8 253.2,168.8 253.4,168.8 253.6,168.8 253.8,168.8 254,168.8 254.2,168.8 254.4,168.8 254.6,168.8" fill="none" stroke="#edb120" stroke-width="0.5" marker-start="url(#n2)" marker-mid="url(#n2)" marker-end="url(#n2)"/>
</g>
<rect x="156.8" y="106.5" width="97.8" height="74.3" fill="none" stroke="#bdbdbd" stroke-width="0.5"/>
<path d="M156.8 180.8v-1M156.8 106.5v1M176.36 180.8v-1M176.36 106.5v1M195.92 180.8v-1M195.92 106.5v1M215.48 180.8v-1M215.48 106.5v1M235.04 180.8v-1M235.04 106.5v1M254.6 180.8v-1M254.6 106.5v1M156.8 180.8h1M254.6 180.8h-1M156.8 165.94h1M254.6 165.94h-1M156.8 151.08h1M254.6 151.08h-1M156.8 136.22h1M254.6 136.22h-1M156.8 121.36h1M254.6 121.36h-1M156.8 106.5h1M254.6 106.5h-1" stroke="#8a8a8a" stroke-width="0.45" fill="none"/>
<g class="tk"><text x="156.8" y="187.3" text-anchor="middle">0</text><text x="176.36" y="187.3" text-anchor="middle">100</text><text x="195.92" y="187.3" text-anchor="middle">200</text><text x="215.48" y="187.3" text-anchor="middle">300</text><text x="235.04" y="187.3" text-anchor="middle">400</text><text x="254.6" y="187.3" text-anchor="middle">500</text><text x="155.5" y="182.5" text-anchor="end">0</text><text x="155.5" y="167.64" text-anchor="end">0.5</text><text x="155.5" y="152.78" text-anchor="end">1</text><text x="155.5" y="137.92" text-anchor="end">1.5</text><text x="155.5" y="123.06" text-anchor="end">2</text><text x="155.5" y="108.2" text-anchor="end">2.5</text></g>
<text class="tm" x="205.4" y="193.4" text-anchor="middle">Time</text>
<text class="lt" x="133" y="104.1">H</text>
<text class="yl" transform="translate(144.4 145.3) rotate(-90)" text-anchor="middle">I</text>
<text class="sb" transform="translate(146.7 142.9) rotate(-90)" text-anchor="middle">1</text>
<text class="sb2" x="157.3" y="105.4">×10<tspan dy="-1.6" font-size="3px">4</tspan></text>
<rect x="219" y="109.5" width="32.2" height="16" fill="#fff" stroke="#c8c8c8" stroke-width="0.5"/>
<path d="M220.2 112.27H226.4" stroke="#8a9aa0" stroke-opacity="0.5" stroke-width="0.45"/>
<circle cx="223.3" cy="112.27" r="0.75" fill="none" stroke="#0a6290" stroke-opacity="0.75" stroke-width="0.45"/>
<text class="lw" x="227.9" y="113.57" textLength="4.6" lengthAdjust="spacingAndGlyphs">ω=</text>
<text class="lg" x="232.9" y="113.87" textLength="17.3" lengthAdjust="spacingAndGlyphs">0.000005</text>
<path d="M220.2 117.6H226.4" stroke="#8a9aa0" stroke-opacity="0.5" stroke-width="0.45"/>
<circle cx="223.3" cy="117.6" r="0.75" fill="none" stroke="#cc4f22" stroke-opacity="0.75" stroke-width="0.45"/>
<text class="lw" x="227.9" y="118.9" textLength="4.6" lengthAdjust="spacingAndGlyphs">ω=</text>
<text class="lg" x="232.9" y="119.2" textLength="17.3" lengthAdjust="spacingAndGlyphs">0.000003</text>
<path d="M220.2 122.93H226.4" stroke="#8a9aa0" stroke-opacity="0.5" stroke-width="0.45"/>
<circle cx="223.3" cy="122.93" r="0.75" fill="none" stroke="#ebae20" stroke-opacity="0.75" stroke-width="0.45"/>
<text class="lw" x="227.9" y="124.23" textLength="4.6" lengthAdjust="spacingAndGlyphs">ω=</text>
<text class="lg" x="232.9" y="124.53" textLength="17.3" lengthAdjust="spacingAndGlyphs">0.000001</text>
<path d="M319.28 104.9V180.3M338.16 104.9V180.3M357.04 104.9V180.3M375.92 104.9V180.3M300.4 169.53H394.8M300.4 158.76H394.8M300.4 147.99H394.8M300.4 137.21H394.8M300.4 126.44H394.8M300.4 115.67H394.8" stroke="#f6f6f6" stroke-width="0.5" fill="none"/>
<g clip-path="url(#cG)">
<polyline points="300.4,179.6 300.6,179.2 300.8,178.8 301,178.1 301.2,177.3" fill="none" stroke="#0a6290" stroke-width="0.5" marker-start="url(#n0)" marker-mid="url(#n0)" marker-end="url(#n0)"/>
<polyline points="301.3,176.1 301.5,174.7 301.7,172.9 301.9,170.6 302.1,167.9 302.3,164.7 302.5,161 302.7,156.7 302.9,152 303,146.9 303.2,141.6 303.4,136.1 303.6,130.7 303.8,125.5 304,120.8 304.2,116.7 304.4,113.5 304.6,111.3" fill="none" stroke="#0a6290" stroke-width="0.5" marker-start="url(#s0)" marker-mid="url(#s0)" marker-end="url(#s0)"/>
<polyline points="304.6,111.3 304.7,110.1 304.9,110 305.1,110.3" fill="none" stroke="#0a6290" stroke-width="0.5" marker-start="url(#n0)" marker-mid="url(#n0)" marker-end="url(#n0)"/>
<polyline points="305.3,111 305.5,112.3 305.7,114.1 305.9,116.5 306.1,119.4 306.3,122.9 306.4,126.8 306.6,131 306.8,135.5 307,140.1 307.2,144.7 307.4,149.2 307.6,153.5 307.8,157.5 308,161.1 308.1,164.3 308.3,167.1 308.5,169.5 308.7,171.4 308.9,173 309.1,174.3" fill="none" stroke="#0a6290" stroke-width="0.5" marker-start="url(#s0)" marker-mid="url(#s0)" marker-end="url(#s0)"/>
<polyline points="309.1,174.3 309.3,175.3 309.5,176 309.7,176.6 309.8,177 310,177.3 310.2,177.5 310.4,177.7 310.6,177.8 310.8,177.8 311,177.9 311.2,177.9 311.4,177.9 311.5,177.9 311.7,177.9 311.9,177.9 312.1,177.9 312.3,177.9 312.5,177.9 312.7,177.9 312.9,177.9 313,177.9 313.2,177.9 313.4,177.9 313.6,177.9 313.8,177.9 314,177.9 314.2,177.9 314.4,177.9 314.6,177.9 314.7,177.9 314.9,177.9 315.1,177.9 315.3,177.9 315.5,177.9 315.7,177.9 315.9,177.9 316.1,177.9 316.3,177.9 316.4,177.8 316.6,177.4 316.8,177.1 317,176.6 317.2,176.1 317.4,175.5 317.6,174.9 317.8,174.3 318,173.7 318.1,173 318.3,172.4 318.5,171.7 318.7,171 318.9,170.4 319.1,169.7 319.3,169.1 319.5,168.4 319.7,167.8 319.8,167.2 320,166.6 320.2,166.1 320.4,165.5 320.6,165 320.8,164.5 321,164.1 321.2,163.6 321.4,163.2 321.5,162.9 321.7,162.5 321.9,162.2 322.1,161.9 322.3,161.7 322.5,161.5 322.7,161.3 322.9,161.2 323.1,161.1 323.2,161 323.4,160.9 323.6,160.9 323.8,161.1 324,161.3 324.2,161.6 324.4,161.9 324.6,162.3 324.8,162.7 324.9,163.1 325.1,163.6 325.3,164 325.5,164.5 325.7,164.9 325.9,165.4 326.1,165.9 326.3,166.3 326.5,166.8 326.6,167.2 326.8,167.6 327,168.1 327.2,168.5 327.4,168.9 327.6,169.3 327.8,169.6 328,170 328.2,170.3 328.3,170.7 328.5,171 328.7,171.3 328.9,171.5 329.1,171.8 329.3,172 329.5,172.2 329.7,172.4 329.9,172.6 330,172.7 330.2,172.8 330.4,173 330.6,173 330.8,173.1 331,173.2 331.2,173.2 331.4,173.2 331.6,173.2 331.7,173.1 331.9,173 332.1,172.9 332.3,172.8 332.5,172.7 332.7,172.6 332.9,172.4 333.1,172.3 333.3,172.1 333.4,172 333.6,171.8 333.8,171.7 334,171.5 334.2,171.4 334.4,171.2 334.6,171 334.8,170.9 335,170.7 335.1,170.6 335.3,170.4 335.5,170.2 335.7,170.1 335.9,169.9 336.1,169.8 336.3,169.6 336.5,169.5 336.6,169.4 336.8,169.2 337,169.1 337.2,169 337.4,168.9 337.6,168.7 337.8,168.6 338,168.5 338.2,168.4 338.3,168.3 338.5,168.2 338.7,168.2 338.9,168.1 339.1,168 339.3,167.9 339.5,167.9 339.7,167.8 339.9,167.8 340,167.7 340.2,167.7 340.4,167.7 340.6,167.6 340.8,167.6 341,167.6 341.2,167.6 341.4,167.6 341.6,167.6 341.7,167.7 341.9,167.8 342.1,167.9 342.3,168 342.5,168.1 342.7,168.2 342.9,168.3 343.1,168.4 343.3,168.6 343.4,168.7 343.6,168.8 343.8,168.9 344,169.1 344.2,169.2 344.4,169.3 344.6,169.4 344.8,169.5 345,169.6 345.1,169.7 345.3,169.8 345.5,169.9 345.7,170 345.9,170.1 346.1,170.2 346.3,170.3 346.5,170.4 346.7,170.4 346.8,170.5 347,170.6 347.2,170.6 347.4,170.6 347.6,170.7 347.8,170.7 348,170.8 348.2,170.8 348.4,170.8 348.5,170.8 348.7,170.8 348.9,170.8 349.1,170.8 349.3,170.8 349.5,170.8 349.7,170.7 349.9,170.7 350.1,170.6 350.2,170.6 350.4,170.5 350.6,170.5 350.8,170.4 351,170.4 351.2,170.3 351.4,170.3 351.6,170.2 351.8,170.1 351.9,170.1 352.1,170 352.3,170 352.5,169.9 352.7,169.9 352.9,169.8 353.1,169.7 353.3,169.7 353.5,169.6 353.6,169.6 353.8,169.5 354,169.5 354.2,169.4 354.4,169.4 354.6,169.4 354.8,169.3 355,169.3 355.2,169.2 355.3,169.2 355.5,169.2 355.7,169.2 355.9,169.1 356.1,169.1 356.3,169.1 356.5,169.1 356.7,169 356.9,169 357,169 357.2,169 357.4,169 357.6,169 357.8,169 358,169 358.2,169 358.4,169 358.6,169 358.7,169.1 358.9,169.1 359.1,169.1 359.3,169.1 359.5,169.2 359.7,169.2 359.9,169.2 360.1,169.2 360.2,169.3 360.4,169.3 360.6,169.3 360.8,169.4 361,169.4 361.2,169.4 361.4,169.4 361.6,169.5 361.8,169.5 361.9,169.5 362.1,169.6 362.3,169.6 362.5,169.6 362.7,169.6 362.9,169.6 363.1,169.7 363.3,169.7 363.5,169.7 363.6,169.7 363.8,169.7 364,169.8 364.2,169.8 364.4,169.8 364.6,169.8 364.8,169.8 365,169.8 365.2,169.8 365.3,169.8 365.5,169.8 365.7,169.8 365.9,169.8 366.1,169.8 366.3,169.9 366.5,169.9 366.7,169.8 366.9,169.8 367,169.8 367.2,169.8 367.4,169.8 367.6,169.8 367.8,169.8 368,169.8 368.2,169.8 368.4,169.7 368.6,169.7 368.7,169.7 368.9,169.7 369.1,169.7 369.3,169.7 369.5,169.6 369.7,169.6 369.9,169.6 370.1,169.6 370.3,169.6 370.4,169.6 370.6,169.5 370.8,169.5 371,169.5 371.2,169.5 371.4,169.5 371.6,169.5 371.8,169.4 372,169.4 372.1,169.4 372.3,169.4 372.5,169.4 372.7,169.4 372.9,169.4 373.1,169.4 373.3,169.4 373.5,169.4 373.7,169.3 373.8,169.3 374,169.3 374.2,169.3 374.4,169.3 374.6,169.3 374.8,169.3 375,169.3 375.2,169.3 375.4,169.3 375.5,169.3 375.7,169.3 375.9,169.3 376.1,169.3 376.3,169.3 376.5,169.3 376.7,169.3 376.9,169.4 377.1,169.4 377.2,169.4 377.4,169.4 377.6,169.4 377.8,169.4 378,169.4 378.2,169.4 378.4,169.4 378.6,169.4 378.8,169.4 378.9,169.5 379.1,169.5 379.3,169.5 379.5,169.5 379.7,169.5 379.9,169.5 380.1,169.5 380.3,169.5 380.5,169.5 380.6,169.5 380.8,169.5 381,169.6 381.2,169.6 381.4,169.6 381.6,169.6 381.8,169.6 382,169.6 382.2,169.6 382.3,169.6 382.5,169.6 382.7,169.6 382.9,169.6 383.1,169.6 383.3,169.6 383.5,169.6 383.7,169.6 383.8,169.6 384,169.6 384.2,169.6 384.4,169.6 384.6,169.6 384.8,169.6 385,169.6 385.2,169.6 385.4,169.6 385.5,169.6 385.7,169.6 385.9,169.6 386.1,169.6 386.3,169.6 386.5,169.6 386.7,169.6 386.9,169.6 387.1,169.6 387.2,169.6 387.4,169.6 387.6,169.6 387.8,169.6 388,169.6 388.2,169.6 388.4,169.6 388.6,169.6 388.8,169.6 388.9,169.6 389.1,169.6 389.3,169.6 389.5,169.6 389.7,169.6 389.9,169.6 390.1,169.6 390.3,169.6 390.5,169.6 390.6,169.6 390.8,169.6 391,169.6 391.2,169.6 391.4,169.5 391.6,169.5 391.8,169.5 392,169.5 392.2,169.5 392.3,169.5 392.5,169.5 392.7,169.5 392.9,169.5 393.1,169.5 393.3,169.5 393.5,169.5 393.7,169.5 393.9,169.5 394,169.5 394.2,169.5 394.4,169.5 394.6,169.5 394.8,169.5" fill="none" stroke="#0a6290" stroke-width="0.5" marker-start="url(#n0)" marker-mid="url(#n0)" marker-end="url(#n0)"/>
<polyline points="300.4,180.2 300.6,180.2 300.8,180.1 301,180 301.2,179.8 301.3,179.6 301.5,179.4 301.7,179 301.9,178.4 302.1,177.7 302.3,176.8" fill="none" stroke="#cc4f22" stroke-width="0.5" marker-start="url(#n1)" marker-mid="url(#n1)" marker-end="url(#n1)"/>
<polyline points="302.5,175.7 302.7,174.2 302.9,172.4 303,170.3 303.2,167.7 303.4,164.8 303.6,161.4 303.8,157.6 304,153.5 304.2,149.2 304.4,144.6 304.6,140 304.7,135.5 304.9,131.3 305.1,127.4 305.3,124.1 305.5,121.5 305.7,119.7" fill="none" stroke="#cc4f22" stroke-width="0.5" marker-start="url(#s1)" marker-mid="url(#s1)" marker-end="url(#s1)"/>
<polyline points="305.7,119.7 305.9,118.8 306.1,118.7 306.3,118.9 306.4,119.4" fill="none" stroke="#cc4f22" stroke-width="0.5" marker-start="url(#n1)" marker-mid="url(#n1)" marker-end="url(#n1)"/>
<polyline points="306.6,120.2 306.8,121.4 307,123 307.2,125 307.4,127.3 307.6,130 307.8,133 308,136.3 308.1,139.7 308.3,143.2 308.5,146.8 308.7,150.3 308.9,153.8 309.1,157.1 309.3,160.1 309.5,162.9 309.7,165.5 309.8,167.7 310,169.7 310.2,171.4 310.4,172.8" fill="none" stroke="#cc4f22" stroke-width="0.5" marker-start="url(#s1)" marker-mid="url(#s1)" marker-end="url(#s1)"/>
<polyline points="310.4,172.8 310.6,173.9 310.8,174.9 311,175.6 311.2,176.2 311.4,176.7 311.5,177 311.7,177.3 311.9,177.5 312.1,177.6 312.3,177.7 312.5,177.8 312.7,177.8 312.9,177.9 313,177.9 313.2,177.9 313.4,177.9 313.6,177.9 313.8,177.9 314,177.9 314.2,177.9 314.4,177.9 314.6,177.9 314.7,177.9 314.9,177.9 315.1,177.9 315.3,177.9 315.5,177.9 315.7,177.9 315.9,177.9 316.1,177.9 316.3,177.9 316.4,177.9 316.6,177.9 316.8,177.9 317,177.9 317.2,177.9 317.4,177.9 317.6,177.9 317.8,177.9 318,177.9 318.1,177.9 318.3,177.9 318.5,177.9 318.7,177.9 318.9,177.9 319.1,177.9 319.3,177.9 319.5,177.8 319.7,177.5 319.8,177.1 320,176.7 320.2,176.2 320.4,175.7 320.6,175.1 320.8,174.5 321,173.9 321.2,173.3 321.4,172.7 321.5,172 321.7,171.4 321.9,170.7 322.1,170.1 322.3,169.5 322.5,168.9 322.7,168.3 322.9,167.7 323.1,167.1 323.2,166.5 323.4,166 323.6,165.4 323.8,164.9 324,164.5 324.2,164 324.4,163.6 324.6,163.2 324.8,162.8 324.9,162.5 325.1,162.2 325.3,161.9 325.5,161.6 325.7,161.4 325.9,161.2 326.1,161.1 326.3,160.9 326.5,160.8 326.6,160.8 326.8,160.7 327,160.7 327.2,160.8 327.4,161 327.6,161.3 327.8,161.6 328,161.9 328.2,162.3 328.3,162.6 328.5,163 328.7,163.4 328.9,163.8 329.1,164.2 329.3,164.6 329.5,165.1 329.7,165.5 329.9,165.9 330,166.3 330.2,166.7 330.4,167.1 330.6,167.5 330.8,167.9 331,168.3 331.2,168.6 331.4,169 331.6,169.4 331.7,169.7 331.9,170 332.1,170.3 332.3,170.6 332.5,170.9 332.7,171.1 332.9,171.4 333.1,171.6 333.3,171.8 333.4,172 333.6,172.2 333.8,172.4 334,172.6 334.2,172.7 334.4,172.8 334.6,172.9 334.8,173 335,173.1 335.1,173.1 335.3,173.2 335.5,173.2 335.7,173.2 335.9,173.2 336.1,173.1 336.3,173 336.5,172.9 336.6,172.8 336.8,172.7 337,172.5 337.2,172.4 337.4,172.3 337.6,172.1 337.8,172 338,171.8 338.2,171.7 338.3,171.5 338.5,171.3 338.7,171.2 338.9,171 339.1,170.8 339.3,170.7 339.5,170.5 339.7,170.4 339.9,170.2 340,170 340.2,169.9 340.4,169.7 340.6,169.6 340.8,169.4 341,169.3 341.2,169.1 341.4,169 341.6,168.9 341.7,168.8 341.9,168.6 342.1,168.5 342.3,168.4 342.5,168.3 342.7,168.2 342.9,168.1 343.1,168 343.3,167.9 343.4,167.9 343.6,167.8 343.8,167.7 344,167.7 344.2,167.6 344.4,167.6 344.6,167.5 344.8,167.5 345,167.4 345.1,167.4 345.3,167.4 345.5,167.4 345.7,167.4 345.9,167.4 346.1,167.4 346.3,167.5 346.5,167.6 346.7,167.6 346.8,167.7 347,167.8 347.2,168 347.4,168.1 347.6,168.2 347.8,168.3 348,168.4 348.2,168.6 348.4,168.7 348.5,168.8 348.7,168.9 348.9,169.1 349.1,169.2 349.3,169.3 349.5,169.4 349.7,169.5 349.9,169.6 350.1,169.8 350.2,169.9 350.4,170 350.6,170.1 350.8,170.2 351,170.2 351.2,170.3 351.4,170.4 351.6,170.5 351.8,170.6 351.9,170.6 352.1,170.7 352.3,170.7 352.5,170.8 352.7,170.8 352.9,170.9 353.1,170.9 353.3,171 353.5,171 353.6,171 353.8,171 354,171 354.2,171 354.4,171 354.6,171 354.8,171 355,171 355.2,170.9 355.3,170.9 355.5,170.8 355.7,170.8 355.9,170.7 356.1,170.7 356.3,170.6 356.5,170.5 356.7,170.5 356.9,170.4 357,170.4 357.2,170.3 357.4,170.2 357.6,170.2 357.8,170.1 358,170 358.2,170 358.4,169.9 358.6,169.9 358.7,169.8 358.9,169.7 359.1,169.7 359.3,169.6 359.5,169.6 359.7,169.5 359.9,169.5 360.1,169.4 360.2,169.4 360.4,169.3 360.6,169.3 360.8,169.3 361,169.2 361.2,169.2 361.4,169.2 361.6,169.1 361.8,169.1 361.9,169.1 362.1,169.1 362.3,169 362.5,169 362.7,169 362.9,169 363.1,169 363.3,169 363.5,169 363.6,169 363.8,169 364,169 364.2,169 364.4,169.1 364.6,169.1 364.8,169.1 365,169.1 365.2,169.2 365.3,169.2 365.5,169.2 365.7,169.3 365.9,169.3 366.1,169.3 366.3,169.4 366.5,169.4 366.7,169.4 366.9,169.4 367,169.5 367.2,169.5 367.4,169.5 367.6,169.6 367.8,169.6 368,169.6 368.2,169.6 368.4,169.7 368.6,169.7 368.7,169.7 368.9,169.7 369.1,169.8 369.3,169.8 369.5,169.8 369.7,169.8 369.9,169.8 370.1,169.9 370.3,169.9 370.4,169.9 370.6,169.9 370.8,169.9 371,169.9 371.2,169.9 371.4,169.9 371.6,169.9 371.8,170 372,170 372.1,170 372.3,170 372.5,170 372.7,170 372.9,169.9 373.1,169.9 373.3,169.9 373.5,169.9 373.7,169.9 373.8,169.9 374,169.9 374.2,169.8 374.4,169.8 374.6,169.8 374.8,169.8 375,169.8 375.2,169.7 375.4,169.7 375.5,169.7 375.7,169.7 375.9,169.7 376.1,169.6 376.3,169.6 376.5,169.6 376.7,169.6 376.9,169.6 377.1,169.5 377.2,169.5 377.4,169.5 377.6,169.5 377.8,169.5 378,169.5 378.2,169.4 378.4,169.4 378.6,169.4 378.8,169.4 378.9,169.4 379.1,169.4 379.3,169.4 379.5,169.4 379.7,169.4 379.9,169.3 380.1,169.3 380.3,169.3 380.5,169.3 380.6,169.3 380.8,169.3 381,169.3 381.2,169.3 381.4,169.3 381.6,169.3 381.8,169.3 382,169.3 382.2,169.3 382.3,169.3 382.5,169.3 382.7,169.3 382.9,169.3 383.1,169.3 383.3,169.3 383.5,169.3 383.7,169.3 383.8,169.4 384,169.4 384.2,169.4 384.4,169.4 384.6,169.4 384.8,169.4 385,169.4 385.2,169.4 385.4,169.4 385.5,169.4 385.7,169.4 385.9,169.4 386.1,169.4 386.3,169.4 386.5,169.4 386.7,169.4 386.9,169.4 387.1,169.4 387.2,169.4 387.4,169.4 387.6,169.4 387.8,169.4 388,169.5 388.2,169.5 388.4,169.5 388.6,169.5 388.8,169.5 388.9,169.5 389.1,169.5 389.3,169.5 389.5,169.5 389.7,169.5 389.9,169.5 390.1,169.5 390.3,169.5 390.5,169.5 390.6,169.5 390.8,169.5 391,169.5 391.2,169.5 391.4,169.5 391.6,169.5 391.8,169.5 392,169.5 392.2,169.5 392.3,169.5 392.5,169.5 392.7,169.5 392.9,169.5 393.1,169.5 393.3,169.5 393.5,169.5 393.7,169.5 393.9,169.5 394,169.5 394.2,169.5 394.4,169.5 394.6,169.5 394.8,169.5" fill="none" stroke="#cc4f22" stroke-width="0.5" marker-start="url(#n1)" marker-mid="url(#n1)" marker-end="url(#n1)"/>
<polyline points="300.4,180.3 300.6,180.3 300.8,180.3 301,180.2 301.2,180.2 301.3,180.2 301.5,180.1 301.7,180 301.9,179.9 302.1,179.7 302.3,179.5 302.5,179.2 302.7,178.7 302.9,178.2 303,177.4 303.2,176.5" fill="none" stroke="#edb120" stroke-width="0.5" marker-start="url(#n2)" marker-mid="url(#n2)" marker-end="url(#n2)"/>
<polyline points="303.4,175.4 303.6,174 303.8,172.3 304,170.3 304.2,168 304.4,165.4 304.6,162.4 304.7,159.2 304.9,155.7 305.1,152 305.3,148.3 305.5,144.5 305.7,140.9 305.9,137.4 306.1,134.4 306.3,131.7 306.4,129.7 306.6,128.2" fill="none" stroke="#edb120" stroke-width="0.5" marker-start="url(#s2)" marker-mid="url(#s2)" marker-end="url(#s2)"/>
<polyline points="306.6,128.2 306.8,127.5 307,127.4 307.2,127.5 307.4,127.8 307.6,128.4 307.8,129.1" fill="none" stroke="#edb120" stroke-width="0.5" marker-start="url(#n2)" marker-mid="url(#n2)" marker-end="url(#n2)"/>
<polyline points="308,130.1 308.1,131.4 308.3,132.9 308.5,134.6 308.7,136.6 308.9,138.7 309.1,141.1 309.3,143.6 309.5,146.2 309.7,148.8 309.8,151.5 310,154.1 310.2,156.7 310.4,159.2 310.6,161.5 310.8,163.7 311,165.8 311.2,167.6 311.4,169.3 311.5,170.7 311.7,172" fill="none" stroke="#edb120" stroke-width="0.5" marker-start="url(#s2)" marker-mid="url(#s2)" marker-end="url(#s2)"/>
<polyline points="311.7,172 311.9,173.1 312.1,174 312.3,174.8 312.5,175.5 312.7,176 312.9,176.5 313,176.8 313.2,177.1 313.4,177.3 313.6,177.5 313.8,177.6 314,177.7 314.2,177.8 314.4,177.8 314.6,177.8 314.7,177.9 314.9,177.9 315.1,177.9 315.3,177.9 315.5,177.9 315.7,177.9 315.9,177.9 316.1,177.9 316.3,177.9 316.4,177.9 316.6,177.9 316.8,177.9 317,177.9 317.2,177.9 317.4,177.9 317.6,177.9 317.8,177.9 318,177.9 318.1,177.9 318.3,177.9 318.5,177.9 318.7,177.9 318.9,177.8 319.1,177.8 319.3,177.8 319.5,177.8 319.7,177.8 319.8,177.8 320,177.8 320.2,177.8 320.4,177.8 320.6,177.8 320.8,177.8 321,177.8 321.2,177.8 321.4,177.8 321.5,177.8 321.7,177.8 321.9,177.8 322.1,177.8 322.3,177.8 322.5,177.8 322.7,177.8 322.9,177.7 323.1,177.4 323.2,177.1 323.4,176.8 323.6,176.3 323.8,175.9 324,175.4 324.2,174.9 324.4,174.4 324.6,173.9 324.8,173.3 324.9,172.8 325.1,172.2 325.3,171.6 325.5,171.1 325.7,170.5 325.9,170 326.1,169.4 326.3,168.9 326.5,168.3 326.6,167.8 326.8,167.3 327,166.8 327.2,166.3 327.4,165.8 327.6,165.4 327.8,165 328,164.6 328.2,164.2 328.3,163.8 328.5,163.5 328.7,163.1 328.9,162.8 329.1,162.6 329.3,162.3 329.5,162.1 329.7,161.9 329.9,161.7 330,161.5 330.2,161.4 330.4,161.3 330.6,161.2 330.8,161.2 331,161.1 331.2,161.1 331.4,161.2 331.6,161.4 331.7,161.7 331.9,161.9 332.1,162.2 332.3,162.5 332.5,162.9 332.7,163.2 332.9,163.6 333.1,163.9 333.3,164.3 333.4,164.7 333.6,165.1 333.8,165.4 334,165.8 334.2,166.2 334.4,166.6 334.6,167 334.8,167.3 335,167.7 335.1,168.1 335.3,168.4 335.5,168.8 335.7,169.1 335.9,169.4 336.1,169.8 336.3,170.1 336.5,170.4 336.6,170.6 336.8,170.9 337,171.2 337.2,171.4 337.4,171.7 337.6,171.9 337.8,172.1 338,172.3 338.2,172.5 338.3,172.7 338.5,172.8 338.7,173 338.9,173.1 339.1,173.2 339.3,173.3 339.5,173.4 339.7,173.5 339.9,173.5 340,173.6 340.2,173.6 340.4,173.6 340.6,173.6 340.8,173.6 341,173.5 341.2,173.5 341.4,173.4 341.6,173.3 341.7,173.2 341.9,173.1 342.1,173 342.3,172.9 342.5,172.8 342.7,172.7 342.9,172.5 343.1,172.4 343.3,172.3 343.4,172.2 343.6,172 343.8,171.9 344,171.7 344.2,171.6 344.4,171.5 344.6,171.3 344.8,171.2 345,171 345.1,170.9 345.3,170.8 345.5,170.6 345.7,170.5 345.9,170.4 346.1,170.2 346.3,170.1 346.5,170 346.7,169.8 346.8,169.7 347,169.6 347.2,169.5 347.4,169.3 347.6,169.2 347.8,169.1 348,169 348.2,168.9 348.4,168.8 348.5,168.7 348.7,168.6 348.9,168.5 349.1,168.4 349.3,168.3 349.5,168.2 349.7,168.2 349.9,168.1 350.1,168 350.2,167.9 350.4,167.9 350.6,167.8 350.8,167.8 351,167.7 351.2,167.7 351.4,167.6 351.6,167.6 351.8,167.5 351.9,167.5 352.1,167.5 352.3,167.4 352.5,167.4 352.7,167.4 352.9,167.4 353.1,167.4 353.3,167.4 353.5,167.4 353.6,167.4 353.8,167.5 354,167.5 354.2,167.6 354.4,167.7 354.6,167.8 354.8,167.9 355,168 355.2,168.1 355.3,168.2 355.5,168.4 355.7,168.5 355.9,168.6 356.1,168.7 356.3,168.8 356.5,168.9 356.7,169.1 356.9,169.2 357,169.3 357.2,169.4 357.4,169.5 357.6,169.6 357.8,169.7 358,169.8 358.2,169.9 358.4,170 358.6,170.1 358.7,170.2 358.9,170.3 359.1,170.4 359.3,170.5 359.5,170.5 359.7,170.6 359.9,170.7 360.1,170.7 360.2,170.8 360.4,170.8 360.6,170.9 360.8,170.9 361,171 361.2,171 361.4,171 361.6,171.1 361.8,171.1 361.9,171.1 362.1,171.1 362.3,171.1 362.5,171.1 362.7,171.1 362.9,171.1 363.1,171.1 363.3,171.1 363.5,171 363.6,171 363.8,170.9 364,170.9 364.2,170.8 364.4,170.8 364.6,170.7 364.8,170.7 365,170.6 365.2,170.6 365.3,170.5 365.5,170.4 365.7,170.4 365.9,170.3 366.1,170.3 366.3,170.2 366.5,170.1 366.7,170.1 366.9,170 367,169.9 367.2,169.9 367.4,169.8 367.6,169.8 367.8,169.7 368,169.7 368.2,169.6 368.4,169.5 368.6,169.5 368.7,169.4 368.9,169.4 369.1,169.4 369.3,169.3 369.5,169.3 369.7,169.2 369.9,169.2 370.1,169.2 370.3,169.1 370.4,169.1 370.6,169.1 370.8,169 371,169 371.2,169 371.4,169 371.6,169 371.8,168.9 372,168.9 372.1,168.9 372.3,168.9 372.5,168.9 372.7,168.9 372.9,168.9 373.1,168.9 373.3,168.9 373.5,168.9 373.7,168.9 373.8,168.9 374,169 374.2,169 374.4,169 374.6,169 374.8,169 375,169.1 375.2,169.1 375.4,169.1 375.5,169.2 375.7,169.2 375.9,169.2 376.1,169.2 376.3,169.3 376.5,169.3 376.7,169.3 376.9,169.3 377.1,169.4 377.2,169.4 377.4,169.4 377.6,169.4 377.8,169.5 378,169.5 378.2,169.5 378.4,169.5 378.6,169.6 378.8,169.6 378.9,169.6 379.1,169.6 379.3,169.6 379.5,169.7 379.7,169.7 379.9,169.7 380.1,169.7 380.3,169.7 380.5,169.7 380.6,169.8 380.8,169.8 381,169.8 381.2,169.8 381.4,169.8 381.6,169.8 381.8,169.8 382,169.8 382.2,169.8 382.3,169.8 382.5,169.8 382.7,169.8 382.9,169.8 383.1,169.9 383.3,169.9 383.5,169.9 383.7,169.8 383.8,169.8 384,169.8 384.2,169.8 384.4,169.8 384.6,169.8 384.8,169.8 385,169.8 385.2,169.8 385.4,169.8 385.5,169.8 385.7,169.8 385.9,169.8 386.1,169.7 386.3,169.7 386.5,169.7 386.7,169.7 386.9,169.7 387.1,169.7 387.2,169.7 387.4,169.7 387.6,169.7 387.8,169.6 388,169.6 388.2,169.6 388.4,169.6 388.6,169.6 388.8,169.6 388.9,169.6 389.1,169.6 389.3,169.6 389.5,169.6 389.7,169.5 389.9,169.5 390.1,169.5 390.3,169.5 390.5,169.5 390.6,169.5 390.8,169.5 391,169.5 391.2,169.5 391.4,169.5 391.6,169.5 391.8,169.5 392,169.5 392.2,169.5 392.3,169.4 392.5,169.4 392.7,169.4 392.9,169.4 393.1,169.4 393.3,169.4 393.5,169.4 393.7,169.4 393.9,169.4 394,169.4 394.2,169.4 394.4,169.4 394.6,169.4 394.8,169.4" fill="none" stroke="#edb120" stroke-width="0.5" marker-start="url(#n2)" marker-mid="url(#n2)" marker-end="url(#n2)"/>
</g>
<rect x="300.4" y="104.9" width="94.4" height="75.4" fill="none" stroke="#bdbdbd" stroke-width="0.5"/>
<path d="M300.4 180.3v-1M300.4 104.9v1M319.28 180.3v-1M319.28 104.9v1M338.16 180.3v-1M338.16 104.9v1M357.04 180.3v-1M357.04 104.9v1M375.92 180.3v-1M375.92 104.9v1M394.8 180.3v-1M394.8 104.9v1M300.4 180.3h1M394.8 180.3h-1M300.4 169.53h1M394.8 169.53h-1M300.4 158.76h1M394.8 158.76h-1M300.4 147.99h1M394.8 147.99h-1M300.4 137.21h1M394.8 137.21h-1M300.4 126.44h1M394.8 126.44h-1M300.4 115.67h1M394.8 115.67h-1M300.4 104.9h1M394.8 104.9h-1" stroke="#8a8a8a" stroke-width="0.45" fill="none"/>
<g class="tk"><text x="300.4" y="186.8" text-anchor="middle">0</text><text x="319.28" y="186.8" text-anchor="middle">100</text><text x="338.16" y="186.8" text-anchor="middle">200</text><text x="357.04" y="186.8" text-anchor="middle">300</text><text x="375.92" y="186.8" text-anchor="middle">400</text><text x="394.8" y="186.8" text-anchor="middle">500</text><text x="299.1" y="182" text-anchor="end">0</text><text x="299.1" y="171.23" text-anchor="end">2000</text><text x="299.1" y="160.46" text-anchor="end">4000</text><text x="299.1" y="149.69" text-anchor="end">6000</text><text x="299.1" y="138.91" text-anchor="end">8000</text><text x="299.1" y="128.14" text-anchor="end">10000</text><text x="299.1" y="117.37" text-anchor="end">12000</text><text x="299.1" y="106.6" text-anchor="end">14000</text></g>
<text class="tm" x="347.9" y="193.6" text-anchor="middle">Time</text>
<text class="lt" x="271.8" y="104.2">G</text>
<text class="yl" transform="translate(281.6 144.6) rotate(-90)" text-anchor="middle">I</text>
<text class="sb" transform="translate(283.9 142.2) rotate(-90)" text-anchor="middle">1</text>
<rect x="371.2" y="108.1" width="20.1" height="15.8" fill="#fff" stroke="#c8c8c8" stroke-width="0.5"/>
<path d="M372.4 110.83H378.6" stroke="#8a9aa0" stroke-opacity="0.5" stroke-width="0.45"/>
<circle cx="375.5" cy="110.83" r="0.75" fill="none" stroke="#0a6290" stroke-opacity="0.75" stroke-width="0.45"/>
<text class="lg" x="379.8" y="112.43" textLength="10.5" lengthAdjust="spacingAndGlyphs">data1</text>
<path d="M372.4 116.1H378.6" stroke="#8a9aa0" stroke-opacity="0.5" stroke-width="0.45"/>
<circle cx="375.5" cy="116.1" r="0.75" fill="none" stroke="#cc4f22" stroke-opacity="0.75" stroke-width="0.45"/>
<text class="lg" x="379.8" y="117.7" textLength="10.5" lengthAdjust="spacingAndGlyphs">data2</text>
<path d="M372.4 121.37H378.6" stroke="#8a9aa0" stroke-opacity="0.5" stroke-width="0.45"/>
<circle cx="375.5" cy="121.37" r="0.75" fill="none" stroke="#ebae20" stroke-opacity="0.75" stroke-width="0.45"/>
<text class="lg" x="379.8" y="122.97" textLength="10.5" lengthAdjust="spacingAndGlyphs">data3</text>
<path d="M39.82 205.3V278.8M58.54 205.3V278.8M77.26 205.3V278.8M95.98 205.3V278.8M21.1 264.1H114.7M21.1 249.4H114.7M21.1 234.7H114.7M21.1 220H114.7" stroke="#f6f6f6" stroke-width="0.5" fill="none"/>
<g clip-path="url(#cF)">
<polyline points="21.1,276.4 21.1,276.4" fill="none" stroke="none" marker-start="url(#n0)"/>
<polyline points="21.3,275.4 21.5,274.2 21.7,272.6 21.8,270.6 22,268.1 22.2,265.1 22.4,261.5 22.6,257.4 22.8,252.7 23,247.5 23.2,241.8 23.3,235.9 23.5,229.9 23.7,223.9 23.9,218.1 24.1,212.9 24.3,208.4 24.5,204.8" fill="none" stroke="#0a6290" stroke-width="0.5" marker-start="url(#s0)" marker-mid="url(#s0)" marker-end="url(#s0)"/>
<polyline points="24.5,204.8 24.7,203.8 24.8,203.8 25,203.8 25.2,203.8 25.4,203.8" fill="none" stroke="#0a6290" stroke-width="0.5" marker-start="url(#n0)" marker-mid="url(#n0)" marker-end="url(#n0)"/>
<polyline points="25.6,203.8 25.8,205.5 26,208.2 26.2,211.5 26.3,215.3 26.5,219.7 26.7,224.4 26.9,229.4 27.1,234.6 27.3,239.7 27.5,244.8 27.7,249.5 27.8,254 28,258 28.2,261.6 28.4,264.7 28.6,267.4 28.8,269.6 29,271.4 29.1,272.8" fill="none" stroke="#0a6290" stroke-width="0.5" marker-start="url(#s0)" marker-mid="url(#s0)" marker-end="url(#s0)"/>
<polyline points="29.1,272.8 29.3,273.9 29.5,274.7 29.7,275.3 29.9,275.8 30.1,276.1 30.3,276.3 30.5,276.4 30.6,276.5 30.8,276.6 31,276.6 31.2,276.7 31.4,276.7 31.6,276.7 31.8,276.7 32,276.7 32.1,276.7 32.3,276.7 32.5,276.7 32.7,276.7 32.9,276.7 33.1,276.7 33.3,276.7 33.5,276.7 33.6,276.7 33.8,276.7 34,276.7 34.2,276.7 34.4,276.7 34.6,276.7 34.8,276.7 35,276.7 35.1,276.7 35.3,276.7 35.5,276.7 35.7,276.7 35.9,276.7 36.1,276.7 36.3,276.7 36.5,276.7 36.6,276.7 36.8,276.7 37,276.5 37.2,276.3 37.4,275.9 37.6,275.5 37.8,275.1 37.9,274.6 38.1,274 38.3,273.5 38.5,272.9 38.7,272.4 38.9,271.8 39.1,271.2 39.3,270.6 39.4,270 39.6,269.4 39.8,268.9 40,268.3 40.2,267.7 40.4,267.2 40.6,266.7 40.8,266.2 40.9,265.7 41.1,265.2 41.3,264.8 41.5,264.4 41.7,264 41.9,263.7 42.1,263.3 42.3,263 42.4,262.8 42.6,262.5 42.8,262.3 43,262.1 43.2,262 43.4,261.8 43.6,261.7 43.8,261.7 43.9,261.6 44.1,261.6 44.3,261.7 44.5,261.9 44.7,262.2 44.9,262.5 45.1,262.8 45.2,263.2 45.4,263.6 45.6,264 45.8,264.4 46,264.8 46.2,265.2 46.4,265.6 46.6,266 46.7,266.4 46.9,266.8 47.1,267.2 47.3,267.6 47.5,267.9 47.7,268.3 47.9,268.7 48.1,269 48.2,269.3 48.4,269.7 48.6,270 48.8,270.3 49,270.5 49.2,270.8 49.4,271 49.6,271.2 49.7,271.4 49.9,271.6 50.1,271.8 50.3,271.9 50.5,272.1 50.7,272.2 50.9,272.3 51.1,272.4 51.2,272.4 51.4,272.5 51.6,272.5 51.8,272.5 52,272.5 52.2,272.4 52.4,272.3 52.5,272.2 52.7,272.1 52.9,272 53.1,271.9 53.3,271.8 53.5,271.7 53.7,271.6 53.9,271.4 54,271.3 54.2,271.1 54.4,271 54.6,270.9 54.8,270.7 55,270.6 55.2,270.4 55.4,270.3 55.5,270.2 55.7,270 55.9,269.9 56.1,269.7 56.3,269.6 56.5,269.5 56.7,269.3 56.9,269.2 57,269.1 57.2,269 57.4,268.9 57.6,268.8 57.8,268.6 58,268.5 58.2,268.4 58.4,268.4 58.5,268.3 58.7,268.2 58.9,268.1 59.1,268 59.3,268 59.5,267.9 59.7,267.8 59.9,267.8 60,267.7 60.2,267.7 60.4,267.6 60.6,267.6 60.8,267.6 61,267.6 61.2,267.5 61.3,267.5 61.5,267.5 61.7,267.5 61.9,267.6 62.1,267.6 62.3,267.7 62.5,267.8 62.7,267.9 62.8,268 63,268.1 63.2,268.2 63.4,268.3 63.6,268.4 63.8,268.5 64,268.6 64.2,268.7 64.3,268.8 64.5,268.9 64.7,269 64.9,269.1 65.1,269.2 65.3,269.3 65.5,269.4 65.7,269.5 65.8,269.6 66,269.7 66.2,269.8 66.4,269.8 66.6,269.9 66.8,270 67,270 67.2,270.1 67.3,270.2 67.5,270.2 67.7,270.2 67.9,270.3 68.1,270.3 68.3,270.3 68.5,270.4 68.6,270.4 68.8,270.4 69,270.4 69.2,270.4 69.4,270.4 69.6,270.4 69.8,270.3 70,270.3 70.1,270.3 70.3,270.2 70.5,270.2 70.7,270.1 70.9,270.1 71.1,270 71.3,270 71.5,269.9 71.6,269.9 71.8,269.8 72,269.8 72.2,269.7 72.4,269.7 72.6,269.6 72.8,269.6 73,269.5 73.1,269.5 73.3,269.4 73.5,269.4 73.7,269.3 73.9,269.3 74.1,269.3 74.3,269.2 74.5,269.2 74.6,269.1 74.8,269.1 75,269.1 75.2,269 75.4,269 75.6,269 75.8,268.9 75.9,268.9 76.1,268.9 76.3,268.9 76.5,268.8 76.7,268.8 76.9,268.8 77.1,268.8 77.3,268.8 77.4,268.8 77.6,268.8 77.8,268.8 78,268.8 78.2,268.8 78.4,268.8 78.6,268.8 78.8,268.8 78.9,268.8 79.1,268.8 79.3,268.9 79.5,268.9 79.7,268.9 79.9,268.9 80.1,269 80.3,269 80.4,269 80.6,269 80.8,269.1 81,269.1 81.2,269.1 81.4,269.1 81.6,269.2 81.8,269.2 81.9,269.2 82.1,269.2 82.3,269.3 82.5,269.3 82.7,269.3 82.9,269.3 83.1,269.3 83.3,269.4 83.4,269.4 83.6,269.4 83.8,269.4 84,269.4 84.2,269.4 84.4,269.5 84.6,269.5 84.7,269.5 84.9,269.5 85.1,269.5 85.3,269.5 85.5,269.5 85.7,269.5 85.9,269.5 86.1,269.5 86.2,269.5 86.4,269.5 86.6,269.5 86.8,269.5 87,269.5 87.2,269.5 87.4,269.5 87.6,269.5 87.7,269.5 87.9,269.5 88.1,269.5 88.3,269.4 88.5,269.4 88.7,269.4 88.9,269.4 89.1,269.4 89.2,269.4 89.4,269.4 89.6,269.3 89.8,269.3 90,269.3 90.2,269.3 90.4,269.3 90.6,269.3 90.7,269.3 90.9,269.2 91.1,269.2 91.3,269.2 91.5,269.2 91.7,269.2 91.9,269.2 92,269.2 92.2,269.2 92.4,269.1 92.6,269.1 92.8,269.1 93,269.1 93.2,269.1 93.4,269.1 93.5,269.1 93.7,269.1 93.9,269.1 94.1,269.1 94.3,269.1 94.5,269.1 94.7,269.1 94.9,269.1 95,269.1 95.2,269.1 95.4,269.1 95.6,269.1 95.8,269.1 96,269.1 96.2,269.1 96.4,269.1 96.5,269.1 96.7,269.1 96.9,269.1 97.1,269.1 97.3,269.1 97.5,269.1 97.7,269.1 97.9,269.1 98,269.1 98.2,269.1 98.4,269.2 98.6,269.2 98.8,269.2 99,269.2 99.2,269.2 99.3,269.2 99.5,269.2 99.7,269.2 99.9,269.2 100.1,269.2 100.3,269.2 100.5,269.2 100.7,269.3 100.8,269.3 101,269.3 101.2,269.3 101.4,269.3 101.6,269.3 101.8,269.3 102,269.3 102.2,269.3 102.3,269.3 102.5,269.3 102.7,269.3 102.9,269.3 103.1,269.3 103.3,269.3 103.5,269.3 103.7,269.3 103.8,269.3 104,269.3 104.2,269.3 104.4,269.3 104.6,269.3 104.8,269.3 105,269.3 105.2,269.3 105.3,269.3 105.5,269.3 105.7,269.3 105.9,269.3 106.1,269.3 106.3,269.3 106.5,269.3 106.7,269.3 106.8,269.3 107,269.3 107.2,269.3 107.4,269.3 107.6,269.3 107.8,269.3 108,269.3 108.1,269.3 108.3,269.3 108.5,269.3 108.7,269.3 108.9,269.3 109.1,269.3 109.3,269.3 109.5,269.3 109.6,269.3 109.8,269.3 110,269.3 110.2,269.3 110.4,269.3 110.6,269.3 110.8,269.3 111,269.3 111.1,269.3 111.3,269.3 111.5,269.3 111.7,269.3 111.9,269.3 112.1,269.3 112.3,269.3 112.5,269.3 112.6,269.3 112.8,269.3 113,269.2 113.2,269.2 113.4,269.2 113.6,269.2 113.8,269.2 114,269.2 114.1,269.2 114.3,269.2 114.5,269.2 114.7,269.2" fill="none" stroke="#0a6290" stroke-width="0.5" marker-start="url(#n0)" marker-mid="url(#n0)" marker-end="url(#n0)"/>
<polyline points="21.1,278.5 21.3,278.4 21.5,278.1 21.7,277.9 21.8,277.5 22,276.9 22.2,276.2 22.4,275.3" fill="none" stroke="#cc4f22" stroke-width="0.5" marker-start="url(#n1)" marker-mid="url(#n1)" marker-end="url(#n1)"/>
<polyline points="22.6,274.2 22.8,272.7 23,271 23.2,268.8 23.3,266.3 23.5,263.3 23.7,259.9 23.9,256.2 24.1,252.1 24.3,247.7 24.5,243.2 24.7,238.6 24.8,234.2 25,229.9 25.2,226.1 25.4,222.8 25.6,220.2 25.8,218.4" fill="none" stroke="#cc4f22" stroke-width="0.5" marker-start="url(#s1)" marker-mid="url(#s1)" marker-end="url(#s1)"/>
<polyline points="25.8,218.4 26,217.5 26.2,217.4 26.3,217.6 26.5,218" fill="none" stroke="#cc4f22" stroke-width="0.5" marker-start="url(#n1)" marker-mid="url(#n1)" marker-end="url(#n1)"/>
<polyline points="26.7,218.9 26.9,220.1 27.1,221.7 27.3,223.7 27.5,226 27.7,228.7 27.8,231.8 28,235 28.2,238.5 28.4,242 28.6,245.6 28.8,249.2 29,252.6 29.1,255.9 29.3,259 29.5,261.8 29.7,264.3 29.9,266.6 30.1,268.6 30.3,270.2 30.5,271.6" fill="none" stroke="#cc4f22" stroke-width="0.5" marker-start="url(#s1)" marker-mid="url(#s1)" marker-end="url(#s1)"/>
<polyline points="30.5,271.6 30.6,272.8 30.8,273.7 31,274.5 31.2,275.1 31.4,275.5 31.6,275.9 31.8,276.1 32,276.3 32.1,276.4 32.3,276.5 32.5,276.6 32.7,276.6 32.9,276.6 33.1,276.7 33.3,276.7 33.5,276.7 33.6,276.7 33.8,276.7 34,276.7 34.2,276.7 34.4,276.7 34.6,276.7 34.8,276.7 35,276.7 35.1,276.7 35.3,276.7 35.5,276.7 35.7,276.7 35.9,276.7 36.1,276.7 36.3,276.7 36.5,276.7 36.6,276.7 36.8,276.7 37,276.7 37.2,276.7 37.4,276.7 37.6,276.7 37.8,276.7 37.9,276.7 38.1,276.7 38.3,276.7 38.5,276.7 38.7,276.7 38.9,276.7 39.1,276.7 39.3,276.7 39.4,276.7 39.6,276.7 39.8,276.7 40,276.6 40.2,276.3 40.4,276 40.6,275.6 40.8,275.1 40.9,274.7 41.1,274.2 41.3,273.7 41.5,273.1 41.7,272.6 41.9,272 42.1,271.5 42.3,270.9 42.4,270.3 42.6,269.8 42.8,269.2 43,268.7 43.2,268.1 43.4,267.6 43.6,267.1 43.8,266.6 43.9,266.1 44.1,265.6 44.3,265.2 44.5,264.8 44.7,264.4 44.9,264 45.1,263.6 45.2,263.3 45.4,263 45.6,262.7 45.8,262.5 46,262.2 46.2,262 46.4,261.9 46.6,261.7 46.7,261.6 46.9,261.5 47.1,261.5 47.3,261.4 47.5,261.4 47.7,261.5 47.9,261.7 48.1,261.9 48.2,262.2 48.4,262.5 48.6,262.8 48.8,263.1 49,263.5 49.2,263.8 49.4,264.2 49.6,264.5 49.7,264.9 49.9,265.3 50.1,265.7 50.3,266 50.5,266.4 50.7,266.7 50.9,267.1 51.1,267.5 51.2,267.8 51.4,268.1 51.6,268.5 51.8,268.8 52,269.1 52.2,269.4 52.4,269.7 52.5,269.9 52.7,270.2 52.9,270.4 53.1,270.7 53.3,270.9 53.5,271.1 53.7,271.3 53.9,271.5 54,271.6 54.2,271.8 54.4,271.9 54.6,272 54.8,272.2 55,272.2 55.2,272.3 55.4,272.4 55.5,272.4 55.7,272.5 55.9,272.5 56.1,272.5 56.3,272.5 56.5,272.4 56.7,272.3 56.9,272.2 57,272.1 57.2,272 57.4,271.9 57.6,271.8 57.8,271.7 58,271.5 58.2,271.4 58.4,271.3 58.5,271.1 58.7,271 58.9,270.8 59.1,270.7 59.3,270.6 59.5,270.4 59.7,270.3 59.9,270.1 60,270 60.2,269.8 60.4,269.7 60.6,269.6 60.8,269.4 61,269.3 61.2,269.2 61.3,269 61.5,268.9 61.7,268.8 61.9,268.7 62.1,268.6 62.3,268.5 62.5,268.4 62.7,268.3 62.8,268.2 63,268.1 63.2,268 63.4,267.9 63.6,267.8 63.8,267.8 64,267.7 64.2,267.6 64.3,267.6 64.5,267.5 64.7,267.5 64.9,267.5 65.1,267.4 65.3,267.4 65.5,267.4 65.7,267.4 65.8,267.3 66,267.3 66.2,267.3 66.4,267.4 66.6,267.4 66.8,267.5 67,267.6 67.2,267.7 67.3,267.8 67.5,267.9 67.7,268 67.9,268.1 68.1,268.2 68.3,268.3 68.5,268.4 68.6,268.5 68.8,268.6 69,268.7 69.2,268.8 69.4,268.9 69.6,269 69.8,269.1 70,269.3 70.1,269.4 70.3,269.4 70.5,269.5 70.7,269.6 70.9,269.7 71.1,269.8 71.3,269.9 71.5,270 71.6,270 71.8,270.1 72,270.2 72.2,270.2 72.4,270.3 72.6,270.3 72.8,270.4 73,270.4 73.1,270.4 73.3,270.5 73.5,270.5 73.7,270.5 73.9,270.5 74.1,270.6 74.3,270.6 74.5,270.6 74.6,270.6 74.8,270.6 75,270.5 75.2,270.5 75.4,270.5 75.6,270.4 75.8,270.4 75.9,270.4 76.1,270.3 76.3,270.3 76.5,270.2 76.7,270.1 76.9,270.1 77.1,270 77.3,270 77.4,269.9 77.6,269.9 77.8,269.8 78,269.8 78.2,269.7 78.4,269.6 78.6,269.6 78.8,269.5 78.9,269.5 79.1,269.4 79.3,269.4 79.5,269.3 79.7,269.3 79.9,269.2 80.1,269.2 80.3,269.2 80.4,269.1 80.6,269.1 80.8,269 81,269 81.2,269 81.4,269 81.6,268.9 81.8,268.9 81.9,268.9 82.1,268.9 82.3,268.8 82.5,268.8 82.7,268.8 82.9,268.8 83.1,268.8 83.3,268.8 83.4,268.8 83.6,268.8 83.8,268.8 84,268.8 84.2,268.8 84.4,268.8 84.6,268.8 84.7,268.8 84.9,268.9 85.1,268.9 85.3,268.9 85.5,268.9 85.7,269 85.9,269 86.1,269 86.2,269.1 86.4,269.1 86.6,269.1 86.8,269.1 87,269.2 87.2,269.2 87.4,269.2 87.6,269.3 87.7,269.3 87.9,269.3 88.1,269.3 88.3,269.4 88.5,269.4 88.7,269.4 88.9,269.4 89.1,269.4 89.2,269.5 89.4,269.5 89.6,269.5 89.8,269.5 90,269.5 90.2,269.5 90.4,269.6 90.6,269.6 90.7,269.6 90.9,269.6 91.1,269.6 91.3,269.6 91.5,269.6 91.7,269.6 91.9,269.6 92,269.6 92.2,269.6 92.4,269.6 92.6,269.6 92.8,269.6 93,269.6 93.2,269.6 93.4,269.6 93.5,269.6 93.7,269.6 93.9,269.6 94.1,269.5 94.3,269.5 94.5,269.5 94.7,269.5 94.9,269.5 95,269.4 95.2,269.4 95.4,269.4 95.6,269.4 95.8,269.4 96,269.4 96.2,269.3 96.4,269.3 96.5,269.3 96.7,269.3 96.9,269.3 97.1,269.3 97.3,269.2 97.5,269.2 97.7,269.2 97.9,269.2 98,269.2 98.2,269.2 98.4,269.2 98.6,269.1 98.8,269.1 99,269.1 99.2,269.1 99.3,269.1 99.5,269.1 99.7,269.1 99.9,269.1 100.1,269.1 100.3,269.1 100.5,269.1 100.7,269.1 100.8,269.1 101,269.1 101.2,269.1 101.4,269.1 101.6,269.1 101.8,269.1 102,269.1 102.2,269.1 102.3,269.1 102.5,269.1 102.7,269.1 102.9,269.1 103.1,269.1 103.3,269.1 103.5,269.1 103.7,269.1 103.8,269.1 104,269.1 104.2,269.1 104.4,269.1 104.6,269.1 104.8,269.1 105,269.1 105.2,269.1 105.3,269.1 105.5,269.1 105.7,269.1 105.9,269.1 106.1,269.1 106.3,269.1 106.5,269.1 106.7,269.2 106.8,269.2 107,269.2 107.2,269.2 107.4,269.2 107.6,269.2 107.8,269.2 108,269.2 108.1,269.2 108.3,269.2 108.5,269.2 108.7,269.2 108.9,269.2 109.1,269.2 109.3,269.2 109.5,269.2 109.6,269.2 109.8,269.2 110,269.2 110.2,269.2 110.4,269.2 110.6,269.2 110.8,269.2 111,269.2 111.1,269.2 111.3,269.2 111.5,269.2 111.7,269.2 111.9,269.2 112.1,269.2 112.3,269.2 112.5,269.2 112.6,269.2 112.8,269.2 113,269.2 113.2,269.2 113.4,269.2 113.6,269.2 113.8,269.2 114,269.2 114.1,269.2 114.3,269.2 114.5,269.2 114.7,269.2" fill="none" stroke="#cc4f22" stroke-width="0.5" marker-start="url(#n1)" marker-mid="url(#n1)" marker-end="url(#n1)"/>
<polyline points="21.1,278.7 21.3,278.7 21.5,278.7 21.7,278.6 21.8,278.5 22,278.4 22.2,278.2 22.4,278 22.6,277.6 22.8,277.2 23,276.6 23.2,275.9 23.3,275" fill="none" stroke="#edb120" stroke-width="0.5" marker-start="url(#n2)" marker-mid="url(#n2)" marker-end="url(#n2)"/>
<polyline points="23.5,273.8 23.7,272.4 23.9,270.7 24.1,268.7 24.3,266.4 24.5,263.7 24.7,260.8 24.8,257.5 25,254 25.2,250.3 25.4,246.5 25.6,242.7 25.8,239 26,235.5 26.2,232.4 26.3,229.8 26.5,227.7 26.7,226.3" fill="none" stroke="#edb120" stroke-width="0.5" marker-start="url(#s2)" marker-mid="url(#s2)" marker-end="url(#s2)"/>
<polyline points="26.7,226.3 26.9,225.5 27.1,225.4 27.3,225.6 27.5,225.9 27.7,226.4 27.8,227.2" fill="none" stroke="#edb120" stroke-width="0.5" marker-start="url(#n2)" marker-mid="url(#n2)" marker-end="url(#n2)"/>
<polyline points="28,228.2 28.2,229.5 28.4,231 28.6,232.8 28.8,234.8 29,237 29.1,239.4 29.3,241.9 29.5,244.6 29.7,247.3 29.9,250 30.1,252.7 30.3,255.3 30.5,257.8 30.6,260.2 30.8,262.4 31,264.5 31.2,266.3 31.4,268 31.6,269.5 31.8,270.8" fill="none" stroke="#edb120" stroke-width="0.5" marker-start="url(#s2)" marker-mid="url(#s2)" marker-end="url(#s2)"/>
<polyline points="31.8,270.8 32,271.9 32.1,272.9 32.3,273.7 32.5,274.3 32.7,274.8 32.9,275.3 33.1,275.6 33.3,275.9 33.5,276.1 33.6,276.2 33.8,276.4 34,276.5 34.2,276.5 34.4,276.6 34.6,276.6 34.8,276.6 35,276.7 35.1,276.7 35.3,276.7 35.5,276.7 35.7,276.7 35.9,276.7 36.1,276.7 36.3,276.7 36.5,276.7 36.6,276.7 36.8,276.7 37,276.7 37.2,276.7 37.4,276.7 37.6,276.7 37.8,276.7 37.9,276.6 38.1,276.6 38.3,276.6 38.5,276.6 38.7,276.6 38.9,276.6 39.1,276.6 39.3,276.6 39.4,276.6 39.6,276.6 39.8,276.6 40,276.6 40.2,276.6 40.4,276.6 40.6,276.6 40.8,276.6 40.9,276.6 41.1,276.6 41.3,276.6 41.5,276.6 41.7,276.6 41.9,276.6 42.1,276.6 42.3,276.6 42.4,276.6 42.6,276.6 42.8,276.6 43,276.6 43.2,276.6 43.4,276.5 43.6,276.3 43.8,276 43.9,275.7 44.1,275.3 44.3,274.9 44.5,274.5 44.7,274 44.9,273.6 45.1,273.1 45.2,272.6 45.4,272.1 45.6,271.6 45.8,271.1 46,270.6 46.2,270.1 46.4,269.6 46.6,269.1 46.7,268.6 46.9,268.2 47.1,267.7 47.3,267.3 47.5,266.8 47.7,266.4 47.9,266 48.1,265.6 48.2,265.2 48.4,264.8 48.6,264.5 48.8,264.2 49,263.9 49.2,263.6 49.4,263.3 49.6,263.1 49.7,262.8 49.9,262.6 50.1,262.5 50.3,262.3 50.5,262.2 50.7,262.1 50.9,262 51.1,261.9 51.2,261.8 51.4,261.8 51.6,261.8 51.8,261.9 52,262.1 52.2,262.3 52.4,262.5 52.5,262.8 52.7,263 52.9,263.3 53.1,263.6 53.3,264 53.5,264.3 53.7,264.6 53.9,264.9 54,265.3 54.2,265.6 54.4,266 54.6,266.3 54.8,266.6 55,267 55.2,267.3 55.4,267.6 55.5,268 55.7,268.3 55.9,268.6 56.1,268.9 56.3,269.2 56.5,269.4 56.7,269.7 56.9,270 57,270.2 57.2,270.5 57.4,270.7 57.6,270.9 57.8,271.1 58,271.3 58.2,271.5 58.4,271.7 58.5,271.9 58.7,272 58.9,272.2 59.1,272.3 59.3,272.4 59.5,272.5 59.7,272.6 59.9,272.7 60,272.7 60.2,272.8 60.4,272.8 60.6,272.9 60.8,272.9 61,272.9 61.2,272.9 61.3,272.8 61.5,272.8 61.7,272.7 61.9,272.6 62.1,272.5 62.3,272.4 62.5,272.3 62.7,272.2 62.8,272.1 63,272 63.2,271.9 63.4,271.8 63.6,271.7 63.8,271.6 64,271.5 64.2,271.3 64.3,271.2 64.5,271.1 64.7,271 64.9,270.8 65.1,270.7 65.3,270.6 65.5,270.5 65.7,270.3 65.8,270.2 66,270.1 66.2,270 66.4,269.9 66.6,269.7 66.8,269.6 67,269.5 67.2,269.4 67.3,269.3 67.5,269.2 67.7,269.1 67.9,269 68.1,268.9 68.3,268.8 68.5,268.7 68.6,268.6 68.8,268.5 69,268.4 69.2,268.3 69.4,268.2 69.6,268.2 69.8,268.1 70,268 70.1,268 70.3,267.9 70.5,267.8 70.7,267.8 70.9,267.7 71.1,267.7 71.3,267.6 71.5,267.6 71.6,267.5 71.8,267.5 72,267.5 72.2,267.4 72.4,267.4 72.6,267.4 72.8,267.4 73,267.4 73.1,267.3 73.3,267.3 73.5,267.3 73.7,267.3 73.9,267.4 74.1,267.4 74.3,267.5 74.5,267.6 74.6,267.6 74.8,267.7 75,267.8 75.2,267.9 75.4,268 75.6,268.1 75.8,268.2 75.9,268.3 76.1,268.4 76.3,268.5 76.5,268.6 76.7,268.7 76.9,268.8 77.1,268.9 77.3,269 77.4,269.1 77.6,269.2 77.8,269.3 78,269.4 78.2,269.5 78.4,269.6 78.6,269.7 78.8,269.8 78.9,269.8 79.1,269.9 79.3,270 79.5,270.1 79.7,270.1 79.9,270.2 80.1,270.3 80.3,270.3 80.4,270.4 80.6,270.4 80.8,270.5 81,270.5 81.2,270.5 81.4,270.6 81.6,270.6 81.8,270.6 81.9,270.6 82.1,270.6 82.3,270.7 82.5,270.7 82.7,270.7 82.9,270.7 83.1,270.7 83.3,270.6 83.4,270.6 83.6,270.6 83.8,270.5 84,270.5 84.2,270.5 84.4,270.4 84.6,270.4 84.7,270.3 84.9,270.3 85.1,270.2 85.3,270.2 85.5,270.1 85.7,270.1 85.9,270 86.1,269.9 86.2,269.9 86.4,269.8 86.6,269.8 86.8,269.7 87,269.7 87.2,269.6 87.4,269.6 87.6,269.5 87.7,269.5 87.9,269.4 88.1,269.4 88.3,269.3 88.5,269.3 88.7,269.2 88.9,269.2 89.1,269.1 89.2,269.1 89.4,269.1 89.6,269 89.8,269 90,268.9 90.2,268.9 90.4,268.9 90.6,268.9 90.7,268.8 90.9,268.8 91.1,268.8 91.3,268.8 91.5,268.7 91.7,268.7 91.9,268.7 92,268.7 92.2,268.7 92.4,268.7 92.6,268.7 92.8,268.7 93,268.7 93.2,268.7 93.4,268.7 93.5,268.7 93.7,268.7 93.9,268.7 94.1,268.7 94.3,268.8 94.5,268.8 94.7,268.8 94.9,268.8 95,268.8 95.2,268.9 95.4,268.9 95.6,268.9 95.8,268.9 96,269 96.2,269 96.4,269 96.5,269 96.7,269.1 96.9,269.1 97.1,269.1 97.3,269.1 97.5,269.1 97.7,269.2 97.9,269.2 98,269.2 98.2,269.2 98.4,269.3 98.6,269.3 98.8,269.3 99,269.3 99.2,269.3 99.3,269.3 99.5,269.4 99.7,269.4 99.9,269.4 100.1,269.4 100.3,269.4 100.5,269.4 100.7,269.4 100.8,269.5 101,269.5 101.2,269.5 101.4,269.5 101.6,269.5 101.8,269.5 102,269.5 102.2,269.5 102.3,269.5 102.5,269.5 102.7,269.5 102.9,269.5 103.1,269.5 103.3,269.5 103.5,269.5 103.7,269.5 103.8,269.5 104,269.5 104.2,269.5 104.4,269.5 104.6,269.5 104.8,269.5 105,269.5 105.2,269.5 105.3,269.5 105.5,269.5 105.7,269.5 105.9,269.4 106.1,269.4 106.3,269.4 106.5,269.4 106.7,269.4 106.8,269.4 107,269.4 107.2,269.4 107.4,269.4 107.6,269.4 107.8,269.3 108,269.3 108.1,269.3 108.3,269.3 108.5,269.3 108.7,269.3 108.9,269.3 109.1,269.3 109.3,269.3 109.5,269.3 109.6,269.3 109.8,269.3 110,269.2 110.2,269.2 110.4,269.2 110.6,269.2 110.8,269.2 111,269.2 111.1,269.2 111.3,269.2 111.5,269.2 111.7,269.2 111.9,269.2 112.1,269.2 112.3,269.2 112.5,269.2 112.6,269.2 112.8,269.2 113,269.2 113.2,269.2 113.4,269.2 113.6,269.2 113.8,269.2 114,269.2 114.1,269.2 114.3,269.2 114.5,269.1 114.7,269.1" fill="none" stroke="#edb120" stroke-width="0.5" marker-start="url(#n2)" marker-mid="url(#n2)" marker-end="url(#n2)"/>
</g>
<rect x="21.1" y="205.3" width="93.6" height="73.5" fill="none" stroke="#bdbdbd" stroke-width="0.5"/>
<path d="M21.1 278.8v-1M21.1 205.3v1M39.82 278.8v-1M39.82 205.3v1M58.54 278.8v-1M58.54 205.3v1M77.26 278.8v-1M77.26 205.3v1M95.98 278.8v-1M95.98 205.3v1M114.7 278.8v-1M114.7 205.3v1M21.1 278.8h1M114.7 278.8h-1M21.1 264.1h1M114.7 264.1h-1M21.1 249.4h1M114.7 249.4h-1M21.1 234.7h1M114.7 234.7h-1M21.1 220h1M114.7 220h-1M21.1 205.3h1M114.7 205.3h-1" stroke="#8a8a8a" stroke-width="0.45" fill="none"/>
<g class="tk"><text x="21.1" y="285.3" text-anchor="middle">0</text><text x="39.82" y="285.3" text-anchor="middle">100</text><text x="58.54" y="285.3" text-anchor="middle">200</text><text x="77.26" y="285.3" text-anchor="middle">300</text><text x="95.98" y="285.3" text-anchor="middle">400</text><text x="114.7" y="285.3" text-anchor="middle">500</text><text x="19.8" y="280.5" text-anchor="end">0</text><text x="19.8" y="265.8" text-anchor="end">1000</text><text x="19.8" y="251.1" text-anchor="end">2000</text><text x="19.8" y="236.4" text-anchor="end">3000</text><text x="19.8" y="221.7" text-anchor="end">4000</text><text x="19.8" y="207" text-anchor="end">5000</text></g>
<text class="tm" x="67.3" y="292.3" text-anchor="middle">Time</text>
<text class="lt" x="-0.1" y="201.1">F</text>
<text class="yl" transform="translate(5.45 243.9) rotate(-90)" text-anchor="middle">I</text>
<text class="sb" transform="translate(7.75 241.5) rotate(-90)" text-anchor="middle">2</text>
<rect x="79.4" y="208" width="32.4" height="16.2" fill="#fff" stroke="#c8c8c8" stroke-width="0.5"/>
<path d="M80.6 210.8H86.8" stroke="#8a9aa0" stroke-opacity="0.5" stroke-width="0.45"/>
<circle cx="83.7" cy="210.8" r="0.75" fill="none" stroke="#0a6290" stroke-opacity="0.75" stroke-width="0.45"/>
<text class="lw" x="88.3" y="212.1" textLength="4.6" lengthAdjust="spacingAndGlyphs">ω=</text>
<text class="lg" x="93.3" y="212.4" textLength="17.5" lengthAdjust="spacingAndGlyphs">0.000005</text>
<path d="M80.6 216.2H86.8" stroke="#8a9aa0" stroke-opacity="0.5" stroke-width="0.45"/>
<circle cx="83.7" cy="216.2" r="0.75" fill="none" stroke="#cc4f22" stroke-opacity="0.75" stroke-width="0.45"/>
<text class="lw" x="88.3" y="217.5" textLength="4.6" lengthAdjust="spacingAndGlyphs">ω=</text>
<text class="lg" x="93.3" y="217.8" textLength="17.5" lengthAdjust="spacingAndGlyphs">0.000003</text>
<path d="M80.6 221.6H86.8" stroke="#8a9aa0" stroke-opacity="0.5" stroke-width="0.45"/>
<circle cx="83.7" cy="221.6" r="0.75" fill="none" stroke="#ebae20" stroke-opacity="0.75" stroke-width="0.45"/>
<text class="lw" x="88.3" y="222.9" textLength="4.6" lengthAdjust="spacingAndGlyphs">ω=</text>
<text class="lg" x="93.3" y="223.2" textLength="17.5" lengthAdjust="spacingAndGlyphs">0.000001</text>
<path d="M169.28 202.7V278.6M188.06 202.7V278.6M206.84 202.7V278.6M225.62 202.7V278.6M150.5 265.95H244.4M150.5 253.3H244.4M150.5 240.65H244.4M150.5 228H244.4M150.5 215.35H244.4" stroke="#f6f6f6" stroke-width="0.5" fill="none"/>
<g clip-path="url(#cE)">
<polyline points="150.5,273.9 150.7,272.3 150.9,270.4 151.1,268 151.3,265.1 151.4,261.7 151.6,257.8 151.8,253.5 152,248.7 152.2,243.6 152.4,238.3 152.6,233 152.8,227.9 152.9,223 153.1,218.8 153.3,215.2 153.5,212.5 153.7,210.9" fill="none" stroke="#0a6290" stroke-width="0.5" marker-start="url(#s0)" marker-mid="url(#s0)" marker-end="url(#s0)"/>
<polyline points="153.7,210.9 153.9,210.3 154.1,210.4 154.3,210.9" fill="none" stroke="#0a6290" stroke-width="0.5" marker-start="url(#n0)" marker-mid="url(#n0)" marker-end="url(#n0)"/>
<polyline points="154.4,211.9 154.6,213.4 154.8,215.4 155,218.1 155.2,221.2 155.4,224.8 155.6,228.8 155.8,233.1 155.9,237.6 156.1,242.2 156.3,246.6 156.5,251 156.7,255 156.9,258.8 157.1,262.1 157.3,265.1 157.4,267.6 157.6,269.7 157.8,271.5 158,272.8" fill="none" stroke="#0a6290" stroke-width="0.5" marker-start="url(#s0)" marker-mid="url(#s0)" marker-end="url(#s0)"/>
<polyline points="158,272.8 158.2,273.9 158.4,274.8 158.6,275.4 158.8,275.8 159,276.1 159.1,276.4 159.3,276.5 159.5,276.6 159.7,276.6 159.9,276.7 160.1,276.7 160.3,276.7 160.5,276.7 160.6,276.7 160.8,276.7 161,276.7 161.2,276.7 161.4,276.7 161.6,276.7 161.8,276.7 162,276.7 162.1,276.7 162.3,276.7 162.5,276.7 162.7,276.7 162.9,276.7 163.1,276.7 163.3,276.7 163.5,276.7 163.6,276.7 163.8,276.7 164,276.7 164.2,276.7 164.4,276.7 164.6,276.7 164.8,276.7 165,276.7 165.1,276.7 165.3,276.7 165.5,276.7 165.7,276.7 165.9,276.7 166.1,276.7 166.3,276.7 166.5,276.6 166.7,276.4 166.8,276.1 167,275.7 167.2,275.3 167.4,274.9 167.6,274.4 167.8,273.9 168,273.4 168.2,272.9 168.3,272.4 168.5,271.9 168.7,271.4 168.9,270.9 169.1,270.3 169.3,269.8 169.5,269.3 169.7,268.9 169.8,268.4 170,267.9 170.2,267.5 170.4,267.1 170.6,266.7 170.8,266.3 171,265.9 171.2,265.6 171.3,265.3 171.5,265 171.7,264.7 171.9,264.5 172.1,264.3 172.3,264.1 172.5,263.9 172.7,263.8 172.8,263.7 173,263.6 173.2,263.5 173.4,263.5 173.6,263.5 173.8,263.6 174,263.8 174.2,264 174.4,264.3 174.5,264.6 174.7,264.9 174.9,265.2 175.1,265.5 175.3,265.9 175.5,266.2 175.7,266.6 175.9,267 176,267.3 176.2,267.7 176.4,268 176.6,268.4 176.8,268.7 177,269 177.2,269.4 177.4,269.7 177.5,270 177.7,270.3 177.9,270.6 178.1,270.8 178.3,271.1 178.5,271.3 178.7,271.5 178.9,271.7 179,271.9 179.2,272.1 179.4,272.3 179.6,272.4 179.8,272.6 180,272.7 180.2,272.8 180.4,272.9 180.5,272.9 180.7,273 180.9,273 181.1,273 181.3,273 181.5,273 181.7,273 181.9,272.9 182.1,272.8 182.2,272.7 182.4,272.6 182.6,272.5 182.8,272.4 183,272.3 183.2,272.2 183.4,272.1 183.6,272 183.7,271.9 183.9,271.7 184.1,271.6 184.3,271.5 184.5,271.4 184.7,271.2 184.9,271.1 185.1,271 185.2,270.9 185.4,270.7 185.6,270.6 185.8,270.5 186,270.4 186.2,270.3 186.4,270.2 186.6,270.1 186.7,270 186.9,269.9 187.1,269.8 187.3,269.7 187.5,269.6 187.7,269.5 187.9,269.4 188.1,269.3 188.2,269.2 188.4,269.2 188.6,269.1 188.8,269.1 189,269 189.2,268.9 189.4,268.9 189.6,268.9 189.8,268.8 189.9,268.8 190.1,268.8 190.3,268.7 190.5,268.7 190.7,268.7 190.9,268.7 191.1,268.7 191.3,268.7 191.4,268.7 191.6,268.8 191.8,268.8 192,268.9 192.2,269 192.4,269.1 192.6,269.1 192.8,269.2 192.9,269.3 193.1,269.4 193.3,269.5 193.5,269.6 193.7,269.7 193.9,269.8 194.1,269.9 194.3,270 194.4,270.1 194.6,270.2 194.8,270.3 195,270.4 195.2,270.4 195.4,270.5 195.6,270.6 195.8,270.7 195.9,270.7 196.1,270.8 196.3,270.8 196.5,270.9 196.7,270.9 196.9,271 197.1,271 197.3,271.1 197.4,271.1 197.6,271.1 197.8,271.1 198,271.2 198.2,271.2 198.4,271.2 198.6,271.2 198.8,271.2 199,271.2 199.1,271.2 199.3,271.1 199.5,271.1 199.7,271.1 199.9,271 200.1,271 200.3,271 200.5,270.9 200.6,270.9 200.8,270.8 201,270.8 201.2,270.8 201.4,270.7 201.6,270.7 201.8,270.6 202,270.6 202.1,270.5 202.3,270.5 202.5,270.4 202.7,270.4 202.9,270.4 203.1,270.3 203.3,270.3 203.5,270.2 203.6,270.2 203.8,270.2 204,270.1 204.2,270.1 204.4,270.1 204.6,270 204.8,270 205,270 205.1,269.9 205.3,269.9 205.5,269.9 205.7,269.9 205.9,269.9 206.1,269.8 206.3,269.8 206.5,269.8 206.7,269.8 206.8,269.8 207,269.8 207.2,269.8 207.4,269.8 207.6,269.8 207.8,269.8 208,269.8 208.2,269.8 208.3,269.8 208.5,269.8 208.7,269.8 208.9,269.9 209.1,269.9 209.3,269.9 209.5,269.9 209.7,269.9 209.8,270 210,270 210.2,270 210.4,270 210.6,270.1 210.8,270.1 211,270.1 211.2,270.1 211.3,270.1 211.5,270.2 211.7,270.2 211.9,270.2 212.1,270.2 212.3,270.2 212.5,270.3 212.7,270.3 212.8,270.3 213,270.3 213.2,270.3 213.4,270.3 213.6,270.4 213.8,270.4 214,270.4 214.2,270.4 214.4,270.4 214.5,270.4 214.7,270.4 214.9,270.4 215.1,270.4 215.3,270.4 215.5,270.4 215.7,270.4 215.9,270.4 216,270.4 216.2,270.4 216.4,270.4 216.6,270.4 216.8,270.4 217,270.4 217.2,270.4 217.4,270.4 217.5,270.4 217.7,270.4 217.9,270.4 218.1,270.3 218.3,270.3 218.5,270.3 218.7,270.3 218.9,270.3 219,270.3 219.2,270.3 219.4,270.3 219.6,270.2 219.8,270.2 220,270.2 220.2,270.2 220.4,270.2 220.5,270.2 220.7,270.2 220.9,270.2 221.1,270.1 221.3,270.1 221.5,270.1 221.7,270.1 221.9,270.1 222.1,270.1 222.2,270.1 222.4,270.1 222.6,270.1 222.8,270.1 223,270.1 223.2,270.1 223.4,270 223.6,270 223.7,270 223.9,270 224.1,270 224.3,270 224.5,270 224.7,270 224.9,270 225.1,270 225.2,270 225.4,270 225.6,270 225.8,270 226,270 226.2,270 226.4,270 226.6,270.1 226.7,270.1 226.9,270.1 227.1,270.1 227.3,270.1 227.5,270.1 227.7,270.1 227.9,270.1 228.1,270.1 228.2,270.1 228.4,270.1 228.6,270.1 228.8,270.1 229,270.1 229.2,270.2 229.4,270.2 229.6,270.2 229.8,270.2 229.9,270.2 230.1,270.2 230.3,270.2 230.5,270.2 230.7,270.2 230.9,270.2 231.1,270.2 231.3,270.2 231.4,270.2 231.6,270.2 231.8,270.2 232,270.2 232.2,270.2 232.4,270.2 232.6,270.3 232.8,270.3 232.9,270.3 233.1,270.3 233.3,270.3 233.5,270.3 233.7,270.3 233.9,270.3 234.1,270.3 234.3,270.3 234.4,270.3 234.6,270.3 234.8,270.3 235,270.3 235.2,270.3 235.4,270.3 235.6,270.3 235.8,270.3 235.9,270.3 236.1,270.3 236.3,270.3 236.5,270.3 236.7,270.3 236.9,270.3 237.1,270.3 237.3,270.2 237.5,270.2 237.6,270.2 237.8,270.2 238,270.2 238.2,270.2 238.4,270.2 238.6,270.2 238.8,270.2 239,270.2 239.1,270.2 239.3,270.2 239.5,270.2 239.7,270.2 239.9,270.2 240.1,270.2 240.3,270.2 240.5,270.2 240.6,270.2 240.8,270.2 241,270.2 241.2,270.2 241.4,270.2 241.6,270.2 241.8,270.2 242,270.2 242.1,270.2 242.3,270.2 242.5,270.2 242.7,270.2 242.9,270.2 243.1,270.2 243.3,270.2 243.5,270.2 243.6,270.2 243.8,270.2 244,270.2 244.2,270.2 244.4,270.2" fill="none" stroke="#0a6290" stroke-width="0.5" marker-start="url(#n0)" marker-mid="url(#n0)" marker-end="url(#n0)"/>
<polyline points="150.5,277.9 150.7,277.6 150.9,277.2 151.1,276.6 151.3,275.9 151.4,275" fill="none" stroke="#cc4f22" stroke-width="0.5" marker-start="url(#n1)" marker-mid="url(#n1)" marker-end="url(#n1)"/>
<polyline points="151.6,273.8 151.8,272.4 152,270.6 152.2,268.5 152.4,266 152.6,263.1 152.8,259.9 152.9,256.4 153.1,252.5 153.3,248.5 153.5,244.4 153.7,240.3 153.9,236.3 154.1,232.6 154.3,229.4 154.4,226.7 154.6,224.7 154.8,223.5" fill="none" stroke="#cc4f22" stroke-width="0.5" marker-start="url(#s1)" marker-mid="url(#s1)" marker-end="url(#s1)"/>
<polyline points="154.8,223.5 155,223.1 155.2,223.1 155.4,223.4 155.6,224" fill="none" stroke="#cc4f22" stroke-width="0.5" marker-start="url(#n1)" marker-mid="url(#n1)" marker-end="url(#n1)"/>
<polyline points="155.8,224.9 155.9,226.2 156.1,227.8 156.3,229.8 156.5,232.1 156.7,234.7 156.9,237.6 157.1,240.6 157.3,243.8 157.4,247.1 157.6,250.3 157.8,253.5 158,256.5 158.2,259.4 158.4,262.1 158.6,264.5 158.8,266.7 159,268.6 159.1,270.3 159.3,271.7" fill="none" stroke="#cc4f22" stroke-width="0.5" marker-start="url(#s1)" marker-mid="url(#s1)" marker-end="url(#s1)"/>
<polyline points="159.3,271.7 159.5,272.8 159.7,273.8 159.9,274.5 160.1,275.1 160.3,275.6 160.5,275.9 160.6,276.2 160.8,276.4 161,276.5 161.2,276.6 161.4,276.6 161.6,276.7 161.8,276.7 162,276.7 162.1,276.7 162.3,276.7 162.5,276.7 162.7,276.7 162.9,276.7 163.1,276.7 163.3,276.7 163.5,276.7 163.6,276.7 163.8,276.7 164,276.7 164.2,276.7 164.4,276.7 164.6,276.7 164.8,276.7 165,276.7 165.1,276.7 165.3,276.7 165.5,276.7 165.7,276.7 165.9,276.7 166.1,276.7 166.3,276.7 166.5,276.7 166.7,276.7 166.8,276.7 167,276.7 167.2,276.7 167.4,276.7 167.6,276.7 167.8,276.7 168,276.7 168.2,276.7 168.3,276.7 168.5,276.7 168.7,276.7 168.9,276.7 169.1,276.7 169.3,276.7 169.5,276.6 169.7,276.4 169.8,276.1 170,275.8 170.2,275.4 170.4,275 170.6,274.5 170.8,274.1 171,273.6 171.2,273.1 171.3,272.6 171.5,272.1 171.7,271.6 171.9,271.1 172.1,270.6 172.3,270.2 172.5,269.7 172.7,269.2 172.8,268.7 173,268.3 173.2,267.8 173.4,267.4 173.6,267 173.8,266.6 174,266.2 174.2,265.9 174.4,265.6 174.5,265.2 174.7,265 174.9,264.7 175.1,264.4 175.3,264.2 175.5,264 175.7,263.9 175.9,263.7 176,263.6 176.2,263.5 176.4,263.4 176.6,263.3 176.8,263.3 177,263.3 177.2,263.4 177.4,263.6 177.5,263.8 177.7,264 177.9,264.2 178.1,264.5 178.3,264.8 178.5,265.1 178.7,265.4 178.9,265.7 179,266 179.2,266.4 179.4,266.7 179.6,267 179.8,267.3 180,267.7 180.2,268 180.4,268.3 180.5,268.6 180.7,268.9 180.9,269.2 181.1,269.5 181.3,269.8 181.5,270 181.7,270.3 181.9,270.6 182.1,270.8 182.2,271 182.4,271.2 182.6,271.5 182.8,271.6 183,271.8 183.2,272 183.4,272.2 183.6,272.3 183.7,272.4 183.9,272.5 184.1,272.7 184.3,272.7 184.5,272.8 184.7,272.9 184.9,273 185.1,273 185.2,273 185.4,273 185.6,273 185.8,273 186,273 186.2,272.9 186.4,272.8 186.6,272.7 186.7,272.6 186.9,272.5 187.1,272.4 187.3,272.3 187.5,272.2 187.7,272.1 187.9,272 188.1,271.8 188.2,271.7 188.4,271.6 188.6,271.5 188.8,271.3 189,271.2 189.2,271.1 189.4,271 189.6,270.8 189.8,270.7 189.9,270.6 190.1,270.5 190.3,270.3 190.5,270.2 190.7,270.1 190.9,270 191.1,269.9 191.3,269.8 191.4,269.7 191.6,269.6 191.8,269.5 192,269.4 192.2,269.3 192.4,269.2 192.6,269.2 192.8,269.1 192.9,269 193.1,268.9 193.3,268.9 193.5,268.8 193.7,268.8 193.9,268.7 194.1,268.7 194.3,268.6 194.4,268.6 194.6,268.6 194.8,268.6 195,268.5 195.2,268.5 195.4,268.5 195.6,268.5 195.8,268.5 195.9,268.5 196.1,268.6 196.3,268.6 196.5,268.7 196.7,268.8 196.9,268.9 197.1,269 197.3,269.1 197.4,269.1 197.6,269.2 197.8,269.3 198,269.4 198.2,269.5 198.4,269.6 198.6,269.7 198.8,269.8 199,269.9 199.1,270 199.3,270.1 199.5,270.2 199.7,270.3 199.9,270.4 200.1,270.4 200.3,270.5 200.5,270.6 200.6,270.7 200.8,270.7 201,270.8 201.2,270.9 201.4,270.9 201.6,271 201.8,271 202,271.1 202.1,271.1 202.3,271.2 202.5,271.2 202.7,271.2 202.9,271.3 203.1,271.3 203.3,271.3 203.5,271.3 203.6,271.3 203.8,271.4 204,271.4 204.2,271.4 204.4,271.4 204.6,271.3 204.8,271.3 205,271.3 205.1,271.2 205.3,271.2 205.5,271.2 205.7,271.1 205.9,271.1 206.1,271 206.3,271 206.5,270.9 206.7,270.9 206.8,270.8 207,270.8 207.2,270.7 207.4,270.7 207.6,270.6 207.8,270.6 208,270.5 208.2,270.5 208.3,270.4 208.5,270.4 208.7,270.4 208.9,270.3 209.1,270.3 209.3,270.2 209.5,270.2 209.7,270.1 209.8,270.1 210,270.1 210.2,270 210.4,270 210.6,270 210.8,270 211,269.9 211.2,269.9 211.3,269.9 211.5,269.9 211.7,269.8 211.9,269.8 212.1,269.8 212.3,269.8 212.5,269.8 212.7,269.8 212.8,269.8 213,269.8 213.2,269.8 213.4,269.8 213.6,269.8 213.8,269.8 214,269.8 214.2,269.8 214.4,269.8 214.5,269.9 214.7,269.9 214.9,269.9 215.1,269.9 215.3,270 215.5,270 215.7,270 215.9,270 216,270 216.2,270.1 216.4,270.1 216.6,270.1 216.8,270.1 217,270.2 217.2,270.2 217.4,270.2 217.5,270.2 217.7,270.3 217.9,270.3 218.1,270.3 218.3,270.3 218.5,270.3 218.7,270.4 218.9,270.4 219,270.4 219.2,270.4 219.4,270.4 219.6,270.4 219.8,270.4 220,270.5 220.2,270.5 220.4,270.5 220.5,270.5 220.7,270.5 220.9,270.5 221.1,270.5 221.3,270.5 221.5,270.5 221.7,270.5 221.9,270.5 222.1,270.5 222.2,270.5 222.4,270.5 222.6,270.5 222.8,270.5 223,270.5 223.2,270.5 223.4,270.5 223.6,270.5 223.7,270.4 223.9,270.4 224.1,270.4 224.3,270.4 224.5,270.4 224.7,270.4 224.9,270.4 225.1,270.3 225.2,270.3 225.4,270.3 225.6,270.3 225.8,270.3 226,270.3 226.2,270.2 226.4,270.2 226.6,270.2 226.7,270.2 226.9,270.2 227.1,270.2 227.3,270.2 227.5,270.1 227.7,270.1 227.9,270.1 228.1,270.1 228.2,270.1 228.4,270.1 228.6,270.1 228.8,270.1 229,270.1 229.2,270.1 229.4,270.1 229.6,270 229.8,270 229.9,270 230.1,270 230.3,270 230.5,270 230.7,270 230.9,270 231.1,270 231.3,270 231.4,270 231.6,270 231.8,270 232,270 232.2,270 232.4,270 232.6,270 232.8,270 232.9,270 233.1,270 233.3,270 233.5,270.1 233.7,270.1 233.9,270.1 234.1,270.1 234.3,270.1 234.4,270.1 234.6,270.1 234.8,270.1 235,270.1 235.2,270.1 235.4,270.1 235.6,270.1 235.8,270.1 235.9,270.1 236.1,270.1 236.3,270.1 236.5,270.1 236.7,270.1 236.9,270.1 237.1,270.1 237.3,270.1 237.5,270.1 237.6,270.1 237.8,270.1 238,270.1 238.2,270.1 238.4,270.1 238.6,270.1 238.8,270.1 239,270.1 239.1,270.2 239.3,270.2 239.5,270.2 239.7,270.2 239.9,270.2 240.1,270.2 240.3,270.2 240.5,270.2 240.6,270.2 240.8,270.2 241,270.2 241.2,270.2 241.4,270.2 241.6,270.2 241.8,270.2 242,270.2 242.1,270.2 242.3,270.2 242.5,270.2 242.7,270.2 242.9,270.2 243.1,270.2 243.3,270.2 243.5,270.2 243.6,270.2 243.8,270.2 244,270.2 244.2,270.2 244.4,270.2" fill="none" stroke="#cc4f22" stroke-width="0.5" marker-start="url(#n1)" marker-mid="url(#n1)" marker-end="url(#n1)"/>
<polyline points="150.5,278.5 150.7,278.4 150.9,278.3 151.1,278.2 151.3,278 151.4,277.8 151.6,277.4 151.8,277 152,276.4 152.2,275.7 152.4,274.8" fill="none" stroke="#edb120" stroke-width="0.5" marker-start="url(#n2)" marker-mid="url(#n2)" marker-end="url(#n2)"/>
<polyline points="152.6,273.7 152.8,272.4 152.9,270.8 153.1,268.9 153.3,266.8 153.5,264.3 153.7,261.6 153.9,258.7 154.1,255.5 154.3,252.3 154.4,249 154.6,245.7 154.8,242.6 155,239.8 155.2,237.3 155.4,235.2 155.6,233.7" fill="none" stroke="#edb120" stroke-width="0.5" marker-start="url(#s2)" marker-mid="url(#s2)" marker-end="url(#s2)"/>
<polyline points="155.6,233.7 155.8,232.7 155.9,232.4 156.1,232.5 156.3,232.6 156.5,233 156.7,233.6 156.9,234.3" fill="none" stroke="#edb120" stroke-width="0.5" marker-start="url(#n2)" marker-mid="url(#n2)" marker-end="url(#n2)"/>
<polyline points="157.1,235.3 157.3,236.5 157.4,238 157.6,239.6 157.8,241.5 158,243.5 158.2,245.6 158.4,247.9 158.6,250.2 158.8,252.5 159,254.9 159.1,257.2 159.3,259.4 159.5,261.5 159.7,263.5 159.9,265.4 160.1,267.1 160.3,268.6 160.5,270 160.6,271.2" fill="none" stroke="#edb120" stroke-width="0.5" marker-start="url(#s2)" marker-mid="url(#s2)" marker-end="url(#s2)"/>
<polyline points="160.6,271.2 160.8,272.2 161,273.1 161.2,273.9 161.4,274.5 161.6,275 161.8,275.4 162,275.7 162.1,276 162.3,276.2 162.5,276.3 162.7,276.4 162.9,276.5 163.1,276.6 163.3,276.6 163.5,276.7 163.6,276.7 163.8,276.7 164,276.7 164.2,276.7 164.4,276.7 164.6,276.7 164.8,276.7 165,276.7 165.1,276.7 165.3,276.7 165.5,276.7 165.7,276.7 165.9,276.7 166.1,276.7 166.3,276.7 166.5,276.7 166.7,276.7 166.8,276.7 167,276.7 167.2,276.7 167.4,276.7 167.6,276.7 167.8,276.7 168,276.7 168.2,276.7 168.3,276.7 168.5,276.7 168.7,276.7 168.9,276.7 169.1,276.7 169.3,276.7 169.5,276.7 169.7,276.7 169.8,276.7 170,276.7 170.2,276.7 170.4,276.7 170.6,276.7 170.8,276.7 171,276.7 171.2,276.7 171.3,276.7 171.5,276.7 171.7,276.7 171.9,276.7 172.1,276.7 172.3,276.7 172.5,276.7 172.7,276.7 172.8,276.6 173,276.4 173.2,276.1 173.4,275.8 173.6,275.5 173.8,275.2 174,274.8 174.2,274.4 174.4,274 174.5,273.6 174.7,273.1 174.9,272.7 175.1,272.3 175.3,271.8 175.5,271.4 175.7,271 175.9,270.5 176,270.1 176.2,269.7 176.4,269.2 176.6,268.8 176.8,268.4 177,268 177.2,267.7 177.4,267.3 177.5,267 177.7,266.6 177.9,266.3 178.1,266 178.3,265.7 178.5,265.4 178.7,265.2 178.9,265 179,264.7 179.2,264.6 179.4,264.4 179.6,264.2 179.8,264.1 180,264 180.2,263.9 180.4,263.8 180.5,263.7 180.7,263.7 180.9,263.6 181.1,263.6 181.3,263.7 181.5,263.9 181.7,264 181.9,264.2 182.1,264.5 182.2,264.7 182.4,265 182.6,265.2 182.8,265.5 183,265.8 183.2,266.1 183.4,266.4 183.6,266.7 183.7,267 183.9,267.3 184.1,267.6 184.3,267.9 184.5,268.2 184.7,268.5 184.9,268.8 185.1,269 185.2,269.3 185.4,269.6 185.6,269.9 185.8,270.1 186,270.4 186.2,270.6 186.4,270.8 186.6,271.1 186.7,271.3 186.9,271.5 187.1,271.7 187.3,271.9 187.5,272 187.7,272.2 187.9,272.4 188.1,272.5 188.2,272.6 188.4,272.8 188.6,272.9 188.8,273 189,273.1 189.2,273.1 189.4,273.2 189.6,273.3 189.8,273.3 189.9,273.3 190.1,273.4 190.3,273.4 190.5,273.4 190.7,273.4 190.9,273.3 191.1,273.3 191.3,273.2 191.4,273.1 191.6,273.1 191.8,273 192,272.9 192.2,272.8 192.4,272.7 192.6,272.6 192.8,272.5 192.9,272.4 193.1,272.3 193.3,272.2 193.5,272.1 193.7,272 193.9,271.9 194.1,271.8 194.3,271.7 194.4,271.6 194.6,271.5 194.8,271.4 195,271.3 195.2,271.2 195.4,271.1 195.6,270.9 195.8,270.8 195.9,270.7 196.1,270.6 196.3,270.5 196.5,270.4 196.7,270.3 196.9,270.2 197.1,270.1 197.3,270 197.4,270 197.6,269.9 197.8,269.8 198,269.7 198.2,269.6 198.4,269.5 198.6,269.5 198.8,269.4 199,269.3 199.1,269.2 199.3,269.2 199.5,269.1 199.7,269.1 199.9,269 200.1,268.9 200.3,268.9 200.5,268.8 200.6,268.8 200.8,268.8 201,268.7 201.2,268.7 201.4,268.7 201.6,268.6 201.8,268.6 202,268.6 202.1,268.6 202.3,268.5 202.5,268.5 202.7,268.5 202.9,268.5 203.1,268.5 203.3,268.5 203.5,268.5 203.6,268.6 203.8,268.6 204,268.7 204.2,268.8 204.4,268.8 204.6,268.9 204.8,269 205,269.1 205.1,269.2 205.3,269.3 205.5,269.4 205.7,269.5 205.9,269.5 206.1,269.6 206.3,269.7 206.5,269.8 206.7,269.9 206.8,270 207,270.1 207.2,270.2 207.4,270.3 207.6,270.3 207.8,270.4 208,270.5 208.2,270.6 208.3,270.7 208.5,270.7 208.7,270.8 208.9,270.9 209.1,270.9 209.3,271 209.5,271 209.7,271.1 209.8,271.1 210,271.2 210.2,271.2 210.4,271.3 210.6,271.3 210.8,271.3 211,271.3 211.2,271.4 211.3,271.4 211.5,271.4 211.7,271.4 211.9,271.4 212.1,271.4 212.3,271.4 212.5,271.4 212.7,271.4 212.8,271.4 213,271.4 213.2,271.4 213.4,271.3 213.6,271.3 213.8,271.3 214,271.2 214.2,271.2 214.4,271.1 214.5,271.1 214.7,271 214.9,271 215.1,270.9 215.3,270.9 215.5,270.8 215.7,270.8 215.9,270.8 216,270.7 216.2,270.7 216.4,270.6 216.6,270.6 216.8,270.5 217,270.5 217.2,270.4 217.4,270.4 217.5,270.3 217.7,270.3 217.9,270.2 218.1,270.2 218.3,270.2 218.5,270.1 218.7,270.1 218.9,270.1 219,270 219.2,270 219.4,270 219.6,269.9 219.8,269.9 220,269.9 220.2,269.8 220.4,269.8 220.5,269.8 220.7,269.8 220.9,269.8 221.1,269.8 221.3,269.7 221.5,269.7 221.7,269.7 221.9,269.7 222.1,269.7 222.2,269.7 222.4,269.7 222.6,269.7 222.8,269.7 223,269.7 223.2,269.7 223.4,269.7 223.6,269.7 223.7,269.7 223.9,269.8 224.1,269.8 224.3,269.8 224.5,269.8 224.7,269.8 224.9,269.9 225.1,269.9 225.2,269.9 225.4,269.9 225.6,269.9 225.8,270 226,270 226.2,270 226.4,270 226.6,270 226.7,270.1 226.9,270.1 227.1,270.1 227.3,270.1 227.5,270.1 227.7,270.2 227.9,270.2 228.1,270.2 228.2,270.2 228.4,270.2 228.6,270.2 228.8,270.3 229,270.3 229.2,270.3 229.4,270.3 229.6,270.3 229.8,270.3 229.9,270.3 230.1,270.4 230.3,270.4 230.5,270.4 230.7,270.4 230.9,270.4 231.1,270.4 231.3,270.4 231.4,270.4 231.6,270.4 231.8,270.4 232,270.4 232.2,270.4 232.4,270.4 232.6,270.4 232.8,270.4 232.9,270.4 233.1,270.4 233.3,270.4 233.5,270.4 233.7,270.4 233.9,270.4 234.1,270.4 234.3,270.4 234.4,270.4 234.6,270.4 234.8,270.4 235,270.4 235.2,270.4 235.4,270.4 235.6,270.4 235.8,270.4 235.9,270.3 236.1,270.3 236.3,270.3 236.5,270.3 236.7,270.3 236.9,270.3 237.1,270.3 237.3,270.3 237.5,270.3 237.6,270.3 237.8,270.3 238,270.3 238.2,270.2 238.4,270.2 238.6,270.2 238.8,270.2 239,270.2 239.1,270.2 239.3,270.2 239.5,270.2 239.7,270.2 239.9,270.2 240.1,270.2 240.3,270.2 240.5,270.2 240.6,270.2 240.8,270.2 241,270.1 241.2,270.1 241.4,270.1 241.6,270.1 241.8,270.1 242,270.1 242.1,270.1 242.3,270.1 242.5,270.1 242.7,270.1 242.9,270.1 243.1,270.1 243.3,270.1 243.5,270.1 243.6,270.1 243.8,270.1 244,270.1 244.2,270.1 244.4,270.1" fill="none" stroke="#edb120" stroke-width="0.5" marker-start="url(#n2)" marker-mid="url(#n2)" marker-end="url(#n2)"/>
</g>
<rect x="150.5" y="202.7" width="93.9" height="75.9" fill="none" stroke="#bdbdbd" stroke-width="0.5"/>
<path d="M150.5 278.6v-1M150.5 202.7v1M169.28 278.6v-1M169.28 202.7v1M188.06 278.6v-1M188.06 202.7v1M206.84 278.6v-1M206.84 202.7v1M225.62 278.6v-1M225.62 202.7v1M244.4 278.6v-1M244.4 202.7v1M150.5 278.6h1M244.4 278.6h-1M150.5 265.95h1M244.4 265.95h-1M150.5 253.3h1M244.4 253.3h-1M150.5 240.65h1M244.4 240.65h-1M150.5 228h1M244.4 228h-1M150.5 215.35h1M244.4 215.35h-1M150.5 202.7h1M244.4 202.7h-1" stroke="#8a8a8a" stroke-width="0.45" fill="none"/>
<g class="tk"><text x="150.5" y="285.1" text-anchor="middle">0</text><text x="169.28" y="285.1" text-anchor="middle">100</text><text x="188.06" y="285.1" text-anchor="middle">200</text><text x="206.84" y="285.1" text-anchor="middle">300</text><text x="225.62" y="285.1" text-anchor="middle">400</text><text x="244.4" y="285.1" text-anchor="middle">500</text><text x="149.2" y="280.3" text-anchor="end">0</text><text x="149.2" y="267.65" text-anchor="end">2000</text><text x="149.2" y="255" text-anchor="end">4000</text><text x="149.2" y="242.35" text-anchor="end">6000</text><text x="149.2" y="229.7" text-anchor="end">8000</text><text x="149.2" y="217.05" text-anchor="end">10000</text><text x="149.2" y="204.4" text-anchor="end">12000</text></g>
<text class="tm" x="197.5" y="292" text-anchor="middle">Time</text>
<text class="lt" x="125.7" y="202.2">E</text>
<text class="yl" transform="translate(131.35 241.7) rotate(-90)" text-anchor="middle">I</text>
<text class="sb" transform="translate(133.65 239.3) rotate(-90)" text-anchor="middle">1</text>
<rect x="208.7" y="205" width="32.4" height="16.7" fill="#fff" stroke="#c8c8c8" stroke-width="0.5"/>
<path d="M209.9 207.88H216.1" stroke="#8a9aa0" stroke-opacity="0.5" stroke-width="0.45"/>
<circle cx="213" cy="207.88" r="0.75" fill="none" stroke="#0a6290" stroke-opacity="0.75" stroke-width="0.45"/>
<text class="lw" x="217.6" y="209.18" textLength="4.6" lengthAdjust="spacingAndGlyphs">ω=</text>
<text class="lg" x="222.6" y="209.48" textLength="17.5" lengthAdjust="spacingAndGlyphs">0.000005</text>
<path d="M209.9 213.45H216.1" stroke="#8a9aa0" stroke-opacity="0.5" stroke-width="0.45"/>
<circle cx="213" cy="213.45" r="0.75" fill="none" stroke="#cc4f22" stroke-opacity="0.75" stroke-width="0.45"/>
<text class="lw" x="217.6" y="214.75" textLength="4.6" lengthAdjust="spacingAndGlyphs">ω=</text>
<text class="lg" x="222.6" y="215.05" textLength="17.5" lengthAdjust="spacingAndGlyphs">0.000003</text>
<path d="M209.9 219.02H216.1" stroke="#8a9aa0" stroke-opacity="0.5" stroke-width="0.45"/>
<circle cx="213" cy="219.02" r="0.75" fill="none" stroke="#ebae20" stroke-opacity="0.75" stroke-width="0.45"/>
<text class="lw" x="217.6" y="220.32" textLength="4.6" lengthAdjust="spacingAndGlyphs">ω=</text>
<text class="lg" x="222.6" y="220.62" textLength="17.5" lengthAdjust="spacingAndGlyphs">0.000001</text>
</svg>
</body></html>
